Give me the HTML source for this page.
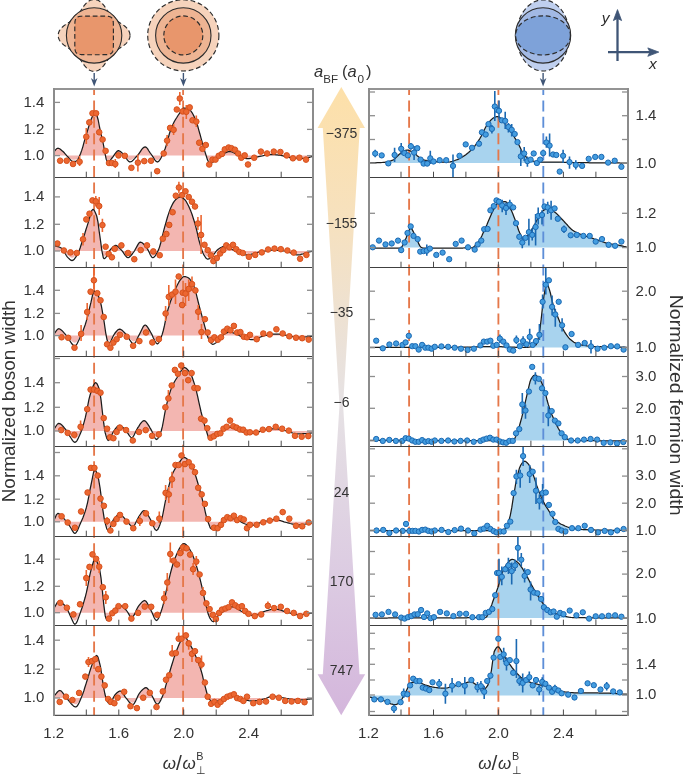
<!DOCTYPE html>
<html><head><meta charset="utf-8"><title>figure</title>
<style>
html,body{margin:0;padding:0;background:#fff;}
body{width:685px;height:781px;overflow:hidden;position:relative;}
svg{position:absolute;left:0;top:0;}
svg text{font-family:"Liberation Sans",Arial,sans-serif;}
</style></head><body>
<svg width="685" height="781" viewBox="0 0 685 781">
<defs>
<linearGradient id="ag" x1="0" y1="87" x2="0" y2="715" gradientUnits="userSpaceOnUse"><stop offset="0" stop-color="#fde0a9"/><stop offset="0.22" stop-color="#f6e1bf"/><stop offset="0.5" stop-color="#e6e2e4"/><stop offset="0.78" stop-color="#dccbe2"/><stop offset="1" stop-color="#d4b6dc"/></linearGradient>
<clipPath id="cl1"><rect x="54" y="89" width="259" height="88.5"/></clipPath>
<clipPath id="cl2"><rect x="54" y="177.5" width="259" height="90"/></clipPath>
<clipPath id="cl3"><rect x="54" y="267.5" width="259" height="89"/></clipPath>
<clipPath id="cl4"><rect x="54" y="356.5" width="259" height="90"/></clipPath>
<clipPath id="cl5"><rect x="54" y="446.5" width="259" height="90"/></clipPath>
<clipPath id="cl6"><rect x="54" y="536.5" width="259" height="89"/></clipPath>
<clipPath id="cl7"><rect x="54" y="625.5" width="259" height="89.8"/></clipPath>
<clipPath id="cr1"><rect x="369" y="89" width="259" height="88.5"/></clipPath>
<clipPath id="cr2"><rect x="369" y="177.5" width="259" height="90"/></clipPath>
<clipPath id="cr3"><rect x="369" y="267.5" width="259" height="89"/></clipPath>
<clipPath id="cr4"><rect x="369" y="356.5" width="259" height="90"/></clipPath>
<clipPath id="cr5"><rect x="369" y="446.5" width="259" height="90"/></clipPath>
<clipPath id="cr6"><rect x="369" y="536.5" width="259" height="89"/></clipPath>
<clipPath id="cr7"><rect x="369" y="625.5" width="259" height="89.8"/></clipPath>
</defs>
<polygon points="341.3,87.1 365,128 359.8,128 343.1,405 359.5,674.3 365.2,674.3 341.2,715.2 317.6,674.3 322.8,674.3 339.5,405 322.8,128 317.6,128" fill="url(#ag)"/>
<g clip-path="url(#cl1)">
<path d="M54 151.6 L55.3 150.2 L56.5 148.8 L57.8 148.2 L59.1 148.5 L60.4 149.3 L61.7 150.4 L63 151.5 L64.3 152.8 L65.6 154.3 L66.9 155.6 L68.2 155.6 L69.4 155.6 L70.6 155.6 L71.8 155.6 L73 155.6 L74.2 155.6 L75.3 155.6 L76.5 155.6 L77.9 155.6 L79.2 155.6 L80.6 153.5 L81.7 150.4 L82.9 146.6 L84 142.4 L85.2 138.3 L86.3 134.5 L87.4 131 L88.5 127.4 L89.6 123.8 L90.7 120.5 L91.8 117.7 L92.9 115.6 L93.8 114.1 L94.8 113.3 L95.8 113.8 L96.8 115 L98.2 120 L99.5 127 L100.5 131.6 L101.6 136.3 L102.7 141 L103.7 146 L105 153.4 L106.2 155.6 L107.1 155.6 L108 155.6 L109.3 155.6 L110.7 155.6 L112 155.6 L113.3 155.6 L114.6 154.4 L115.9 152.6 L117.2 151.2 L118.5 150.7 L119.6 151 L120.7 151.7 L121.8 152.7 L122.9 153.9 L124 155 L125.2 155.6 L126.4 155.6 L127.5 155.6 L128.7 155.6 L129.9 155.6 L131.1 155.6 L132.3 155.6 L133.4 155.6 L134.6 155.6 L135.8 155.6 L137 155.6 L138.2 154.7 L139.3 153.1 L140.5 151.3 L141.6 149.7 L142.8 148.2 L143.9 147.3 L145.1 146.9 L146.3 147.4 L147.5 148.7 L148.6 150.5 L149.8 152.3 L151 154 L152.3 155.6 L153.6 155.6 L154.8 155.6 L156.1 155.6 L157.4 155.6 L158.7 155.6 L160 155.6 L161.4 155.6 L162.7 154.4 L164 151.6 L165.3 148.3 L166.6 144.1 L167.8 139.5 L169.1 134.8 L170.4 130.5 L171.7 127 L173 124.3 L174.2 121.8 L175.5 119.5 L176.8 117.5 L178 115.5 L179.3 113.7 L180.5 111.9 L181.7 110 L182.8 108.6 L184 108 L185.1 108.1 L186.3 108.4 L187.4 108.8 L188.6 109.3 L189.7 109.9 L190.8 110.9 L192 112.5 L193.1 114.5 L194.3 116.9 L195.4 119.4 L196.5 122.4 L197.7 126 L198.8 130.1 L200 134.2 L201.1 138.3 L202.4 142.8 L203.6 147.4 L204.9 151.6 L206.2 155.6 L207.4 155.6 L208.7 155.6 L209.6 155.6 L210.6 155.6 L211.7 155.6 L212.8 155.6 L213.8 155.6 L214.9 155.6 L216 155.6 L217.2 155.6 L218.4 155.6 L219.6 155.6 L220.8 155.2 L222 154.5 L223.2 153.8 L224.5 153.2 L225.8 152.6 L227 152.1 L228.2 151.7 L229.5 151.6 L230.7 151.7 L231.9 152 L233.1 152.5 L234.2 153 L235.4 153.6 L236.6 154.2 L237.8 154.9 L239 155.4 L240.3 155.6 L241.5 155.6 L242.8 155.6 L244.1 155.6 L245.3 155.6 L246.6 155.6 L247.8 155.6 L249 155.6 L250.2 155.6 L251.4 155.6 L252.6 155.6 L253.9 155.6 L255.1 155.6 L256.3 155.6 L257.5 155.6 L258.7 155.6 L259.9 155.6 L261 155.6 L262.2 155.6 L263.3 155.6 L264.5 155.5 L265.6 155.2 L266.7 155 L267.9 154.8 L269 154.6 L270.2 154.5 L271.3 154.5 L272.5 154.5 L273.7 154.6 L274.9 154.7 L276.1 154.8 L277.2 154.9 L278.4 155.1 L279.6 155.2 L280.8 155.4 L282 155.6 L283.2 155.6 L284.4 155.6 L285.6 155.6 L286.7 155.6 L287.9 155.6 L289.1 155.6 L290.3 155.6 L291.5 155.6 L292.7 155.6 L293.9 155.6 L295.1 155.6 L296.3 155.6 L297.6 155.6 L298.8 155.6 L300 155.6 L301.2 155.6 L302.4 155.6 L303.6 155.6 L304.8 155.6 L306 155.6 L307.1 155.6 L308.3 155.6 L309.5 155.6 L310.6 155.6 L311.8 155.6 L313 155.6 L315 155.6 L315 156.2 L313 156.2 L311.8 156.3 L310.6 156.6 L309.5 156.8 L308.3 157 L307.1 157.2 L306 157.3 L304.8 157.5 L303.6 157.5 L302.4 157.5 L301.2 157.5 L300 157.5 L298.8 157.4 L297.6 157.4 L296.3 157.4 L295.1 157.3 L293.9 157.3 L292.7 157.2 L291.5 157.1 L290.3 157.1 L289.1 157 L287.9 156.8 L286.7 156.6 L285.6 156.3 L284.4 156.1 L283.2 155.8 L282 155.6 L280.8 155.6 L279.6 155.6 L278.4 155.6 L277.2 155.6 L276.1 155.6 L274.9 155.6 L273.7 155.6 L272.5 155.6 L271.3 155.6 L270.2 155.6 L269 155.6 L267.9 155.6 L266.7 155.6 L265.6 155.6 L264.5 155.6 L263.3 155.7 L262.2 155.8 L261 156 L259.9 156.2 L258.7 156.3 L257.5 156.5 L256.3 156.7 L255.1 156.9 L253.9 157.1 L252.6 157.3 L251.4 157.4 L250.2 157.6 L249 157.7 L247.8 157.7 L246.6 157.8 L245.3 157.7 L244.1 157.3 L242.8 156.9 L241.5 156.4 L240.3 155.9 L239 155.6 L237.8 155.6 L236.6 155.6 L235.4 155.6 L234.2 155.6 L233.1 155.6 L231.9 155.6 L230.7 155.6 L229.5 155.6 L228.2 155.6 L227 155.6 L225.8 155.6 L224.5 155.6 L223.2 155.6 L222 155.6 L220.8 155.6 L219.6 155.9 L218.4 156.6 L217.2 157.3 L216 158 L214.9 158.7 L213.8 159.5 L212.8 160.3 L211.7 160.8 L210.6 161.1 L209.6 160.8 L208.7 160.1 L207.4 158.4 L206.2 155.7 L204.9 155.6 L203.6 155.6 L202.4 155.6 L201.1 155.6 L200 155.6 L198.8 155.6 L197.7 155.6 L196.5 155.6 L195.4 155.6 L194.3 155.6 L193.1 155.6 L192 155.6 L190.8 155.6 L189.7 155.6 L188.6 155.6 L187.4 155.6 L186.3 155.6 L185.1 155.6 L184 155.6 L182.8 155.6 L181.7 155.6 L180.5 155.6 L179.3 155.6 L178 155.6 L176.8 155.6 L175.5 155.6 L174.2 155.6 L173 155.6 L171.7 155.6 L170.4 155.6 L169.1 155.6 L167.8 155.6 L166.6 155.6 L165.3 155.6 L164 155.6 L162.7 155.6 L161.4 156.8 L160 158.4 L158.7 159.6 L157.4 160.1 L156.1 159.7 L154.8 158.6 L153.6 157.2 L152.3 155.8 L151 155.6 L149.8 155.6 L148.6 155.6 L147.5 155.6 L146.3 155.6 L145.1 155.6 L143.9 155.6 L142.8 155.6 L141.6 155.6 L140.5 155.6 L139.3 155.6 L138.2 155.6 L137 155.9 L135.8 156.7 L134.6 157.7 L133.4 158.6 L132.3 159.3 L131.1 159.9 L129.9 160.1 L128.7 159.7 L127.5 158.7 L126.4 157.5 L125.2 156.2 L124 155.6 L122.9 155.6 L121.8 155.6 L120.7 155.6 L119.6 155.6 L118.5 155.6 L117.2 155.6 L115.9 155.6 L114.6 155.6 L113.3 156.1 L112 157.3 L110.7 158.4 L109.3 159.6 L108 160.1 L107.1 159.5 L106.2 158.1 L105 155.6 L103.7 155.6 L102.7 155.6 L101.6 155.6 L100.5 155.6 L99.5 155.6 L98.2 155.6 L96.8 155.6 L95.8 155.6 L94.8 155.6 L93.8 155.6 L92.9 155.6 L91.8 155.6 L90.7 155.6 L89.6 155.6 L88.5 155.6 L87.4 155.6 L86.3 155.6 L85.2 155.6 L84 155.6 L82.9 155.6 L81.7 155.6 L80.6 155.6 L79.2 156.4 L77.9 158.4 L76.5 159.4 L75.3 159.6 L74.2 159.7 L73 159.7 L71.8 159.4 L70.6 158.7 L69.4 157.7 L68.2 156.8 L66.9 155.8 L65.6 155.6 L64.3 155.6 L63 155.6 L61.7 155.6 L60.4 155.6 L59.1 155.6 L57.8 155.6 L56.5 155.6 L55.3 155.6 L54 155.6 L52 155.6 L52 151.6 Z" fill="#f3b6b1"/>
</g>
<g clip-path="url(#cr1)">
<path d="M368.5 163 L369.7 163 L370.9 162.9 L372.2 162.9 L373.4 162.8 L374.6 162.8 L375.9 162.8 L377.1 162.7 L378.3 162.7 L379.5 162.6 L380.8 162.6 L382 162.5 L383.2 162.4 L384.4 162.3 L385.6 162.1 L386.8 161.9 L387.9 161.7 L389.1 161.4 L390.3 161 L391.5 160.6 L392.7 160.2 L394 159.5 L395.2 158.4 L396.5 157.1 L397.8 155.8 L399 154.5 L400.3 153.5 L401.6 152.6 L402.9 151.7 L404.3 150.9 L405.6 150.3 L406.9 150.1 L408 150.2 L409.1 150.5 L410.2 150.9 L411.3 151.4 L412.4 152 L413.5 152.6 L414.6 153.4 L415.8 154.3 L416.9 155.4 L418.1 156.4 L419.2 157.3 L420.3 158 L421.5 158.7 L422.6 159.3 L423.8 159.8 L424.9 160.2 L426 160.4 L427.2 160.7 L428.3 160.9 L429.5 161 L430.6 161.2 L431.7 161.3 L432.9 161.4 L434 161.5 L435.2 161.6 L436.3 161.7 L437.6 161.8 L438.8 161.8 L440.1 161.9 L441.4 162 L442.6 162 L443.9 162 L445.2 162.1 L446.4 162.1 L447.7 162.1 L448.9 162 L450.1 161.9 L451.3 161.6 L452.4 161.3 L453.6 160.9 L454.8 160.5 L456 160 L457.2 159.6 L458.5 159.1 L459.7 158.5 L461 157.8 L462.3 157 L463.5 156.2 L464.8 155.4 L466.1 154.5 L467.3 153.5 L468.6 152.5 L469.9 151.3 L471.1 150.1 L472.4 148.8 L473.7 147.4 L474.9 145.8 L476.2 144 L477.5 142.2 L478.7 140.3 L480 138.3 L481.3 136.1 L482.5 133.6 L483.8 130.9 L485.1 128.3 L486.3 126 L487.6 124.1 L488.9 122.4 L490.2 120.8 L491.6 119.4 L492.9 118.2 L494.2 117.5 L495.5 117 L496.7 116.6 L498 116.5 L499.1 116.9 L500.3 117.9 L501.4 119.3 L502.6 120.8 L503.7 122.2 L504.8 123.6 L506 125 L507.1 126.6 L508.3 128.2 L509.4 129.8 L510.5 131.4 L511.7 133.1 L512.8 134.7 L514 136.5 L515.1 138.3 L516.4 140.4 L517.6 142.7 L518.9 145 L520.2 147.6 L521.4 150.3 L522.7 152.6 L524 154.4 L525.2 156 L526.5 157.3 L527.6 158.2 L528.8 159 L529.9 159.7 L531.1 160.3 L532.2 160.7 L533.5 161.1 L534.7 161.4 L536 161.7 L537.3 161.9 L538.5 162 L539.8 162.1 L541 162.1 L542.1 162.1 L543.3 162.1 L544.4 162.1 L545.6 162.1 L546.8 162.1 L547.9 162.1 L549.1 162.1 L550.3 162.1 L551.4 162.1 L552.6 162.1 L553.7 162.1 L554.9 162.1 L556.1 162.1 L557.3 162.1 L558.5 162.1 L559.6 162.2 L560.8 162.2 L562 162.2 L563.2 162.3 L564.4 162.3 L565.6 162.4 L566.8 162.4 L568 162.4 L569.1 162.5 L570.3 162.5 L571.5 162.6 L572.7 162.6 L573.9 162.6 L575.1 162.6 L576.3 162.6 L577.5 162.6 L578.7 162.7 L579.9 162.7 L581 162.7 L582.2 162.7 L583.4 162.7 L584.6 162.7 L585.8 162.7 L587 162.7 L588.2 162.7 L589.4 162.8 L590.6 162.8 L591.8 162.8 L593 162.8 L594.1 162.8 L595.3 162.8 L596.5 162.8 L597.7 162.8 L598.9 162.8 L600.1 162.8 L601.3 162.8 L602.5 162.8 L603.7 162.9 L604.9 162.9 L606.1 162.9 L607.3 162.9 L608.4 162.9 L609.6 162.9 L610.8 162.9 L612 162.9 L613.2 162.9 L614.4 162.9 L615.6 162.9 L616.8 162.9 L618 162.9 L619.2 162.9 L620.4 163 L621.5 163 L622.7 163 L623.9 163 L625.1 163 L626.3 163 L627.5 163 L630 163 L630 163 L367 163 L367 163 Z" fill="#a8d3ee"/>
</g>
<g clip-path="url(#cl2)">
<path d="M54 245.4 L55.3 245.8 L56.5 246.2 L57.8 246.6 L59.1 247 L60.3 247.5 L61.6 248.2 L62.7 249.3 L63.9 251 L65 251 L66.2 251 L67.3 251 L68.5 251 L69.7 251 L70.8 251 L72 251 L73.1 251 L74.3 251 L75.4 251 L76.6 251 L77.7 251 L78.9 251 L80.1 248 L81.3 244.3 L82.5 240.6 L83.6 237.1 L84.8 233.5 L85.9 229.8 L87.1 226.1 L88.2 222.6 L89.4 218.6 L90.6 214.2 L91.7 210.7 L92.9 209.3 L94.2 210.3 L95.4 212.7 L96.7 216 L98 222.2 L99.2 231.5 L100.5 240.6 L101.9 250.8 L103.3 251 L103.8 251 L104.3 251 L105.4 251 L106.6 251 L107.7 251 L108.9 251 L110 250.1 L111.1 248.8 L112.3 247.6 L113.4 246.5 L114.6 245.7 L115.7 245.4 L116.8 245.7 L118 246.5 L119.1 247.7 L120.3 248.9 L121.4 250.1 L122.7 251 L124 251 L125.4 251 L126.7 251 L128 251 L129.1 251 L130.3 251 L131.4 251 L132.6 251 L133.7 251 L134.8 250.3 L135.9 248.3 L137.1 246.1 L138.2 244.1 L139.3 242.6 L140.4 242.1 L141.7 242.5 L143 243.5 L144.4 244.9 L145.7 246.6 L147 248.2 L148.1 250.1 L149.3 251 L150.4 251 L151.6 251 L152.7 251 L153.8 251 L155 251 L156.1 251 L157.3 251 L158.4 250.1 L159.5 247.1 L160.7 243 L161.8 238.3 L163 233.6 L164.1 229.2 L165.2 225.1 L166.4 221 L167.5 217 L168.7 213.4 L169.8 210.3 L170.9 207.6 L172.1 205.1 L173.2 202.9 L174.4 201.1 L175.5 199.8 L176.7 198.8 L177.8 197.9 L179 197.2 L180.2 197 L181.5 197.3 L182.7 198 L184 198.9 L185.1 200 L186.3 201.7 L187.4 203.7 L188.6 206 L189.7 208.4 L190.8 211.1 L192 214.3 L193.1 217.8 L194.3 221.5 L195.4 225.4 L196.6 229.9 L197.8 235 L198.9 240 L200.1 244.4 L201.4 248.5 L202.6 251 L203.9 251 L205.2 251 L206.4 251 L207.7 251 L208.9 251 L210.1 251 L211.3 251 L212.5 251 L213.6 251 L214.8 251 L215.9 251 L217.1 250.2 L218.2 249.2 L219.3 248.5 L220.4 247.8 L221.5 247.2 L222.6 246.7 L223.7 246.4 L224.8 246.3 L226.1 246.5 L227.4 247 L228.8 247.7 L230.1 248.5 L231.4 249.2 L232.7 249.8 L233.9 250.5 L235.2 251 L236.5 251 L237.7 251 L239 251 L240.3 251 L241.5 251 L242.8 251 L244.1 251 L245.3 251 L246.6 251 L247.8 251 L249 251 L250.2 251 L251.4 251 L252.6 251 L253.9 251 L255.1 251 L256.3 251 L257.5 251 L258.7 251 L259.9 251 L261.1 251 L262.3 251 L263.5 251 L264.7 251 L265.9 250.9 L267.2 250.7 L268.4 250.5 L269.6 250.3 L270.8 250.2 L272 250.1 L273.2 250.1 L274.3 250.1 L275.5 250.1 L276.6 250.2 L277.8 250.3 L278.9 250.4 L280 250.5 L281.2 250.6 L282.3 250.7 L283.5 250.9 L284.6 251 L285.8 251 L287 251 L288.2 251 L289.4 251 L290.6 251 L291.9 251 L293.1 251 L294.3 251 L295.5 251 L296.7 251 L297.9 251 L299.2 251 L300.4 251 L301.7 251 L303 251 L304.2 251 L305.5 251 L306.8 251 L308 251 L309.2 251 L310.5 251 L311.8 251 L313 251 L315 251 L315 251 L313 251 L311.8 251.2 L310.5 251.5 L309.2 251.7 L308 251.9 L306.8 252.2 L305.5 252.4 L304.2 252.7 L303 252.9 L301.7 253.2 L300.4 253.5 L299.2 253.7 L297.9 253.7 L296.7 253.7 L295.5 253.5 L294.3 253.3 L293.1 253 L291.9 252.7 L290.6 252.3 L289.4 252 L288.2 251.7 L287 251.4 L285.8 251.1 L284.6 251 L283.5 251 L282.3 251 L281.2 251 L280 251 L278.9 251 L277.8 251 L276.6 251 L275.5 251 L274.3 251 L273.2 251 L272 251 L270.8 251 L269.6 251 L268.4 251 L267.2 251 L265.9 251 L264.7 251.1 L263.5 251.2 L262.3 251.4 L261.1 251.5 L259.9 251.7 L258.7 251.9 L257.5 252.1 L256.3 252.3 L255.1 252.5 L253.9 252.8 L252.6 253 L251.4 253.3 L250.2 253.4 L249 253.6 L247.8 253.7 L246.6 253.7 L245.3 253.7 L244.1 253.5 L242.8 253.3 L241.5 253 L240.3 252.7 L239 252.4 L237.7 252.1 L236.5 251.6 L235.2 251.2 L233.9 251 L232.7 251 L231.4 251 L230.1 251 L228.8 251 L227.4 251 L226.1 251 L224.8 251 L223.7 251 L222.6 251 L221.5 251 L220.4 251 L219.3 251 L218.2 251 L217.1 251 L215.9 251.4 L214.8 252.5 L213.6 253.5 L212.5 254.4 L211.3 255.1 L210.1 255.9 L208.9 256.5 L207.7 256.7 L206.4 256.3 L205.2 255.1 L203.9 253.7 L202.6 251.8 L201.4 251 L200.1 251 L198.9 251 L197.8 251 L196.6 251 L195.4 251 L194.3 251 L193.1 251 L192 251 L190.8 251 L189.7 251 L188.6 251 L187.4 251 L186.3 251 L185.1 251 L184 251 L182.7 251 L181.5 251 L180.2 251 L179 251 L177.8 251 L176.7 251 L175.5 251 L174.4 251 L173.2 251 L172.1 251 L170.9 251 L169.8 251 L168.7 251 L167.5 251 L166.4 251 L165.2 251 L164.1 251 L163 251 L161.8 251 L160.7 251 L159.5 251 L158.4 251 L157.3 251.9 L156.1 253.4 L155 254.6 L153.8 255.4 L152.7 255.7 L151.6 255.2 L150.4 253.8 L149.3 252.1 L148.1 251 L147 251 L145.7 251 L144.4 251 L143 251 L141.7 251 L140.4 251 L139.3 251 L138.2 251 L137.1 251 L135.9 251 L134.8 251 L133.7 251.7 L132.6 252.7 L131.4 253.8 L130.3 254.7 L129.1 255.4 L128 255.7 L126.7 255.3 L125.4 254.2 L124 252.9 L122.7 251.5 L121.4 251 L120.3 251 L119.1 251 L118 251 L116.8 251 L115.7 251 L114.6 251 L113.4 251 L112.3 251 L111.1 251 L110 251 L108.9 251.5 L107.7 253.1 L106.6 254.7 L105.4 255.9 L104.3 256.4 L103.8 256.2 L103.3 255.7 L101.9 251 L100.5 251 L99.2 251 L98 251 L96.7 251 L95.4 251 L94.2 251 L92.9 251 L91.7 251 L90.6 251 L89.4 251 L88.2 251 L87.1 251 L85.9 251 L84.8 251 L83.6 251 L82.5 251 L81.3 251 L80.1 251 L78.9 251.3 L77.7 253 L76.6 254.4 L75.4 255.6 L74.3 256.7 L73.1 257.4 L72 257.7 L70.8 257.5 L69.7 256.8 L68.5 256 L67.3 255.1 L66.2 254 L65 252.6 L63.9 251.1 L62.7 251 L61.6 251 L60.3 251 L59.1 251 L57.8 251 L56.5 251 L55.3 251 L54 251 L52 251 L52 245.4 Z" fill="#f3b6b1"/>
</g>
<g clip-path="url(#cr2)">
<path d="M368.5 247.6 L369.7 247.6 L370.9 247.6 L372 247.6 L373.2 247.6 L374.4 247.6 L375.6 247.6 L376.7 247.6 L377.9 247.6 L379.1 247.6 L380.3 247.6 L381.5 247.6 L382.6 247.6 L383.8 247.6 L385 247.6 L386.2 247.6 L387.3 247.6 L388.5 247.6 L389.7 247.6 L390.9 247.6 L392.1 247.6 L393.2 247.6 L394.4 247.6 L395.6 247.6 L396.8 247.6 L397.9 247.6 L399.1 247.6 L400.3 247.6 L401.5 247.4 L402.6 245.5 L403.8 243 L405 240.6 L406.1 238 L407.3 234.8 L408.4 231.6 L409.6 229.2 L410.7 228.3 L411.9 229.1 L413 231.1 L414.2 233.5 L415.4 235.9 L416.5 238.3 L417.7 241.2 L418.8 243.9 L420 246.1 L421.1 247.3 L422.4 247.6 L423.6 247.6 L424.9 247.6 L426.1 247.6 L427.3 247.6 L428.5 247.6 L429.7 247.6 L430.9 247.6 L432.1 247.6 L433.2 247.6 L434.4 247.6 L435.6 247.6 L436.8 247.6 L438 247.6 L439.2 247.6 L440.4 247.6 L441.6 247.6 L442.8 247.6 L444 247.6 L445.2 247.6 L446.4 247.6 L447.6 247.6 L448.7 247.6 L449.9 247.6 L451.1 247.6 L452.3 247.6 L453.5 247.6 L454.7 247.6 L455.9 247.6 L457.1 247.6 L458.3 247.6 L459.5 247.6 L460.7 247.6 L461.9 247.6 L463.1 247.6 L464.2 247.6 L465.4 247.6 L466.6 247.6 L467.8 247.6 L469 247.6 L470.2 247.6 L471.4 247.6 L472.5 247.6 L473.6 247 L474.7 246.1 L475.8 245 L476.9 243.8 L478 242.5 L479.3 240.7 L480.6 238.5 L481.9 235.8 L483.1 233 L484.4 230.1 L485.7 227.3 L487 224.5 L488.2 221.5 L489.5 218.5 L490.8 215.6 L492 212.8 L493.3 210.3 L494.5 208 L495.6 205.8 L496.8 204 L498 203 L499.3 202.6 L500.5 202.3 L501.8 202 L503.1 201.9 L504.3 201.7 L505.6 201.7 L506.8 202.4 L508 204 L509.1 206.2 L510.3 208.4 L511.5 210.8 L512.7 213.6 L513.9 216.7 L515.1 219.8 L516.3 223.1 L517.5 226.8 L518.6 230.2 L519.8 233 L521.1 235.6 L522.3 237.8 L523.6 238.7 L524.8 238.3 L526 237.4 L527.2 236.2 L528.4 234.9 L529.5 233.5 L530.7 231.6 L531.8 229.6 L533 227.5 L534.1 225.4 L535.3 223.3 L536.5 221 L537.6 218.9 L538.8 216.9 L540 215 L541.2 213 L542.4 211.4 L543.6 210.3 L544.8 209.6 L546 209 L547.1 208.6 L548.3 208.4 L549.4 208.6 L550.5 209 L551.6 209.7 L552.7 210.5 L553.8 211.4 L554.9 212.2 L556.2 213.2 L557.4 214.4 L558.7 215.7 L560 217.1 L561.2 218.5 L562.5 219.8 L563.8 221.1 L565 222.5 L566.3 223.9 L567.6 225.3 L568.8 226.7 L570.1 228 L571.4 229.2 L572.6 230.2 L573.9 231.1 L575.2 231.8 L576.4 232.4 L577.7 233 L579 233.6 L580.2 234.1 L581.5 234.5 L582.8 235 L584 235.4 L585.3 235.9 L586.4 236.3 L587.6 236.7 L588.7 237.1 L589.9 237.5 L591 237.9 L592.1 238.2 L593.3 238.6 L594.4 239 L595.6 239.3 L596.7 239.7 L598 240.1 L599.2 240.6 L600.5 241.1 L601.8 241.5 L603 242 L604.3 242.4 L605.6 242.8 L606.8 243.2 L608.1 243.5 L609.4 243.8 L610.6 244 L611.9 244.2 L613.2 244.4 L614.4 244.6 L615.7 244.8 L617 245 L618.2 245.2 L619.5 245.4 L620.6 245.6 L621.8 245.9 L622.9 246.2 L624.1 246.5 L625.2 246.7 L626.4 247 L627.5 247.3 L630 247.3 L630 247.6 L367 247.6 L367 247.6 Z" fill="#a8d3ee"/>
</g>
<g clip-path="url(#cl3)">
<path d="M54 334 L55.2 332.4 L56.4 330.7 L57.5 329.3 L58.7 328.7 L59.8 329 L60.9 329.7 L62.1 330.7 L63.2 331.9 L64.3 333.2 L65.4 334.4 L66.6 335.6 L67.8 335.6 L69 335.6 L70.2 335.6 L71.3 335.6 L72.5 335.6 L73.7 335.6 L74.9 335.6 L76 335.6 L77.2 335.6 L78.3 335.6 L79.5 335.6 L80.6 335.6 L81.7 333.8 L82.9 331 L84 328 L85.2 324.7 L86.3 321.1 L87.5 316.9 L88.7 312 L89.8 307 L91 302.2 L92.5 295.3 L93.9 291.2 L95.2 291.7 L96.4 292.9 L97.7 294.6 L98.9 297.2 L100.2 301.2 L101.4 306 L102.8 313.8 L104.3 323 L105.7 332.8 L107.1 335.6 L108 335.6 L109 335.6 L110.1 335.6 L111.3 335.6 L112.4 335.6 L113.6 335.3 L114.7 333.5 L115.9 332 L117.1 330.6 L118.3 329.5 L119.5 329.1 L120.8 329.4 L122.1 330.3 L123.5 331.6 L124.8 333 L126.1 334.4 L127.4 335.6 L128.6 335.6 L129.9 335.6 L131.2 335.6 L132.4 335.6 L133.7 335.6 L134.8 335.6 L136 335.6 L137.1 335.6 L138.3 335.6 L139.4 334.4 L140.5 332.2 L141.7 329.7 L142.8 327.4 L144 325.7 L145.1 325 L146.2 325.5 L147.4 326.8 L148.5 328.6 L149.7 330.6 L150.8 332.5 L152.1 334.9 L153.4 335.6 L154.8 335.6 L156.1 335.6 L157.4 335.6 L158.6 335.6 L159.8 335.6 L161 335.6 L162.2 334.4 L163.3 330.5 L164.5 325.4 L165.6 319.8 L166.8 314.3 L167.9 309.8 L169.2 305.6 L170.4 301.8 L171.7 298.2 L173 294.8 L174.2 291.7 L175.5 288.9 L176.6 286.5 L177.7 284.3 L178.8 282.2 L179.9 280.4 L181 279 L182.5 277.3 L184 276.5 L185.3 276.6 L186.5 277 L187.8 277.5 L188.9 278.2 L190.1 279.5 L191.2 281 L192.4 283 L193.5 285.1 L194.6 288 L195.8 292.1 L196.9 296.7 L198.1 301.5 L199.2 306 L200.3 310.2 L201.5 314.4 L202.6 318.7 L203.8 322.8 L204.9 326.8 L206.2 331.4 L207.4 335.6 L208.7 335.6 L210 335.6 L211.2 335.6 L212.5 335.6 L213.7 335.6 L214.8 335.6 L216 335.6 L217.2 335.6 L218.3 335.6 L219.4 335.6 L220.6 335.6 L221.7 335.6 L222.8 335.3 L223.9 334.4 L225 333.7 L226.1 333.1 L227.3 332.6 L228.4 332.2 L229.5 332.1 L230.8 332.2 L232 332.5 L233.3 332.9 L234.6 333.4 L235.8 333.9 L237.1 334.4 L238.4 335 L239.6 335.6 L240.9 335.6 L242.2 335.6 L243.4 335.6 L244.7 335.6 L246 335.6 L247.2 335.6 L248.5 335.6 L249.8 335.6 L251 335.6 L252.3 335.6 L253.6 335.6 L254.8 335.6 L256.1 335.6 L257.4 335.6 L258.6 335.6 L259.9 335.6 L261.2 335.6 L262.4 335.6 L263.7 335.6 L264.8 335.6 L266 335.4 L267.1 335.1 L268.3 334.9 L269.4 334.6 L270.5 334.4 L271.7 334.3 L272.8 334.1 L274 334 L275.1 334 L276.4 334 L277.6 334.1 L278.9 334.2 L280.2 334.4 L281.4 334.6 L282.7 334.8 L284 335 L285.2 335.2 L286.5 335.4 L287.8 335.6 L289 335.6 L290.3 335.6 L291.6 335.6 L292.8 335.6 L294.1 335.6 L295.4 335.6 L296.6 335.6 L297.9 335.6 L299.1 335.6 L300.2 335.6 L301.4 335.6 L302.5 335.6 L303.7 335.6 L304.9 335.6 L306 335.6 L307.2 335.6 L308.4 335.6 L309.5 335.6 L310.7 335.6 L311.8 335.6 L313 335.6 L315 335.6 L315 336.1 L313 336.1 L311.8 336.1 L310.7 336.2 L309.5 336.3 L308.4 336.4 L307.2 336.4 L306 336.5 L304.9 336.6 L303.7 336.6 L302.5 336.7 L301.4 336.7 L300.2 336.8 L299.1 336.8 L297.9 336.8 L296.6 336.8 L295.4 336.7 L294.1 336.5 L292.8 336.4 L291.6 336.2 L290.3 336 L289 335.8 L287.8 335.6 L286.5 335.6 L285.2 335.6 L284 335.6 L282.7 335.6 L281.4 335.6 L280.2 335.6 L278.9 335.6 L277.6 335.6 L276.4 335.6 L275.1 335.6 L274 335.6 L272.8 335.6 L271.7 335.6 L270.5 335.6 L269.4 335.6 L268.3 335.6 L267.1 335.6 L266 335.6 L264.8 335.6 L263.7 335.8 L262.4 336.1 L261.2 336.4 L259.9 336.8 L258.6 337.2 L257.4 337.6 L256.1 337.9 L254.8 338.2 L253.6 338.4 L252.3 338.5 L251 338.4 L249.8 338.3 L248.5 338.1 L247.2 337.9 L246 337.7 L244.7 337.4 L243.4 337.1 L242.2 336.7 L240.9 336.2 L239.6 335.6 L238.4 335.6 L237.1 335.6 L235.8 335.6 L234.6 335.6 L233.3 335.6 L232 335.6 L230.8 335.6 L229.5 335.6 L228.4 335.6 L227.3 335.6 L226.1 335.6 L225 335.6 L223.9 335.6 L222.8 335.6 L221.7 336.3 L220.6 337.4 L219.4 338.4 L218.3 339.4 L217.2 340.1 L216 340.6 L214.8 341.2 L213.7 341.5 L212.5 341.7 L211.2 341.1 L210 339.8 L208.7 338.1 L207.4 335.8 L206.2 335.6 L204.9 335.6 L203.8 335.6 L202.6 335.6 L201.5 335.6 L200.3 335.6 L199.2 335.6 L198.1 335.6 L196.9 335.6 L195.8 335.6 L194.6 335.6 L193.5 335.6 L192.4 335.6 L191.2 335.6 L190.1 335.6 L188.9 335.6 L187.8 335.6 L186.5 335.6 L185.3 335.6 L184 335.6 L182.5 335.6 L181 335.6 L179.9 335.6 L178.8 335.6 L177.7 335.6 L176.6 335.6 L175.5 335.6 L174.2 335.6 L173 335.6 L171.7 335.6 L170.4 335.6 L169.2 335.6 L167.9 335.6 L166.8 335.6 L165.6 335.6 L164.5 335.6 L163.3 335.6 L162.2 335.6 L161 337.1 L159.8 339.2 L158.6 340.8 L157.4 341.4 L156.1 340.8 L154.8 339.3 L153.4 337.2 L152.1 335.6 L150.8 335.6 L149.7 335.6 L148.5 335.6 L147.4 335.6 L146.2 335.6 L145.1 335.6 L144 335.6 L142.8 335.6 L141.7 335.6 L140.5 335.6 L139.4 335.6 L138.3 336.3 L137.1 338.1 L136 339.7 L134.8 340.9 L133.7 341.4 L132.4 341 L131.2 340.1 L129.9 338.7 L128.6 337.3 L127.4 335.9 L126.1 335.6 L124.8 335.6 L123.5 335.6 L122.1 335.6 L120.8 335.6 L119.5 335.6 L118.3 335.6 L117.1 335.6 L115.9 335.6 L114.7 335.6 L113.6 335.6 L112.4 337.1 L111.3 338.9 L110.1 340.2 L109 340.8 L108 340.2 L107.1 338.8 L105.7 335.6 L104.3 335.6 L102.8 335.6 L101.4 335.6 L100.2 335.6 L98.9 335.6 L97.7 335.6 L96.4 335.6 L95.2 335.6 L93.9 335.6 L92.5 335.6 L91 335.6 L89.8 335.6 L88.7 335.6 L87.5 335.6 L86.3 335.6 L85.2 335.6 L84 335.6 L82.9 335.6 L81.7 335.6 L80.6 336.1 L79.5 337.8 L78.3 339.6 L77.2 341.2 L76 342.3 L74.9 342.7 L73.7 342.5 L72.5 341.8 L71.3 340.8 L70.2 339.6 L69 338.2 L67.8 336.9 L66.6 335.7 L65.4 335.6 L64.3 335.6 L63.2 335.6 L62.1 335.6 L60.9 335.6 L59.8 335.6 L58.7 335.6 L57.5 335.6 L56.4 335.6 L55.2 335.6 L54 335.6 L52 335.6 L52 334 Z" fill="#f3b6b1"/>
</g>
<g clip-path="url(#cr3)">
<path d="M368.5 347.3 L369.7 347.3 L370.9 347.3 L372.1 347.3 L373.3 347.3 L374.6 347.3 L375.8 347.3 L377 347.3 L378.2 347.3 L379.4 347.3 L380.6 347.3 L381.8 347.3 L383 347.3 L384.2 347.3 L385.5 347.3 L386.7 347.3 L387.9 347.3 L389.1 347.3 L390.3 347.3 L391.5 347.3 L392.7 347.3 L393.9 347.3 L395.2 347.3 L396.4 347.3 L397.6 347.3 L398.8 347.3 L400 347.3 L401.2 347.3 L402.4 347.3 L403.6 347.3 L404.8 347.3 L406 347.3 L407.1 347.3 L408.3 347.3 L409.5 347.3 L410.7 347.3 L411.9 347.3 L413.1 347.3 L414.3 347.3 L415.5 347.3 L416.7 347.3 L417.9 347.3 L419 347.3 L420.2 347.3 L421.4 347.3 L422.6 347.3 L423.8 347.3 L425 347.3 L426.2 347.3 L427.4 347.3 L428.6 347.3 L429.8 347.3 L431 347.3 L432.1 347.3 L433.3 347.3 L434.5 347.3 L435.7 347.3 L436.9 347.3 L438.1 347.3 L439.3 347.3 L440.5 347.3 L441.7 347.3 L442.9 347.3 L444 347.3 L445.2 347.3 L446.4 347.3 L447.6 347.3 L448.8 347.3 L450 347.3 L451.2 347.3 L452.4 347.3 L453.6 347.3 L454.8 347.3 L456 347.3 L457.2 347.3 L458.4 347.2 L459.6 347.2 L460.8 347.2 L462 347.2 L463.2 347.2 L464.4 347.1 L465.6 347.1 L466.8 347.1 L468 347.1 L469.2 347 L470.4 347 L471.6 347 L472.8 346.9 L474 346.9 L475.2 346.9 L476.4 346.9 L477.6 346.8 L478.8 346.8 L480 346.8 L481.2 346.8 L482.5 346.7 L483.8 346.7 L485 346.7 L486.2 346.6 L487.5 346.6 L488.8 346.6 L490 346.6 L491.2 346.5 L492.5 346.5 L493.8 346.5 L495 346.5 L496.2 346.5 L497.5 346.5 L498.8 346.6 L500 346.7 L501.2 346.7 L502.5 346.8 L503.8 346.9 L505 347 L506.2 347.1 L507.5 347.1 L508.8 347.2 L510 347.2 L511.2 347.2 L512.4 347.2 L513.5 347.2 L514.7 347.2 L515.9 347.3 L517.1 347.3 L518.2 347.3 L519.4 347.3 L520.6 347.3 L521.8 347.3 L523 347.3 L524.1 347.3 L525.3 347.3 L526.5 347.3 L527.7 347.3 L528.9 347.2 L530.1 347 L531.2 346.7 L532.4 346.4 L533.6 346 L534.8 345.5 L536 344.9 L537.3 342.4 L538.5 337.2 L539.8 330.6 L541.2 319 L542.6 306 L544 295.5 L545.4 287.9 L546.2 285.3 L547 284.1 L548.1 285.7 L549.2 288.9 L550.5 293.5 L551.7 299.1 L553 304.1 L554.1 307.6 L555.3 310.8 L556.4 313.7 L557.6 316.5 L558.7 319.2 L559.8 321.9 L561 324.6 L562.1 327.2 L563.3 329.5 L564.4 331.6 L565.5 333.4 L566.7 335.2 L567.8 336.7 L569 338.1 L570.1 339.2 L571.4 340.3 L572.6 341.3 L573.9 342.2 L575.2 342.9 L576.4 343.6 L577.7 344 L578.9 344.3 L580 344.6 L581.2 344.9 L582.4 345.1 L583.5 345.3 L584.7 345.5 L585.9 345.7 L587.1 345.9 L588.2 346 L589.4 346.1 L590.6 346.2 L591.7 346.3 L592.9 346.4 L594.1 346.5 L595.3 346.5 L596.5 346.6 L597.7 346.6 L598.9 346.7 L600.1 346.7 L601.3 346.7 L602.4 346.8 L603.6 346.8 L604.8 346.8 L606 346.9 L607.2 346.9 L608.4 346.9 L609.6 346.9 L610.8 347 L612 347 L613.2 347 L614.4 347 L615.6 347.1 L616.8 347.1 L618 347.1 L619.1 347.1 L620.3 347.1 L621.5 347.2 L622.7 347.2 L623.9 347.2 L625.1 347.2 L626.3 347.3 L627.5 347.3 L630 347.3 L630 347.5 L367 347.5 L367 347.3 Z" fill="#a8d3ee"/>
</g>
<g clip-path="url(#cl4)">
<path d="M54 429.1 L55.2 427.4 L56.4 425.5 L57.5 424 L58.7 423.4 L59.8 423.6 L60.9 424.3 L62.1 425.3 L63.2 426.5 L64.3 427.8 L65.4 429.1 L66.6 430.7 L67.8 431 L68.9 431 L70.1 431 L71.3 431 L72.5 431 L73.7 431 L74.9 431 L76 431 L77.2 431 L78.3 431 L79.5 431 L80.6 431 L81.8 429.9 L82.9 426.2 L84.1 422.1 L85.3 417.7 L86.5 412.2 L87.7 405.9 L88.9 399.7 L90.1 395 L91.2 391.5 L92.4 388.2 L93.5 385.3 L94.7 383.3 L95.8 382.6 L97 383.7 L98.3 386.4 L99.5 390.2 L101 399.6 L102.4 412 L103.8 423.7 L105.2 431 L106.7 431 L108.1 431 L109.2 431 L110.4 431 L111.5 431 L112.7 431 L113.8 431 L114.9 429.5 L116.1 428 L117.2 426.6 L118.4 425.7 L119.5 425.3 L120.8 425.7 L122.1 426.7 L123.5 428 L124.8 429.6 L126.1 431 L127.2 431 L128.4 431 L129.5 431 L130.7 431 L131.8 431 L132.9 431 L134.1 431 L135.2 431 L136.4 430.2 L137.5 428.2 L138.8 426.3 L140.1 424.2 L141.5 422.4 L142.8 421.1 L144.1 420.6 L145.2 421 L146.3 422.1 L147.4 423.6 L148.6 425.4 L149.7 427.3 L150.8 429.1 L151.9 431 L153.1 431 L154.2 431 L155.4 431 L156.5 431 L157.7 431 L158.8 431 L160 431 L161.2 431 L162.4 426.4 L163.6 420 L164.8 413.2 L166 407.3 L167.1 402.7 L168.3 398.2 L169.4 394.1 L170.6 390.4 L171.7 387.4 L173 384.6 L174.2 382.2 L175.5 380 L176.8 378 L178 376 L179.3 374.1 L180.5 372 L181.7 369.8 L182.8 368.1 L184 367.4 L185.1 367.7 L186.3 368.4 L187.4 369.5 L188.6 370.8 L189.7 372.2 L190.8 374.1 L192 376.8 L193.1 380 L194.3 383.6 L195.4 387.4 L196.5 391.6 L197.7 396.6 L198.8 401.9 L200 407.2 L201.1 412 L202.3 416.6 L203.4 421.1 L204.6 425.3 L205.8 429.1 L207.1 431 L208.3 431 L209.6 431 L210.8 431 L212 431 L213.2 431 L214.4 431 L215.7 431 L216.9 431 L218.2 431 L219.5 431 L220.7 431 L222 431 L223.2 430.2 L224.5 429.4 L225.8 428.5 L227 427.9 L228.2 427.4 L229.5 427.2 L230.8 427.4 L232 427.8 L233.3 428.3 L234.6 429 L235.8 429.6 L237.1 430.1 L238.3 430.5 L239.5 430.9 L240.7 431 L241.8 431 L243 431 L244.2 431 L245.4 431 L246.6 431 L247.7 431 L248.9 431 L250 431 L251.2 431 L252.3 431 L253.6 431 L254.8 431 L256.1 431 L257.4 431 L258.6 431 L259.9 431 L261.2 430.8 L262.4 430.4 L263.7 430.1 L264.8 429.9 L266 429.7 L267.1 429.5 L268.3 429.3 L269.4 429.2 L270.5 429 L271.7 428.9 L272.8 428.8 L274 428.7 L275.1 428.7 L276.4 428.8 L277.6 428.9 L278.9 429.1 L280.2 429.4 L281.4 429.7 L282.7 430 L284 430.4 L285.2 430.7 L286.5 431 L287.8 431 L289 431 L290.3 431 L291.6 431 L292.8 431 L294.1 431 L295.4 431 L296.6 431 L297.9 431 L299.1 431 L300.2 431 L301.4 431 L302.5 431 L303.7 431 L304.9 431 L306 431 L307.2 431 L308.4 431 L309.5 431 L310.7 431 L311.8 431 L313 431 L315 431 L315 432.3 L313 432.3 L311.8 432.4 L310.7 432.5 L309.5 432.5 L308.4 432.6 L307.2 432.7 L306 432.7 L304.9 432.8 L303.7 432.9 L302.5 432.9 L301.4 433 L300.2 433 L299.1 433 L297.9 433 L296.6 433 L295.4 432.8 L294.1 432.6 L292.8 432.4 L291.6 432.1 L290.3 431.8 L289 431.5 L287.8 431.2 L286.5 431 L285.2 431 L284 431 L282.7 431 L281.4 431 L280.2 431 L278.9 431 L277.6 431 L276.4 431 L275.1 431 L274 431 L272.8 431 L271.7 431 L270.5 431 L269.4 431 L268.3 431 L267.1 431 L266 431 L264.8 431 L263.7 431 L262.4 431 L261.2 431 L259.9 431.2 L258.6 431.6 L257.4 431.9 L256.1 432.2 L254.8 432.5 L253.6 432.7 L252.3 432.8 L251.2 432.7 L250 432.7 L248.9 432.6 L247.7 432.4 L246.6 432.3 L245.4 432.2 L244.2 432 L243 431.8 L241.8 431.5 L240.7 431.2 L239.5 431 L238.3 431 L237.1 431 L235.8 431 L234.6 431 L233.3 431 L232 431 L230.8 431 L229.5 431 L228.2 431 L227 431 L225.8 431 L224.5 431 L223.2 431 L222 431 L220.7 431.6 L219.5 432.2 L218.2 432.9 L216.9 433.5 L215.7 434.2 L214.4 434.7 L213.2 435.2 L212 435.8 L210.8 436.2 L209.6 436.3 L208.3 435.2 L207.1 432.6 L205.8 431 L204.6 431 L203.4 431 L202.3 431 L201.1 431 L200 431 L198.8 431 L197.7 431 L196.5 431 L195.4 431 L194.3 431 L193.1 431 L192 431 L190.8 431 L189.7 431 L188.6 431 L187.4 431 L186.3 431 L185.1 431 L184 431 L182.8 431 L181.7 431 L180.5 431 L179.3 431 L178 431 L176.8 431 L175.5 431 L174.2 431 L173 431 L171.7 431 L170.6 431 L169.4 431 L168.3 431 L167.1 431 L166 431 L164.8 431 L163.6 431 L162.4 431 L161.2 431 L160 433.2 L158.8 435.1 L157.7 436.5 L156.5 437 L155.4 436.4 L154.2 435 L153.1 433.1 L151.9 431.2 L150.8 431 L149.7 431 L148.6 431 L147.4 431 L146.3 431 L145.2 431 L144.1 431 L142.8 431 L141.5 431 L140.1 431 L138.8 431 L137.5 431 L136.4 431 L135.2 432.2 L134.1 433.9 L132.9 435.2 L131.8 435.7 L130.7 435.3 L129.5 434.4 L128.4 433.2 L127.2 432 L126.1 431 L124.8 431 L123.5 431 L122.1 431 L120.8 431 L119.5 431 L118.4 431 L117.2 431 L116.1 431 L114.9 431 L113.8 431 L112.7 432.3 L111.5 434.1 L110.4 435.8 L109.2 437.1 L108.1 437.6 L106.7 436 L105.2 432.3 L103.8 431 L102.4 431 L101 431 L99.5 431 L98.3 431 L97 431 L95.8 431 L94.7 431 L93.5 431 L92.4 431 L91.2 431 L90.1 431 L88.9 431 L87.7 431 L86.5 431 L85.3 431 L84.1 431 L82.9 431 L81.8 431 L80.6 432.3 L79.5 434.2 L78.3 435.9 L77.2 437.5 L76 438.6 L74.9 439 L73.7 438.6 L72.5 437.6 L71.3 436.3 L70.1 435 L68.9 433.7 L67.8 432.2 L66.6 431 L65.4 431 L64.3 431 L63.2 431 L62.1 431 L60.9 431 L59.8 431 L58.7 431 L57.5 431 L56.4 431 L55.2 431 L54 431 L52 431 L52 429.1 Z" fill="#f3b6b1"/>
</g>
<g clip-path="url(#cr4)">
<path d="M368.5 440.4 L369.7 440.4 L370.9 440.4 L372.1 440.4 L373.3 440.4 L374.5 440.4 L375.7 440.4 L376.9 440.4 L378.1 440.4 L379.3 440.4 L380.5 440.4 L381.7 440.4 L382.9 440.4 L384 440.4 L385.2 440.4 L386.4 440.4 L387.6 440.4 L388.8 440.4 L390 440.4 L391.2 440.4 L392.4 440.4 L393.6 440.4 L394.8 440.4 L396 440.4 L397.2 440.4 L398.4 440.4 L399.6 440.4 L400.8 440.4 L402 440.4 L403.2 440.4 L404.4 440.4 L405.6 440.4 L406.8 440.4 L408 440.4 L409.2 440.4 L410.4 440.4 L411.6 440.4 L412.7 440.4 L413.9 440.4 L415.1 440.4 L416.3 440.4 L417.5 440.4 L418.7 440.4 L419.9 440.4 L421.1 440.4 L422.3 440.4 L423.5 440.4 L424.7 440.4 L425.9 440.4 L427.1 440.5 L428.3 440.5 L429.5 440.5 L430.7 440.5 L431.9 440.5 L433.1 440.5 L434.3 440.5 L435.5 440.5 L436.7 440.5 L437.9 440.5 L439.1 440.5 L440.3 440.5 L441.4 440.5 L442.6 440.5 L443.8 440.5 L445 440.5 L446.2 440.5 L447.4 440.5 L448.6 440.5 L449.8 440.5 L451 440.5 L452.2 440.5 L453.4 440.5 L454.6 440.5 L455.8 440.5 L457 440.5 L458.2 440.5 L459.4 440.5 L460.6 440.5 L461.8 440.5 L463 440.5 L464.2 440.5 L465.4 440.5 L466.6 440.5 L467.8 440.5 L469 440.5 L470.1 440.5 L471.3 440.5 L472.5 440.5 L473.7 440.5 L474.9 440.5 L476.1 440.5 L477.3 440.5 L478.5 440.5 L479.7 440.5 L480.9 440.5 L482.1 440.5 L483.3 440.5 L484.5 440.5 L485.7 440.5 L486.9 440.5 L488.1 440.5 L489.3 440.5 L490.5 440.5 L491.7 440.5 L492.9 440.5 L494.1 440.5 L495.3 440.5 L496.5 440.5 L497.7 440.5 L498.8 440.5 L500 440.5 L501.2 440.5 L502.4 440.5 L503.6 440.5 L504.8 440.5 L506 440.5 L507.2 440.5 L508.4 440.5 L509.6 440.5 L510.8 440.5 L512 440.5 L513.2 440.5 L514.5 439.2 L515.7 436.3 L517 432.9 L518.2 429.7 L519.4 426 L520.5 422 L521.7 417.7 L522.9 412.9 L524.1 407.5 L525.3 402.1 L526.5 396.9 L527.7 391.7 L528.9 386.4 L530 381.8 L531.2 378.8 L532.5 376.9 L533.7 375.5 L535 375 L536.3 375.4 L537.5 376.5 L538.8 377.9 L540 379.5 L541.2 381.8 L542.4 384.4 L543.6 387.4 L544.8 391.1 L546 395.6 L547.1 400.3 L548.3 404.4 L549.4 407.8 L550.6 411.1 L551.7 414.2 L552.9 417.1 L554 419.7 L555.1 422.1 L556.2 424.4 L557.3 426.5 L558.4 428.5 L559.5 430.3 L560.6 432 L561.7 433.6 L562.9 435.3 L564 436.7 L565.2 437.9 L566.3 438.6 L567.6 439.1 L568.8 439.6 L570.1 439.9 L571.4 440.2 L572.6 440.4 L573.9 440.5 L575.1 440.5 L576.3 440.5 L577.5 440.6 L578.7 440.6 L579.9 440.6 L581 440.6 L582.2 440.6 L583.4 440.6 L584.6 440.6 L585.8 440.6 L587 440.6 L588.2 440.6 L589.4 440.6 L590.6 440.6 L591.8 440.6 L593 440.6 L594.1 440.6 L595.3 440.6 L596.5 440.6 L597.7 440.6 L598.9 440.6 L600.1 440.6 L601.3 440.6 L602.5 440.6 L603.7 440.6 L604.9 440.6 L606.1 440.6 L607.3 440.6 L608.4 440.6 L609.6 440.6 L610.8 440.6 L612 440.6 L613.2 440.6 L614.4 440.6 L615.6 440.6 L616.8 440.6 L618 440.6 L619.2 440.6 L620.4 440.6 L621.5 440.6 L622.7 440.6 L623.9 440.6 L625.1 440.6 L626.3 440.6 L627.5 440.6 L630 440.6 L630 440.6 L367 440.6 L367 440.4 Z" fill="#a8d3ee"/>
</g>
<g clip-path="url(#cl5)">
<path d="M54 520.1 L55.3 517.4 L56.5 514.6 L57.8 513.4 L58.9 513.7 L60 514.4 L61.1 515.4 L62.2 516.6 L63.3 517.9 L64.4 519.1 L65.5 520.4 L66.7 521.8 L67.8 521.8 L69 521.8 L70.1 521.8 L71.3 521.8 L72.5 521.8 L73.7 521.8 L74.9 521.8 L76 521.8 L77.2 521.8 L78.3 521.8 L79.5 521.8 L80.6 521.8 L81.7 520.4 L82.9 517.7 L84 514.7 L85.2 511.4 L86.3 507.7 L87.5 502.8 L88.7 496.9 L89.8 490.7 L91 485 L92.3 478.6 L93.5 472.5 L94.8 469.8 L96.1 471.2 L97.3 474.7 L98.6 479.3 L100 487.6 L101.4 498.2 L102.8 509.6 L104.3 519.1 L105.6 521.8 L106.8 521.8 L108.1 521.8 L109.2 521.8 L110.4 521.8 L111.5 521.8 L112.7 521.1 L113.8 519.1 L114.9 517.8 L116.1 516.5 L117.2 515.4 L118.4 514.7 L119.5 514.4 L120.8 514.8 L122.1 515.8 L123.5 517.2 L124.8 518.7 L126.1 520.1 L127.2 521.3 L128.3 521.8 L129.4 521.8 L130.6 521.8 L131.7 521.8 L132.8 521.8 L133.9 521.8 L135.1 521.8 L136.2 521.7 L137.4 519.2 L138.5 517.2 L139.6 515.5 L140.7 513.8 L141.9 512.2 L143 511 L144.1 510.6 L145.2 511.1 L146.4 512.4 L147.5 514.3 L148.7 516.3 L149.8 518.2 L150.9 520.3 L152 521.8 L153.2 521.8 L154.3 521.8 L155.4 521.8 L156.5 521.8 L157.7 521.8 L158.8 521.8 L160 521.8 L161.2 521 L162.4 516.5 L163.6 510.4 L164.8 504 L166 498.2 L167.3 492.6 L168.6 487 L170 481.8 L171.3 477.2 L172.6 473.6 L173.7 471.2 L174.9 469.1 L176 467.3 L177.2 465.7 L178.3 464.1 L179.4 462.4 L180.6 460.6 L181.7 459 L182.9 457.8 L184 457.4 L185.3 457.7 L186.5 458.5 L187.8 459.8 L189.1 461.3 L190.3 463.1 L191.6 465 L192.7 467.2 L193.9 470.2 L195 473.7 L196.2 477.5 L197.3 481.2 L198.4 485 L199.6 489 L200.7 493.3 L201.9 497.6 L203 502 L204.2 506.9 L205.3 512.1 L206.5 517.1 L207.7 521 L209 521.8 L210.2 521.8 L211.5 521.8 L212.7 521.8 L213.9 521.8 L215.1 521.8 L216.3 521.8 L217.6 521.8 L218.8 521.8 L220.1 521.8 L221.4 521.8 L222.6 520.9 L223.9 520.1 L225.2 519.5 L226.5 519 L227.9 518.6 L229.2 518.3 L230.5 518.2 L231.7 518.3 L232.9 518.6 L234.1 519 L235.4 519.4 L236.6 520 L237.8 520.5 L239 521 L240.3 521.5 L241.5 521.8 L242.8 521.8 L244.1 521.8 L245.3 521.8 L246.6 521.8 L247.7 521.8 L248.9 521.8 L250 521.8 L251.2 521.8 L252.3 521.8 L253.6 521.8 L254.8 521.8 L256.1 521.8 L257.4 521.8 L258.6 521.8 L259.9 521.8 L261.2 521.8 L262.4 521.8 L263.7 521.6 L264.8 521.3 L266 521 L267.1 520.8 L268.3 520.5 L269.4 520.2 L270.5 520 L271.7 519.8 L272.8 519.6 L274 519.5 L275.1 519.5 L276.4 519.6 L277.6 519.8 L278.9 520.1 L280.2 520.5 L281.4 520.9 L282.7 521.3 L284 521.8 L285.2 521.8 L286.5 521.8 L287.8 521.8 L289 521.8 L290.3 521.8 L291.6 521.8 L292.8 521.8 L294.1 521.8 L295.4 521.8 L296.6 521.8 L297.9 521.8 L299.1 521.8 L300.2 521.8 L301.4 521.8 L302.5 521.8 L303.7 521.8 L304.9 521.8 L306 521.8 L307.2 521.8 L308.4 521.8 L309.5 521.8 L310.7 521.8 L311.8 521.8 L313 521.8 L315 521.8 L315 522.6 L313 522.6 L311.8 522.7 L310.7 522.8 L309.5 522.9 L308.4 523.1 L307.2 523.2 L306 523.3 L304.9 523.5 L303.7 523.6 L302.5 523.7 L301.4 523.8 L300.2 523.8 L299.1 523.9 L297.9 523.9 L296.6 523.9 L295.4 523.8 L294.1 523.6 L292.8 523.4 L291.6 523.2 L290.3 523 L289 522.7 L287.8 522.5 L286.5 522.3 L285.2 522.1 L284 521.8 L282.7 521.8 L281.4 521.8 L280.2 521.8 L278.9 521.8 L277.6 521.8 L276.4 521.8 L275.1 521.8 L274 521.8 L272.8 521.8 L271.7 521.8 L270.5 521.8 L269.4 521.8 L268.3 521.8 L267.1 521.8 L266 521.8 L264.8 521.8 L263.7 521.8 L262.4 521.9 L261.2 522.2 L259.9 522.6 L258.6 523 L257.4 523.3 L256.1 523.7 L254.8 523.9 L253.6 524.1 L252.3 524.2 L251.2 524.1 L250 524.1 L248.9 523.9 L247.7 523.8 L246.6 523.6 L245.3 523.4 L244.1 523 L242.8 522.5 L241.5 522.1 L240.3 521.8 L239 521.8 L237.8 521.8 L236.6 521.8 L235.4 521.8 L234.1 521.8 L232.9 521.8 L231.7 521.8 L230.5 521.8 L229.2 521.8 L227.9 521.8 L226.5 521.8 L225.2 521.8 L223.9 521.8 L222.6 521.8 L221.4 521.9 L220.1 522.8 L218.8 523.7 L217.6 524.6 L216.3 525.2 L215.1 525.8 L213.9 526.3 L212.7 526.7 L211.5 526.8 L210.2 525.9 L209 523.8 L207.7 521.8 L206.5 521.8 L205.3 521.8 L204.2 521.8 L203 521.8 L201.9 521.8 L200.7 521.8 L199.6 521.8 L198.4 521.8 L197.3 521.8 L196.2 521.8 L195 521.8 L193.9 521.8 L192.7 521.8 L191.6 521.8 L190.3 521.8 L189.1 521.8 L187.8 521.8 L186.5 521.8 L185.3 521.8 L184 521.8 L182.9 521.8 L181.7 521.8 L180.6 521.8 L179.4 521.8 L178.3 521.8 L177.2 521.8 L176 521.8 L174.9 521.8 L173.7 521.8 L172.6 521.8 L171.3 521.8 L170 521.8 L168.6 521.8 L167.3 521.8 L166 521.8 L164.8 521.8 L163.6 521.8 L162.4 521.8 L161.2 521.8 L160 523.6 L158.8 525.7 L157.7 527.3 L156.5 527.9 L155.4 527.4 L154.3 526.2 L153.2 524.5 L152 522.6 L150.9 521.8 L149.8 521.8 L148.7 521.8 L147.5 521.8 L146.4 521.8 L145.2 521.8 L144.1 521.8 L143 521.8 L141.9 521.8 L140.7 521.8 L139.6 521.8 L138.5 521.8 L137.4 521.8 L136.2 521.8 L135.1 523.4 L133.9 524.7 L132.8 525.2 L131.7 525 L130.6 524.4 L129.4 523.5 L128.3 522.4 L127.2 521.8 L126.1 521.8 L124.8 521.8 L123.5 521.8 L122.1 521.8 L120.8 521.8 L119.5 521.8 L118.4 521.8 L117.2 521.8 L116.1 521.8 L114.9 521.8 L113.8 521.8 L112.7 521.8 L111.5 523.4 L110.4 525.5 L109.2 527.2 L108.1 527.9 L106.8 526.7 L105.6 523.7 L104.3 521.8 L102.8 521.8 L101.4 521.8 L100 521.8 L98.6 521.8 L97.3 521.8 L96.1 521.8 L94.8 521.8 L93.5 521.8 L92.3 521.8 L91 521.8 L89.8 521.8 L88.7 521.8 L87.5 521.8 L86.3 521.8 L85.2 521.8 L84 521.8 L82.9 521.8 L81.7 521.8 L80.6 522.6 L79.5 524.4 L78.3 526.4 L77.2 528.2 L76 529.4 L74.9 529.9 L73.7 529.4 L72.5 528.1 L71.3 526.6 L70.1 525.2 L69 524.1 L67.8 523 L66.7 521.9 L65.5 521.8 L64.4 521.8 L63.3 521.8 L62.2 521.8 L61.1 521.8 L60 521.8 L58.9 521.8 L57.8 521.8 L56.5 521.8 L55.3 521.8 L54 521.8 L52 521.8 L52 520.1 Z" fill="#f3b6b1"/>
</g>
<g clip-path="url(#cr5)">
<path d="M368.5 530.4 L369.7 530.4 L370.9 530.4 L372.1 530.4 L373.3 530.4 L374.5 530.4 L375.7 530.4 L376.9 530.4 L378.1 530.4 L379.3 530.4 L380.5 530.4 L381.7 530.4 L382.9 530.4 L384.1 530.4 L385.3 530.4 L386.5 530.4 L387.7 530.4 L388.9 530.4 L390.1 530.4 L391.3 530.4 L392.5 530.4 L393.7 530.4 L394.9 530.4 L396.1 530.4 L397.3 530.4 L398.5 530.4 L399.7 530.4 L400.9 530.4 L402.1 530.4 L403.3 530.4 L404.5 530.4 L405.7 530.4 L406.9 530.4 L408.1 530.4 L409.3 530.4 L410.5 530.4 L411.7 530.4 L412.9 530.4 L414.1 530.4 L415.3 530.4 L416.5 530.4 L417.7 530.4 L418.9 530.4 L420.1 530.4 L421.3 530.4 L422.5 530.4 L423.7 530.4 L424.9 530.4 L426.1 530.4 L427.3 530.4 L428.5 530.4 L429.7 530.4 L430.9 530.4 L432.1 530.4 L433.2 530.4 L434.4 530.4 L435.6 530.4 L436.8 530.4 L438 530.4 L439.2 530.4 L440.4 530.4 L441.6 530.4 L442.8 530.4 L444 530.4 L445.2 530.4 L446.4 530.4 L447.6 530.4 L448.8 530.4 L450 530.4 L451.2 530.4 L452.4 530.4 L453.6 530.4 L454.8 530.4 L456 530.4 L457.2 530.4 L458.4 530.4 L459.6 530.4 L460.8 530.4 L462 530.4 L463.2 530.4 L464.4 530.4 L465.6 530.4 L466.8 530.4 L468 530.4 L469.2 530.4 L470.4 530.4 L471.6 530.4 L472.8 530.4 L474 530.4 L475.2 530.4 L476.4 530.4 L477.6 530.4 L478.8 530.4 L480 530.4 L481.2 530.4 L482.4 530.4 L483.6 530.4 L484.8 530.4 L486 530.4 L487.2 530.4 L488.4 530.4 L489.6 530.4 L490.8 530.4 L492 530.4 L493.2 530.4 L494.4 530.4 L495.6 530.4 L496.8 530.4 L498 530.4 L499.3 530.4 L500.5 530.3 L501.8 530 L503.1 529.6 L504.3 529.2 L505.6 528.6 L506.8 527.1 L508 524 L509.1 519.9 L510.3 515.3 L511.8 507.4 L513.2 498.2 L514.5 490.8 L515.7 483.5 L517 477.4 L518.3 472.3 L519.5 467.9 L520.8 465 L522.1 463.2 L523.3 461.8 L524.6 461.2 L525.9 461.6 L527.1 462.7 L528.4 464.1 L529.6 465.9 L530.8 468.5 L531.9 471.4 L533.1 474.5 L534.3 477.9 L535.5 481.6 L536.7 485.4 L537.9 488.8 L539 491.7 L540.2 494.5 L541.3 497.2 L542.5 499.7 L543.6 502 L544.7 504.1 L545.8 506.1 L547 507.9 L548.1 509.7 L549.2 511.5 L550.4 513.4 L551.5 515.4 L552.7 517.2 L553.8 518.8 L555 520.1 L556.2 521.1 L557.5 522.1 L558.8 522.8 L560 523.6 L561.2 524.2 L562.5 524.8 L563.8 525.4 L565 526 L566.3 526.5 L567.6 527 L568.8 527.4 L570.1 527.7 L571.3 528 L572.5 528.2 L573.7 528.4 L574.9 528.6 L576.1 528.8 L577.4 529 L578.6 529.2 L579.8 529.3 L581 529.4 L582.2 529.5 L583.4 529.6 L584.6 529.6 L585.8 529.7 L587 529.7 L588.2 529.8 L589.4 529.8 L590.6 529.9 L591.7 529.9 L592.9 529.9 L594.1 529.9 L595.3 530 L596.5 530 L597.7 530 L598.9 530.1 L600.1 530.1 L601.3 530.1 L602.5 530.1 L603.7 530.1 L604.9 530.2 L606 530.2 L607.2 530.2 L608.4 530.2 L609.6 530.2 L610.8 530.2 L612 530.3 L613.2 530.3 L614.4 530.3 L615.6 530.3 L616.8 530.3 L618 530.3 L619.2 530.4 L620.3 530.4 L621.5 530.4 L622.7 530.4 L623.9 530.4 L625.1 530.4 L626.3 530.4 L627.5 530.4 L630 530.4 L630 530.4 L367 530.4 L367 530.4 Z" fill="#a8d3ee"/>
</g>
<g clip-path="url(#cl6)">
<path d="M54 608.1 L55.2 606.1 L56.4 604 L57.5 602.2 L58.7 601.5 L59.8 601.7 L60.9 602.2 L62.1 603 L63.2 603.9 L64.3 605 L65.4 606.2 L66.5 607.8 L67.7 610.1 L68.8 612.6 L70 612.7 L71.1 612.7 L72.4 612.7 L73.6 612.7 L74.9 612.7 L76 612.7 L77.2 612.7 L78.3 612.7 L79.5 612.7 L80.6 611.9 L81.7 608.7 L82.9 605.2 L84 601.4 L85.2 597.3 L86.3 592.9 L87.5 587.5 L88.7 581.3 L89.8 575.2 L91 570.2 L92.3 565.5 L93.5 561.4 L94.8 559.7 L96 560.4 L97.2 562.2 L98.3 564.9 L99.5 568.3 L101 577.8 L102.4 591 L103.8 604.9 L105.2 612.7 L106.2 612.7 L107.1 612.7 L108.2 612.7 L109.4 612.7 L110.5 612.7 L111.7 612.7 L112.8 611.9 L113.9 610.5 L115 609 L116.2 607.6 L117.3 606.4 L118.4 605.6 L119.5 605.3 L120.8 605.6 L122.1 606.4 L123.5 607.5 L124.8 608.7 L126.1 610 L127.2 611.5 L128.4 612.7 L129.5 612.7 L130.7 612.7 L131.8 612.7 L132.9 612.7 L134 612.7 L135.2 612.7 L136.3 610.3 L137.4 608 L138.5 606.2 L139.7 604.7 L141 603.1 L142.2 601.8 L143.5 600.9 L144.7 600.5 L145.9 601.2 L147.1 602.9 L148.4 605.2 L149.6 607.7 L150.8 610 L151.9 612.3 L153.1 612.7 L154.2 612.7 L155.4 612.7 L156.5 612.7 L157.6 612.7 L158.8 612.7 L159.9 612.7 L161.1 611.5 L162.2 608.1 L163.3 604.1 L164.5 599.2 L165.6 593.7 L166.8 588.3 L167.9 583.4 L169.2 578.4 L170.4 573.4 L171.7 568.5 L173 564 L174.2 560.1 L175.5 556.9 L176.7 554.2 L177.9 551.6 L179.1 549.1 L180.4 546.9 L181.6 545.2 L182.8 544 L184 543.6 L185.1 543.9 L186.3 544.8 L187.4 546.1 L188.6 547.7 L189.7 549.3 L190.8 551.2 L192 553.6 L193.1 556.3 L194.3 559.4 L195.4 562.6 L196.5 566.1 L197.7 570.1 L198.8 574.3 L200 578.8 L201.1 583.4 L202.3 588.5 L203.4 593.9 L204.6 599.3 L205.8 604.3 L207.1 609.5 L208.3 612.7 L209.6 612.7 L210.9 612.7 L212.1 612.7 L213.4 612.7 L214.6 612.7 L215.8 612.7 L217 612.7 L218.2 612.7 L219.5 612.7 L220.7 612.7 L222 612.5 L223.3 611.6 L224.5 610.8 L225.8 610 L227.1 609.1 L228.4 608.2 L229.8 607.4 L231.1 606.8 L232.4 606.6 L233.6 606.8 L234.8 607.2 L236 607.9 L237.3 608.7 L238.5 609.5 L239.7 610.3 L240.9 611 L242.2 611.7 L243.4 612.5 L244.7 612.7 L246 612.7 L247.2 612.7 L248.5 612.7 L249.6 612.7 L250.8 612.7 L251.9 612.7 L253.1 612.7 L254.2 612.7 L255.3 612.7 L256.5 612.7 L257.6 612.7 L258.8 612.7 L259.9 612.7 L261 612.7 L262.2 612.4 L263.3 611.8 L264.5 611.4 L265.6 611 L266.8 610.7 L268 610.4 L269.2 610 L270.4 609.7 L271.5 609.5 L272.7 609.3 L273.9 609.1 L275.1 609.1 L276.4 609.2 L277.6 609.4 L278.9 609.6 L280.2 610 L281.4 610.4 L282.7 610.8 L284 611.3 L285.2 611.7 L286.5 612 L287.8 612.3 L289 612.7 L290.3 612.7 L291.6 612.7 L292.8 612.7 L294.1 612.7 L295.4 612.7 L296.6 612.7 L297.9 612.7 L299.1 612.7 L300.2 612.7 L301.4 612.7 L302.5 612.7 L303.7 612.7 L304.9 612.7 L306 612.7 L307.2 612.7 L308.4 612.7 L309.5 612.7 L310.7 612.7 L311.8 612.7 L313 612.7 L315 612.7 L315 612.8 L313 612.8 L311.8 612.9 L310.7 613.1 L309.5 613.2 L308.4 613.3 L307.2 613.5 L306 613.6 L304.9 613.7 L303.7 613.9 L302.5 614 L301.4 614 L300.2 614.1 L299.1 614.2 L297.9 614.2 L296.6 614.1 L295.4 614 L294.1 613.8 L292.8 613.6 L291.6 613.3 L290.3 613 L289 612.7 L287.8 612.7 L286.5 612.7 L285.2 612.7 L284 612.7 L282.7 612.7 L281.4 612.7 L280.2 612.7 L278.9 612.7 L277.6 612.7 L276.4 612.7 L275.1 612.7 L273.9 612.7 L272.7 612.7 L271.5 612.7 L270.4 612.7 L269.2 612.7 L268 612.7 L266.8 612.7 L265.6 612.7 L264.5 612.7 L263.3 612.7 L262.2 612.7 L261 612.9 L259.9 613.3 L258.8 613.7 L257.6 614.1 L256.5 614.3 L255.3 614.5 L254.2 614.6 L253.1 614.6 L251.9 614.5 L250.8 614.4 L249.6 614.3 L248.5 614.2 L247.2 613.9 L246 613.5 L244.7 613.1 L243.4 612.7 L242.2 612.7 L240.9 612.7 L239.7 612.7 L238.5 612.7 L237.3 612.7 L236 612.7 L234.8 612.7 L233.6 612.7 L232.4 612.7 L231.1 612.7 L229.8 612.7 L228.4 612.7 L227.1 612.7 L225.8 612.7 L224.5 612.7 L223.3 612.7 L222 612.7 L220.7 613.2 L219.5 614 L218.2 614.8 L217 615.9 L215.8 617.3 L214.6 618.6 L213.4 619.1 L212.1 618.6 L210.9 617.6 L209.6 616.1 L208.3 613.8 L207.1 612.7 L205.8 612.7 L204.6 612.7 L203.4 612.7 L202.3 612.7 L201.1 612.7 L200 612.7 L198.8 612.7 L197.7 612.7 L196.5 612.7 L195.4 612.7 L194.3 612.7 L193.1 612.7 L192 612.7 L190.8 612.7 L189.7 612.7 L188.6 612.7 L187.4 612.7 L186.3 612.7 L185.1 612.7 L184 612.7 L182.8 612.7 L181.6 612.7 L180.4 612.7 L179.1 612.7 L177.9 612.7 L176.7 612.7 L175.5 612.7 L174.2 612.7 L173 612.7 L171.7 612.7 L170.4 612.7 L169.2 612.7 L167.9 612.7 L166.8 612.7 L165.6 612.7 L164.5 612.7 L163.3 612.7 L162.2 612.7 L161.1 612.7 L159.9 614.2 L158.8 616.2 L157.6 617.6 L156.5 618.2 L155.4 617.6 L154.2 616.2 L153.1 614.4 L151.9 612.7 L150.8 612.7 L149.6 612.7 L148.4 612.7 L147.1 612.7 L145.9 612.7 L144.7 612.7 L143.5 612.7 L142.2 612.7 L141 612.7 L139.7 612.7 L138.5 612.7 L137.4 612.7 L136.3 612.7 L135.2 612.8 L134 614.5 L132.9 615.7 L131.8 616.1 L130.7 615.7 L129.5 614.6 L128.4 613.2 L127.2 612.7 L126.1 612.7 L124.8 612.7 L123.5 612.7 L122.1 612.7 L120.8 612.7 L119.5 612.7 L118.4 612.7 L117.3 612.7 L116.2 612.7 L115 612.7 L113.9 612.7 L112.8 612.7 L111.7 613.4 L110.5 614.9 L109.4 616.5 L108.2 617.7 L107.1 618.2 L106.2 617.1 L105.2 614.8 L103.8 612.7 L102.4 612.7 L101 612.7 L99.5 612.7 L98.3 612.7 L97.2 612.7 L96 612.7 L94.8 612.7 L93.5 612.7 L92.3 612.7 L91 612.7 L89.8 612.7 L88.7 612.7 L87.5 612.7 L86.3 612.7 L85.2 612.7 L84 612.7 L82.9 612.7 L81.7 612.7 L80.6 612.7 L79.5 614.4 L78.3 616.7 L77.2 618.8 L76 620.3 L74.9 620.8 L73.6 620 L72.4 618.1 L71.1 616.1 L70 614.5 L68.8 612.7 L67.7 612.7 L66.5 612.7 L65.4 612.7 L64.3 612.7 L63.2 612.7 L62.1 612.7 L60.9 612.7 L59.8 612.7 L58.7 612.7 L57.5 612.7 L56.4 612.7 L55.2 612.7 L54 612.7 L52 612.7 L52 608.1 Z" fill="#f3b6b1"/>
</g>
<g clip-path="url(#cr6)">
<path d="M368.5 618 L369.7 618 L370.9 618 L372.1 618 L373.3 618 L374.5 618 L375.7 618 L376.9 618 L378.1 618 L379.3 618 L380.5 618 L381.7 618 L382.9 618 L384 618 L385.2 618 L386.4 618 L387.6 618 L388.8 617.9 L390 617.9 L391.2 617.9 L392.4 617.9 L393.6 617.9 L394.8 617.9 L396 617.9 L397.2 617.9 L398.4 617.9 L399.6 617.9 L400.8 617.9 L402 617.9 L403.2 617.9 L404.4 617.9 L405.6 617.9 L406.8 617.9 L408 617.9 L409.2 617.9 L410.4 617.9 L411.6 617.9 L412.7 617.9 L413.9 617.9 L415.1 617.9 L416.3 617.9 L417.5 617.9 L418.7 617.9 L419.9 617.9 L421.1 617.9 L422.3 617.9 L423.5 617.9 L424.7 617.9 L425.9 617.9 L427.1 617.9 L428.3 617.9 L429.5 617.9 L430.7 617.9 L431.9 617.9 L433.1 617.9 L434.3 617.9 L435.5 617.9 L436.7 617.9 L437.9 617.9 L439.1 617.9 L440.3 617.9 L441.5 617.9 L442.6 617.9 L443.8 617.9 L445 617.9 L446.2 617.8 L447.4 617.8 L448.6 617.8 L449.8 617.8 L451 617.8 L452.2 617.8 L453.4 617.8 L454.6 617.8 L455.8 617.8 L457 617.8 L458.2 617.8 L459.4 617.8 L460.6 617.8 L461.8 617.8 L463 617.8 L464.2 617.8 L465.4 617.8 L466.6 617.8 L467.8 617.7 L469 617.7 L470.2 617.7 L471.3 617.7 L472.5 617.7 L473.7 617.7 L474.9 617.7 L476.1 617.7 L477.3 617.7 L478.5 617.7 L479.7 617.7 L480.9 617.6 L482.1 617.6 L483.3 617.6 L484.5 617.6 L485.7 617.6 L486.9 616.6 L488 614.2 L489.2 611.1 L490.4 608.1 L491.7 604.9 L492.9 601.3 L494.2 597.7 L495.5 594.3 L496.7 590.9 L498 587.2 L499.3 582.8 L500.5 578 L501.8 574 L503 571.1 L504.1 568.5 L505.3 566.3 L506.5 564.5 L507.6 563 L508.8 561.6 L509.9 560.4 L511.1 559.6 L512.2 559.3 L513.3 559.5 L514.5 560 L515.6 560.8 L516.8 561.7 L517.9 562.6 L519 563.7 L520.1 565.1 L521.2 566.7 L522.4 568.4 L523.5 570.3 L524.6 572.1 L525.7 574 L526.8 576 L527.9 578.1 L529 580.3 L530.1 582.4 L531.2 584.4 L532.3 586.4 L533.4 588.3 L534.5 590.3 L535.7 592.2 L536.8 594 L537.9 595.8 L539 597.6 L540.2 599.5 L541.3 601.2 L542.5 602.9 L543.6 604.3 L544.9 605.7 L546.1 607 L547.4 608.1 L548.6 609.2 L549.9 610.2 L551.1 611 L552.3 611.7 L553.5 612.4 L554.7 613 L555.9 613.6 L557 614.1 L558.2 614.6 L559.4 615 L560.6 615.3 L561.8 615.6 L563 615.9 L564.2 616.2 L565.4 616.5 L566.6 616.7 L567.9 617 L569.1 617.2 L570.3 617.3 L571.5 617.5 L572.7 617.6 L573.9 617.6 L575.1 617.6 L576.3 617.6 L577.5 617.7 L578.7 617.7 L579.9 617.7 L581 617.7 L582.2 617.7 L583.4 617.7 L584.6 617.7 L585.8 617.8 L587 617.8 L588.2 617.8 L589.4 617.8 L590.6 617.8 L591.8 617.8 L593 617.8 L594.1 617.8 L595.3 617.8 L596.5 617.8 L597.7 617.9 L598.9 617.9 L600.1 617.9 L601.3 617.9 L602.5 617.9 L603.7 617.9 L604.9 617.9 L606.1 617.9 L607.3 617.9 L608.4 617.9 L609.6 617.9 L610.8 617.9 L612 617.9 L613.2 617.9 L614.4 617.9 L615.6 617.9 L616.8 617.9 L618 617.9 L619.2 617.9 L620.4 618 L621.5 618 L622.7 618 L623.9 618 L625.1 618 L626.3 618 L627.5 618 L630 618 L630 618 L367 618 L367 618 Z" fill="#a8d3ee"/>
</g>
<g clip-path="url(#cl7)">
<path d="M54 696.2 L55.1 694.9 L56.3 693.4 L57.4 692 L58.6 690.9 L59.7 690.5 L61 690.9 L62.2 692.1 L63.5 693.8 L64.8 695.6 L66 697.5 L67.3 698 L68.5 698 L69.7 698 L70.9 698 L72.2 698 L73.4 698 L74.6 698 L75.8 698 L76.9 698 L78.1 698 L79.2 698 L80.4 698 L81.5 697.1 L82.6 694.3 L83.8 691 L84.9 687.3 L86.1 683.6 L87.2 680 L88.4 676.1 L89.6 672.1 L90.8 668.2 L92 664.9 L93.2 661.8 L94.3 658.7 L95.5 656.3 L96.7 655.4 L98 657.2 L99.2 661.5 L100.5 666.8 L101.9 675.8 L103.3 685.7 L104.8 693.5 L106.2 698 L107.5 698 L108.7 698 L110 698 L111.2 698 L112.3 698 L113.5 697.3 L114.7 695.2 L115.8 694 L117 692.8 L118.1 691.9 L119.3 691.2 L120.4 691 L121.5 691.5 L122.7 692.9 L123.8 694.7 L125 696.6 L126.1 698 L127.2 698 L128.3 698 L129.4 698 L130.6 698 L131.7 698 L132.8 698 L134.1 698 L135.4 698 L136.8 698 L138.1 695.5 L139.4 693.3 L140.7 691.7 L142 690.2 L143.4 688.9 L144.7 687.9 L146 687.6 L147.1 688.1 L148.3 689.5 L149.4 691.3 L150.6 693.3 L151.7 695.2 L152.8 697.2 L154 698 L155.1 698 L156.3 698 L157.4 698 L158.6 698 L159.8 698 L161 698 L162.2 697.1 L163.3 694.2 L164.5 690.5 L165.6 686.4 L166.8 682.1 L167.9 678.1 L169.2 673.9 L170.4 669.5 L171.7 665.2 L173 661.1 L174.2 657.1 L175.5 653.5 L176.6 650.5 L177.8 647.5 L178.9 644.8 L180.1 642.3 L181.2 640.2 L182.6 637.7 L184 636.4 L185.1 636.9 L186.3 638.2 L187.4 640 L188.6 642 L189.7 644 L190.8 645.9 L192 648.1 L193.1 650.4 L194.3 652.8 L195.4 655.4 L196.5 658 L197.7 660.8 L198.8 663.8 L200 667 L201.1 670.5 L202.4 675.2 L203.6 680.6 L204.9 685.7 L206.2 690.5 L207.4 695 L208.7 698 L210 698 L211.2 698 L212.5 698 L213.8 698 L215 698 L216.3 698 L217.6 698 L218.8 698 L220.1 698 L221.4 698 L222.6 698 L223.9 698 L225.1 697.7 L226.4 697.1 L227.6 696.5 L228.9 696 L230.1 695.7 L231.4 695.6 L232.6 695.7 L233.8 696 L235 696.5 L236.2 697 L237.3 697.6 L238.5 698 L239.7 698 L240.9 698 L242 698 L243.2 698 L244.3 698 L245.5 698 L246.6 698 L247.7 698 L248.9 698 L250 698 L251.2 698 L252.3 698 L253.6 698 L254.8 698 L256.1 698 L257.4 698 L258.6 698 L259.9 698 L261.2 698 L262.4 698 L263.7 698 L264.9 698 L266.1 698 L267.3 697.8 L268.4 697.3 L269.6 696.9 L270.8 696.5 L272 696.3 L273.2 696.2 L274.3 696.2 L275.5 696.3 L276.6 696.5 L277.8 696.7 L278.9 696.9 L280 697.2 L281.2 697.4 L282.3 697.7 L283.5 697.9 L284.6 698 L285.8 698 L287 698 L288.2 698 L289.4 698 L290.6 698 L291.9 698 L293.1 698 L294.3 698 L295.5 698 L296.7 698 L297.9 698 L299.1 698 L300.2 698 L301.4 698 L302.5 698 L303.7 698 L304.9 698 L306 698 L307.2 698 L308.4 698 L309.5 698 L310.7 698 L311.8 698 L313 698 L315 698 L315 698.5 L313 698.5 L311.8 698.6 L310.7 698.6 L309.5 698.7 L308.4 698.8 L307.2 698.9 L306 699 L304.9 699.1 L303.7 699.2 L302.5 699.3 L301.4 699.3 L300.2 699.4 L299.1 699.4 L297.9 699.4 L296.7 699.4 L295.5 699.3 L294.3 699.2 L293.1 699.1 L291.9 699 L290.6 698.8 L289.4 698.7 L288.2 698.5 L287 698.4 L285.8 698.2 L284.6 698.1 L283.5 698 L282.3 698 L281.2 698 L280 698 L278.9 698 L277.8 698 L276.6 698 L275.5 698 L274.3 698 L273.2 698 L272 698 L270.8 698 L269.6 698 L268.4 698 L267.3 698 L266.1 698.2 L264.9 698.5 L263.7 698.7 L262.4 698.9 L261.2 699.1 L259.9 699.3 L258.6 699.5 L257.4 699.7 L256.1 699.8 L254.8 699.9 L253.6 700 L252.3 700 L251.2 700 L250 700 L248.9 699.9 L247.7 699.7 L246.6 699.6 L245.5 699.4 L244.3 699.3 L243.2 699.1 L242 698.9 L240.9 698.7 L239.7 698.5 L238.5 698.1 L237.3 698 L236.2 698 L235 698 L233.8 698 L232.6 698 L231.4 698 L230.1 698 L228.9 698 L227.6 698 L226.4 698 L225.1 698 L223.9 698.2 L222.6 698.7 L221.4 699.1 L220.1 699.4 L218.8 699.7 L217.6 700 L216.3 700.3 L215 700.5 L213.8 700.7 L212.5 700.7 L211.2 700.3 L210 699.4 L208.7 698.1 L207.4 698 L206.2 698 L204.9 698 L203.6 698 L202.4 698 L201.1 698 L200 698 L198.8 698 L197.7 698 L196.5 698 L195.4 698 L194.3 698 L193.1 698 L192 698 L190.8 698 L189.7 698 L188.6 698 L187.4 698 L186.3 698 L185.1 698 L184 698 L182.6 698 L181.2 698 L180.1 698 L178.9 698 L177.8 698 L176.6 698 L175.5 698 L174.2 698 L173 698 L171.7 698 L170.4 698 L169.2 698 L167.9 698 L166.8 698 L165.6 698 L164.5 698 L163.3 698 L162.2 698 L161 699.1 L159.8 700.7 L158.6 701.9 L157.4 702.4 L156.3 701.9 L155.1 700.7 L154 699.1 L152.8 698 L151.7 698 L150.6 698 L149.4 698 L148.3 698 L147.1 698 L146 698 L144.7 698 L143.4 698 L142 698 L140.7 698 L139.4 698 L138.1 698 L136.8 698.3 L135.4 700.4 L134.1 702 L132.8 702.7 L131.7 702.5 L130.6 701.9 L129.4 701 L128.3 700 L127.2 699 L126.1 698.1 L125 698 L123.8 698 L122.7 698 L121.5 698 L120.4 698 L119.3 698 L118.1 698 L117 698 L115.8 698 L114.7 698 L113.5 698 L112.3 699.7 L111.2 701.6 L110 702.4 L108.7 701.9 L107.5 700.5 L106.2 698.7 L104.8 698 L103.3 698 L101.9 698 L100.5 698 L99.2 698 L98 698 L96.7 698 L95.5 698 L94.3 698 L93.2 698 L92 698 L90.8 698 L89.6 698 L88.4 698 L87.2 698 L86.1 698 L84.9 698 L83.8 698 L82.6 698 L81.5 698 L80.4 699.2 L79.2 701.1 L78.1 702.7 L76.9 703.9 L75.8 704.3 L74.6 704.1 L73.4 703.5 L72.2 702.7 L70.9 701.8 L69.7 700.7 L68.5 699.6 L67.3 698.7 L66 698 L64.8 698 L63.5 698 L62.2 698 L61 698 L59.7 698 L58.6 698 L57.4 698 L56.3 698 L55.1 698 L54 698 L52 698 L52 696.2 Z" fill="#f3b6b1"/>
</g>
<g clip-path="url(#cr7)">
<path d="M368.5 696.7 L369.7 697 L370.9 697.3 L372.1 697.7 L373.2 698 L374.4 698.3 L375.6 698.6 L376.9 698.9 L378.1 699.2 L379.4 699.5 L380.7 699.8 L381.9 700.1 L383.2 700.5 L384.5 701 L385.7 701.6 L387 702.2 L388.3 702.8 L389.5 703.4 L390.8 703.8 L392 704.1 L393.1 704.4 L394.3 704.6 L395.5 704.7 L396.6 704.4 L397.8 703.7 L398.9 702.6 L400.1 701.3 L401.2 700 L402.4 698.3 L403.6 696.1 L404.8 693.7 L406 691.4 L407.2 688.9 L408.4 686.3 L409.5 684 L410.7 682.9 L411.8 682.6 L412.9 682.4 L414 682.2 L415.1 682 L416.2 681.9 L417.3 681.9 L418.6 682.1 L419.8 682.5 L421.1 683.1 L422.4 683.7 L423.6 684.3 L424.9 684.8 L426.1 685.2 L427.3 685.5 L428.5 685.9 L429.6 686.3 L430.8 686.6 L432 686.9 L433.2 687.1 L434.4 687.3 L435.6 687.5 L436.8 687.6 L438 687.8 L439.1 687.9 L440.3 688 L441.5 688.1 L442.7 688.2 L443.9 688.2 L445.1 688.1 L446.3 688 L447.5 687.8 L448.6 687.5 L449.8 687.2 L451 686.9 L452.2 686.6 L453.4 686.3 L454.6 686 L455.8 685.7 L457 685.4 L458.1 685.1 L459.3 684.8 L460.5 684.4 L461.7 684.1 L462.9 683.8 L464.2 683.4 L465.4 683 L466.7 682.6 L468 682.2 L469.2 682 L470.5 681.9 L471.8 682.1 L473 682.6 L474.2 683.4 L475.5 684.2 L476.8 685 L478 685.7 L479.1 686.3 L480.2 686.9 L481.4 687.5 L482.5 688.1 L483.6 688.5 L484.7 688.6 L486.1 687.7 L487.6 685.7 L488.9 682.3 L490.1 676.9 L491.4 670.5 L492.8 660 L494.2 651.6 L495.5 649.1 L496.7 647.4 L498 646.8 L499.1 647.4 L500.3 649 L501.4 651.1 L502.6 653.4 L503.7 655.4 L504.8 657.1 L506 658.9 L507.1 660.6 L508.3 662.3 L509.4 663.9 L510.7 665.6 L511.9 667.3 L513.2 669 L514.5 670.6 L515.7 672 L517 673.4 L518.3 674.7 L519.5 676 L520.8 677.2 L522.1 678.3 L523.3 679.2 L524.6 680 L525.9 680.6 L527.1 681.2 L528.4 681.7 L529.7 682.1 L530.9 682.5 L532.2 682.9 L533.5 683.3 L534.7 683.6 L536 683.9 L537.3 684.2 L538.5 684.5 L539.8 684.8 L541 685.1 L542.3 685.4 L543.5 685.7 L544.8 686 L546 686.3 L547.3 686.7 L548.6 687.1 L549.8 687.6 L551.1 688.1 L552.4 688.6 L553.6 689.1 L554.9 689.5 L556.1 689.9 L557.3 690.2 L558.5 690.5 L559.6 690.8 L560.8 691.1 L562 691.4 L563.2 691.6 L564.4 691.8 L565.6 692 L566.8 692.1 L568 692.2 L569.2 692.4 L570.4 692.5 L571.7 692.6 L572.9 692.7 L574.1 692.8 L575.3 692.8 L576.5 692.9 L577.7 692.9 L578.9 692.9 L580 692.9 L581.2 692.9 L582.4 692.9 L583.5 692.9 L584.7 692.9 L585.9 692.9 L587.1 692.9 L588.2 692.9 L589.4 692.9 L590.6 692.9 L591.7 692.9 L592.9 692.9 L594.1 692.9 L595.3 692.9 L596.5 692.9 L597.6 692.9 L598.8 693 L600 693 L601.2 693 L602.4 693 L603.6 693.1 L604.8 693.1 L606 693.1 L607.1 693.2 L608.3 693.2 L609.5 693.2 L610.7 693.3 L611.9 693.3 L613.1 693.3 L614.3 693.4 L615.5 693.5 L616.7 693.5 L617.9 693.6 L619.1 693.7 L620.3 693.8 L621.5 693.9 L622.7 694 L623.9 694 L625.1 694.1 L626.3 694.2 L627.5 694.3 L630 694.3 L630 695.6 L367 695.6 L367 696.7 Z" fill="#a8d3ee"/>
</g>
<line x1="94.1" y1="89" x2="94.1" y2="715" stroke="#e5784a" stroke-width="1.85" stroke-dasharray="11 5.4" stroke-dashoffset="5"/>
<line x1="183.1" y1="89" x2="183.1" y2="715" stroke="#e5784a" stroke-width="1.85" stroke-dasharray="11 5.4" stroke-dashoffset="5"/>
<line x1="409.1" y1="89" x2="409.1" y2="715" stroke="#e5784a" stroke-width="1.85" stroke-dasharray="11 5.4" stroke-dashoffset="5"/>
<line x1="498.4" y1="89" x2="498.4" y2="715" stroke="#e5784a" stroke-width="1.85" stroke-dasharray="11 5.4" stroke-dashoffset="5"/>
<line x1="543.3" y1="89" x2="543.3" y2="715" stroke="#5e8fd8" stroke-width="1.85" stroke-dasharray="11 5.4" stroke-dashoffset="5"/>
<g clip-path="url(#cl1)">
<path d="M54 151.6 L55.3 150.2 L56.5 148.8 L57.8 148.2 L59.1 148.5 L60.4 149.3 L61.7 150.4 L63 151.5 L64.3 152.8 L65.6 154.3 L66.9 155.9 L68.2 157.3 L69.4 158.6 L70.6 160 L71.8 161.1 L73 161.5 L74.2 161.4 L75.3 161.3 L76.5 161 L77.9 159.6 L79.2 156.8 L80.6 153.5 L81.7 150.4 L82.9 146.6 L84 142.4 L85.2 138.3 L86.3 134.5 L87.4 131 L88.5 127.4 L89.6 123.8 L90.7 120.5 L91.8 117.7 L92.9 115.6 L93.8 114.1 L94.8 113.3 L95.8 113.8 L96.8 115 L98.2 120 L99.5 127 L100.5 131.6 L101.6 136.3 L102.7 141 L103.7 146 L105 153.4 L106.2 159.2 L107.1 161.1 L108 162 L109.3 161.3 L110.7 159.7 L112 158 L113.3 156.4 L114.6 154.4 L115.9 152.6 L117.2 151.2 L118.5 150.7 L119.6 151 L120.7 151.7 L121.8 152.7 L122.9 153.9 L124 155 L125.2 156.4 L126.4 158.3 L127.5 160.1 L128.7 161.4 L129.9 162 L131.1 161.7 L132.3 161 L133.4 159.9 L134.6 158.6 L135.8 157.2 L137 156 L138.2 154.7 L139.3 153.1 L140.5 151.3 L141.6 149.7 L142.8 148.2 L143.9 147.3 L145.1 146.9 L146.3 147.4 L147.5 148.7 L148.6 150.5 L149.8 152.3 L151 154 L152.3 155.8 L153.6 157.9 L154.8 159.9 L156.1 161.4 L157.4 162 L158.7 161.4 L160 159.7 L161.4 157.2 L162.7 154.4 L164 151.6 L165.3 148.3 L166.6 144.1 L167.8 139.5 L169.1 134.8 L170.4 130.5 L171.7 127 L173 124.3 L174.2 121.8 L175.5 119.5 L176.8 117.5 L178 115.5 L179.3 113.7 L180.5 111.9 L181.7 110 L182.8 108.6 L184 108 L185.1 108.1 L186.3 108.4 L187.4 108.8 L188.6 109.3 L189.7 109.9 L190.8 110.9 L192 112.5 L193.1 114.5 L194.3 116.9 L195.4 119.4 L196.5 122.4 L197.7 126 L198.8 130.1 L200 134.2 L201.1 138.3 L202.4 142.8 L203.6 147.4 L204.9 151.6 L206.2 155.7 L207.4 159.6 L208.7 162 L209.6 163 L210.6 163.4 L211.7 163.1 L212.8 162.3 L213.8 161.2 L214.9 160 L216 159 L217.2 158 L218.4 157 L219.6 156.1 L220.8 155.2 L222 154.5 L223.2 153.8 L224.5 153.2 L225.8 152.6 L227 152.1 L228.2 151.7 L229.5 151.6 L230.7 151.7 L231.9 152 L233.1 152.5 L234.2 153 L235.4 153.6 L236.6 154.2 L237.8 154.9 L239 155.4 L240.3 156 L241.5 156.7 L242.8 157.4 L244.1 158.1 L245.3 158.5 L246.6 158.7 L247.8 158.7 L249 158.6 L250.2 158.4 L251.4 158.2 L252.6 158 L253.9 157.7 L255.1 157.4 L256.3 157.1 L257.5 156.9 L258.7 156.6 L259.9 156.4 L261 156.2 L262.2 156 L263.3 155.7 L264.5 155.5 L265.6 155.2 L266.7 155 L267.9 154.8 L269 154.6 L270.2 154.5 L271.3 154.5 L272.5 154.5 L273.7 154.6 L274.9 154.7 L276.1 154.8 L277.2 154.9 L278.4 155.1 L279.6 155.2 L280.8 155.4 L282 155.6 L283.2 155.9 L284.4 156.3 L285.6 156.6 L286.7 157 L287.9 157.3 L289.1 157.5 L290.3 157.7 L291.5 157.8 L292.7 157.9 L293.9 158 L295.1 158 L296.3 158.1 L297.6 158.2 L298.8 158.2 L300 158.2 L301.2 158.3 L302.4 158.3 L303.6 158.3 L304.8 158.2 L306 158.1 L307.1 157.9 L308.3 157.6 L309.5 157.3 L310.6 157 L311.8 156.7 L313 156.4" fill="none" stroke="#1c1c1c" stroke-width="1.25" stroke-linejoin="round"/>
<line x1="79.6" y1="156" x2="79.6" y2="166" stroke="#ec6731" stroke-width="1.6"/>
<line x1="86.3" y1="128" x2="86.3" y2="144" stroke="#ec6731" stroke-width="1.6"/>
<line x1="115.3" y1="159" x2="115.3" y2="168" stroke="#ec6731" stroke-width="1.6"/>
<line x1="137.9" y1="154.5" x2="137.9" y2="171.6" stroke="#ec6731" stroke-width="1.6"/>
<line x1="167.1" y1="135" x2="167.1" y2="146" stroke="#ec6731" stroke-width="1.6"/>
<line x1="173.6" y1="124" x2="173.6" y2="135" stroke="#ec6731" stroke-width="1.6"/>
<line x1="179.8" y1="92" x2="179.8" y2="105" stroke="#ec6731" stroke-width="1.6"/>
<line x1="186.3" y1="105" x2="186.3" y2="119" stroke="#ec6731" stroke-width="1.6"/>
<line x1="196.3" y1="115.5" x2="196.3" y2="127" stroke="#ec6731" stroke-width="1.6"/>
<circle cx="60.1" cy="160.7" r="2.8" fill="#ec6731" stroke="#d6511d" stroke-width="1"/>
<circle cx="66.7" cy="160.7" r="2.8" fill="#ec6731" stroke="#d6511d" stroke-width="1"/>
<circle cx="73" cy="164" r="2.8" fill="#ec6731" stroke="#d6511d" stroke-width="1"/>
<circle cx="79.6" cy="161.7" r="2.8" fill="#ec6731" stroke="#d6511d" stroke-width="1"/>
<circle cx="86.3" cy="136.8" r="2.8" fill="#ec6731" stroke="#d6511d" stroke-width="1"/>
<circle cx="89.3" cy="122.4" r="2.8" fill="#ec6731" stroke="#d6511d" stroke-width="1"/>
<circle cx="92.5" cy="113.3" r="2.8" fill="#ec6731" stroke="#d6511d" stroke-width="1"/>
<circle cx="96.1" cy="113.3" r="2.8" fill="#ec6731" stroke="#d6511d" stroke-width="1"/>
<circle cx="99.2" cy="132.3" r="2.8" fill="#ec6731" stroke="#d6511d" stroke-width="1"/>
<circle cx="102.6" cy="139.5" r="2.8" fill="#ec6731" stroke="#d6511d" stroke-width="1"/>
<circle cx="105.6" cy="150.9" r="2.8" fill="#ec6731" stroke="#d6511d" stroke-width="1"/>
<circle cx="109" cy="163" r="2.8" fill="#ec6731" stroke="#d6511d" stroke-width="1"/>
<circle cx="111.9" cy="163" r="2.8" fill="#ec6731" stroke="#d6511d" stroke-width="1"/>
<circle cx="115.3" cy="164" r="2.8" fill="#ec6731" stroke="#d6511d" stroke-width="1"/>
<circle cx="118.5" cy="155.4" r="2.8" fill="#ec6731" stroke="#d6511d" stroke-width="1"/>
<circle cx="124.8" cy="155.8" r="2.8" fill="#ec6731" stroke="#d6511d" stroke-width="1"/>
<circle cx="131.4" cy="167.8" r="2.8" fill="#ec6731" stroke="#d6511d" stroke-width="1"/>
<circle cx="137.9" cy="162.6" r="2.8" fill="#ec6731" stroke="#d6511d" stroke-width="1"/>
<circle cx="144.3" cy="161.1" r="2.8" fill="#ec6731" stroke="#d6511d" stroke-width="1"/>
<circle cx="151" cy="160.7" r="2.8" fill="#ec6731" stroke="#d6511d" stroke-width="1"/>
<circle cx="157.2" cy="171.2" r="2.8" fill="#ec6731" stroke="#d6511d" stroke-width="1"/>
<circle cx="163.7" cy="153.5" r="2.8" fill="#ec6731" stroke="#d6511d" stroke-width="1"/>
<circle cx="167.1" cy="140.6" r="2.8" fill="#ec6731" stroke="#d6511d" stroke-width="1"/>
<circle cx="170.1" cy="127.9" r="2.8" fill="#ec6731" stroke="#d6511d" stroke-width="1"/>
<circle cx="173.6" cy="129.8" r="2.8" fill="#ec6731" stroke="#d6511d" stroke-width="1"/>
<circle cx="176.8" cy="109.5" r="2.8" fill="#ec6731" stroke="#d6511d" stroke-width="1"/>
<circle cx="179.8" cy="98.5" r="2.8" fill="#ec6731" stroke="#d6511d" stroke-width="1"/>
<circle cx="182.7" cy="111.4" r="2.8" fill="#ec6731" stroke="#d6511d" stroke-width="1"/>
<circle cx="186.3" cy="111.8" r="2.8" fill="#ec6731" stroke="#d6511d" stroke-width="1"/>
<circle cx="189.7" cy="107.4" r="2.8" fill="#ec6731" stroke="#d6511d" stroke-width="1"/>
<circle cx="192.5" cy="120.3" r="2.8" fill="#ec6731" stroke="#d6511d" stroke-width="1"/>
<circle cx="196.3" cy="121.6" r="2.8" fill="#ec6731" stroke="#d6511d" stroke-width="1"/>
<circle cx="199.2" cy="142.7" r="2.8" fill="#ec6731" stroke="#d6511d" stroke-width="1"/>
<circle cx="202.4" cy="148.8" r="2.8" fill="#ec6731" stroke="#d6511d" stroke-width="1"/>
<circle cx="205.8" cy="145" r="2.8" fill="#ec6731" stroke="#d6511d" stroke-width="1"/>
<circle cx="209.2" cy="164.5" r="2.8" fill="#ec6731" stroke="#d6511d" stroke-width="1"/>
<circle cx="212.5" cy="159.6" r="2.8" fill="#ec6731" stroke="#d6511d" stroke-width="1"/>
<circle cx="215.5" cy="159.6" r="2.8" fill="#ec6731" stroke="#d6511d" stroke-width="1"/>
<circle cx="218.7" cy="155.8" r="2.8" fill="#ec6731" stroke="#d6511d" stroke-width="1"/>
<circle cx="222" cy="153.9" r="2.8" fill="#ec6731" stroke="#d6511d" stroke-width="1"/>
<circle cx="224.8" cy="149.4" r="2.8" fill="#ec6731" stroke="#d6511d" stroke-width="1"/>
<circle cx="228.6" cy="147.5" r="2.8" fill="#ec6731" stroke="#d6511d" stroke-width="1"/>
<circle cx="231.4" cy="148.2" r="2.8" fill="#ec6731" stroke="#d6511d" stroke-width="1"/>
<circle cx="234.9" cy="149.7" r="2.8" fill="#ec6731" stroke="#d6511d" stroke-width="1"/>
<circle cx="238.1" cy="153.5" r="2.8" fill="#ec6731" stroke="#d6511d" stroke-width="1"/>
<circle cx="241.3" cy="157.7" r="2.8" fill="#ec6731" stroke="#d6511d" stroke-width="1"/>
<circle cx="244.7" cy="155.4" r="2.8" fill="#ec6731" stroke="#d6511d" stroke-width="1"/>
<circle cx="248" cy="164.5" r="2.8" fill="#ec6731" stroke="#d6511d" stroke-width="1"/>
<circle cx="254.2" cy="157.7" r="2.8" fill="#ec6731" stroke="#d6511d" stroke-width="1"/>
<circle cx="260.9" cy="151.6" r="2.8" fill="#ec6731" stroke="#d6511d" stroke-width="1"/>
<circle cx="267.1" cy="153.5" r="2.8" fill="#ec6731" stroke="#d6511d" stroke-width="1"/>
<circle cx="273.8" cy="151.6" r="2.8" fill="#ec6731" stroke="#d6511d" stroke-width="1"/>
<circle cx="280.4" cy="152" r="2.8" fill="#ec6731" stroke="#d6511d" stroke-width="1"/>
<circle cx="286.7" cy="155.4" r="2.8" fill="#ec6731" stroke="#d6511d" stroke-width="1"/>
<circle cx="292.9" cy="158.3" r="2.8" fill="#ec6731" stroke="#d6511d" stroke-width="1"/>
<circle cx="299.4" cy="157.7" r="2.8" fill="#ec6731" stroke="#d6511d" stroke-width="1"/>
<circle cx="306" cy="159.6" r="2.8" fill="#ec6731" stroke="#d6511d" stroke-width="1"/>
</g>
<g clip-path="url(#cr1)">
<path d="M368.5 163 L369.7 163 L370.9 162.9 L372.2 162.9 L373.4 162.8 L374.6 162.8 L375.9 162.8 L377.1 162.7 L378.3 162.7 L379.5 162.6 L380.8 162.6 L382 162.5 L383.2 162.4 L384.4 162.3 L385.6 162.1 L386.8 161.9 L387.9 161.7 L389.1 161.4 L390.3 161 L391.5 160.6 L392.7 160.2 L394 159.5 L395.2 158.4 L396.5 157.1 L397.8 155.8 L399 154.5 L400.3 153.5 L401.6 152.6 L402.9 151.7 L404.3 150.9 L405.6 150.3 L406.9 150.1 L408 150.2 L409.1 150.5 L410.2 150.9 L411.3 151.4 L412.4 152 L413.5 152.6 L414.6 153.4 L415.8 154.3 L416.9 155.4 L418.1 156.4 L419.2 157.3 L420.3 158 L421.5 158.7 L422.6 159.3 L423.8 159.8 L424.9 160.2 L426 160.4 L427.2 160.7 L428.3 160.9 L429.5 161 L430.6 161.2 L431.7 161.3 L432.9 161.4 L434 161.5 L435.2 161.6 L436.3 161.7 L437.6 161.8 L438.8 161.8 L440.1 161.9 L441.4 162 L442.6 162 L443.9 162 L445.2 162.1 L446.4 162.1 L447.7 162.1 L448.9 162 L450.1 161.9 L451.3 161.6 L452.4 161.3 L453.6 160.9 L454.8 160.5 L456 160 L457.2 159.6 L458.5 159.1 L459.7 158.5 L461 157.8 L462.3 157 L463.5 156.2 L464.8 155.4 L466.1 154.5 L467.3 153.5 L468.6 152.5 L469.9 151.3 L471.1 150.1 L472.4 148.8 L473.7 147.4 L474.9 145.8 L476.2 144 L477.5 142.2 L478.7 140.3 L480 138.3 L481.3 136.1 L482.5 133.6 L483.8 130.9 L485.1 128.3 L486.3 126 L487.6 124.1 L488.9 122.4 L490.2 120.8 L491.6 119.4 L492.9 118.2 L494.2 117.5 L495.5 117 L496.7 116.6 L498 116.5 L499.1 116.9 L500.3 117.9 L501.4 119.3 L502.6 120.8 L503.7 122.2 L504.8 123.6 L506 125 L507.1 126.6 L508.3 128.2 L509.4 129.8 L510.5 131.4 L511.7 133.1 L512.8 134.7 L514 136.5 L515.1 138.3 L516.4 140.4 L517.6 142.7 L518.9 145 L520.2 147.6 L521.4 150.3 L522.7 152.6 L524 154.4 L525.2 156 L526.5 157.3 L527.6 158.2 L528.8 159 L529.9 159.7 L531.1 160.3 L532.2 160.7 L533.5 161.1 L534.7 161.4 L536 161.7 L537.3 161.9 L538.5 162 L539.8 162.1 L541 162.1 L542.1 162.1 L543.3 162.1 L544.4 162.1 L545.6 162.1 L546.8 162.1 L547.9 162.1 L549.1 162.1 L550.3 162.1 L551.4 162.1 L552.6 162.1 L553.7 162.1 L554.9 162.1 L556.1 162.1 L557.3 162.1 L558.5 162.1 L559.6 162.2 L560.8 162.2 L562 162.2 L563.2 162.3 L564.4 162.3 L565.6 162.4 L566.8 162.4 L568 162.4 L569.1 162.5 L570.3 162.5 L571.5 162.6 L572.7 162.6 L573.9 162.6 L575.1 162.6 L576.3 162.6 L577.5 162.6 L578.7 162.7 L579.9 162.7 L581 162.7 L582.2 162.7 L583.4 162.7 L584.6 162.7 L585.8 162.7 L587 162.7 L588.2 162.7 L589.4 162.8 L590.6 162.8 L591.8 162.8 L593 162.8 L594.1 162.8 L595.3 162.8 L596.5 162.8 L597.7 162.8 L598.9 162.8 L600.1 162.8 L601.3 162.8 L602.5 162.8 L603.7 162.9 L604.9 162.9 L606.1 162.9 L607.3 162.9 L608.4 162.9 L609.6 162.9 L610.8 162.9 L612 162.9 L613.2 162.9 L614.4 162.9 L615.6 162.9 L616.8 162.9 L618 162.9 L619.2 162.9 L620.4 163 L621.5 163 L622.7 163 L623.9 163 L625.1 163 L626.3 163 L627.5 163" fill="none" stroke="#1c1c1c" stroke-width="1.25" stroke-linejoin="round"/>
<line x1="375.2" y1="149.7" x2="375.2" y2="157.3" stroke="#1b69b2" stroke-width="1.6"/>
<line x1="394.6" y1="147.8" x2="394.6" y2="162" stroke="#1b69b2" stroke-width="1.6"/>
<line x1="401.2" y1="143" x2="401.2" y2="154.5" stroke="#1b69b2" stroke-width="1.6"/>
<line x1="410.9" y1="143" x2="410.9" y2="149.7" stroke="#1b69b2" stroke-width="1.6"/>
<line x1="414.1" y1="146" x2="414.1" y2="160" stroke="#1b69b2" stroke-width="1.6"/>
<line x1="430.3" y1="150.7" x2="430.3" y2="164" stroke="#1b69b2" stroke-width="1.6"/>
<line x1="453" y1="154.5" x2="453" y2="177" stroke="#1b69b2" stroke-width="1.6"/>
<line x1="491.9" y1="125" x2="491.9" y2="133.6" stroke="#1b69b2" stroke-width="1.6"/>
<line x1="494.8" y1="91" x2="494.8" y2="121" stroke="#1b69b2" stroke-width="1.6"/>
<line x1="499" y1="100.4" x2="499" y2="119.4" stroke="#1b69b2" stroke-width="1.6"/>
<line x1="505.2" y1="111.8" x2="505.2" y2="128.9" stroke="#1b69b2" stroke-width="1.6"/>
<line x1="508.4" y1="123" x2="508.4" y2="132.6" stroke="#1b69b2" stroke-width="1.6"/>
<line x1="511.7" y1="124" x2="511.7" y2="136.4" stroke="#1b69b2" stroke-width="1.6"/>
<line x1="520.8" y1="149.7" x2="520.8" y2="165.9" stroke="#1b69b2" stroke-width="1.6"/>
<line x1="524.2" y1="146.9" x2="524.2" y2="161.1" stroke="#1b69b2" stroke-width="1.6"/>
<line x1="527.4" y1="156.4" x2="527.4" y2="166.8" stroke="#1b69b2" stroke-width="1.6"/>
<line x1="546.4" y1="136.4" x2="546.4" y2="147.8" stroke="#1b69b2" stroke-width="1.6"/>
<line x1="549.6" y1="133.6" x2="549.6" y2="156.4" stroke="#1b69b2" stroke-width="1.6"/>
<line x1="563.1" y1="149.7" x2="563.1" y2="163" stroke="#1b69b2" stroke-width="1.6"/>
<line x1="569.5" y1="156.4" x2="569.5" y2="168.7" stroke="#1b69b2" stroke-width="1.6"/>
<line x1="575.8" y1="160.2" x2="575.8" y2="169.6" stroke="#1b69b2" stroke-width="1.6"/>
<circle cx="375.2" cy="153.5" r="2.65" fill="#449de0" stroke="#1b69b2" stroke-width="1"/>
<circle cx="381.7" cy="155.4" r="2.65" fill="#449de0" stroke="#1b69b2" stroke-width="1"/>
<circle cx="388.3" cy="163.4" r="2.65" fill="#449de0" stroke="#1b69b2" stroke-width="1"/>
<circle cx="394.6" cy="155" r="2.65" fill="#449de0" stroke="#1b69b2" stroke-width="1"/>
<circle cx="401.2" cy="148.8" r="2.65" fill="#449de0" stroke="#1b69b2" stroke-width="1"/>
<circle cx="404.4" cy="153.1" r="2.65" fill="#449de0" stroke="#1b69b2" stroke-width="1"/>
<circle cx="407.9" cy="155.4" r="2.65" fill="#449de0" stroke="#1b69b2" stroke-width="1"/>
<circle cx="410.9" cy="146.3" r="2.65" fill="#449de0" stroke="#1b69b2" stroke-width="1"/>
<circle cx="414.1" cy="152.6" r="2.65" fill="#449de0" stroke="#1b69b2" stroke-width="1"/>
<circle cx="417.3" cy="148.2" r="2.65" fill="#449de0" stroke="#1b69b2" stroke-width="1"/>
<circle cx="420.6" cy="159.6" r="2.65" fill="#449de0" stroke="#1b69b2" stroke-width="1"/>
<circle cx="423.6" cy="163.6" r="2.65" fill="#449de0" stroke="#1b69b2" stroke-width="1"/>
<circle cx="427.2" cy="163.6" r="2.65" fill="#449de0" stroke="#1b69b2" stroke-width="1"/>
<circle cx="430.3" cy="158.3" r="2.65" fill="#449de0" stroke="#1b69b2" stroke-width="1"/>
<circle cx="433.5" cy="161.5" r="2.65" fill="#449de0" stroke="#1b69b2" stroke-width="1"/>
<circle cx="439.7" cy="160.2" r="2.65" fill="#449de0" stroke="#1b69b2" stroke-width="1"/>
<circle cx="446.2" cy="160.2" r="2.65" fill="#449de0" stroke="#1b69b2" stroke-width="1"/>
<circle cx="453" cy="165.9" r="2.65" fill="#449de0" stroke="#1b69b2" stroke-width="1"/>
<circle cx="459.5" cy="155.8" r="2.65" fill="#449de0" stroke="#1b69b2" stroke-width="1"/>
<circle cx="465.7" cy="144.4" r="2.65" fill="#449de0" stroke="#1b69b2" stroke-width="1"/>
<circle cx="472" cy="147.8" r="2.65" fill="#449de0" stroke="#1b69b2" stroke-width="1"/>
<circle cx="479" cy="143.7" r="2.65" fill="#449de0" stroke="#1b69b2" stroke-width="1"/>
<circle cx="481.9" cy="132.3" r="2.65" fill="#449de0" stroke="#1b69b2" stroke-width="1"/>
<circle cx="485.7" cy="134.5" r="2.65" fill="#449de0" stroke="#1b69b2" stroke-width="1"/>
<circle cx="488.5" cy="124.1" r="2.65" fill="#449de0" stroke="#1b69b2" stroke-width="1"/>
<circle cx="491.9" cy="128.9" r="2.65" fill="#449de0" stroke="#1b69b2" stroke-width="1"/>
<circle cx="494.8" cy="106.5" r="2.65" fill="#449de0" stroke="#1b69b2" stroke-width="1"/>
<circle cx="497.1" cy="109.9" r="2.65" fill="#449de0" stroke="#1b69b2" stroke-width="1"/>
<circle cx="499" cy="110.8" r="2.65" fill="#449de0" stroke="#1b69b2" stroke-width="1"/>
<circle cx="501.8" cy="120.3" r="2.65" fill="#449de0" stroke="#1b69b2" stroke-width="1"/>
<circle cx="505.2" cy="120.9" r="2.65" fill="#449de0" stroke="#1b69b2" stroke-width="1"/>
<circle cx="508.4" cy="127" r="2.65" fill="#449de0" stroke="#1b69b2" stroke-width="1"/>
<circle cx="511.7" cy="129.8" r="2.65" fill="#449de0" stroke="#1b69b2" stroke-width="1"/>
<circle cx="514.7" cy="134" r="2.65" fill="#449de0" stroke="#1b69b2" stroke-width="1"/>
<circle cx="517.5" cy="142.1" r="2.65" fill="#449de0" stroke="#1b69b2" stroke-width="1"/>
<circle cx="520.8" cy="156.4" r="2.65" fill="#449de0" stroke="#1b69b2" stroke-width="1"/>
<circle cx="524.2" cy="153.5" r="2.65" fill="#449de0" stroke="#1b69b2" stroke-width="1"/>
<circle cx="527.4" cy="161.1" r="2.65" fill="#449de0" stroke="#1b69b2" stroke-width="1"/>
<circle cx="530.6" cy="159.6" r="2.65" fill="#449de0" stroke="#1b69b2" stroke-width="1"/>
<circle cx="533.7" cy="153.5" r="2.65" fill="#449de0" stroke="#1b69b2" stroke-width="1"/>
<circle cx="536.9" cy="163" r="2.65" fill="#449de0" stroke="#1b69b2" stroke-width="1"/>
<circle cx="540.1" cy="159.6" r="2.65" fill="#449de0" stroke="#1b69b2" stroke-width="1"/>
<circle cx="543.2" cy="153.1" r="2.65" fill="#449de0" stroke="#1b69b2" stroke-width="1"/>
<circle cx="546.4" cy="142.5" r="2.65" fill="#449de0" stroke="#1b69b2" stroke-width="1"/>
<circle cx="549.6" cy="145.6" r="2.65" fill="#449de0" stroke="#1b69b2" stroke-width="1"/>
<circle cx="553" cy="154.5" r="2.65" fill="#449de0" stroke="#1b69b2" stroke-width="1"/>
<circle cx="556.3" cy="155" r="2.65" fill="#449de0" stroke="#1b69b2" stroke-width="1"/>
<circle cx="559.7" cy="171.6" r="2.65" fill="#449de0" stroke="#1b69b2" stroke-width="1"/>
<circle cx="563.1" cy="155.8" r="2.65" fill="#449de0" stroke="#1b69b2" stroke-width="1"/>
<circle cx="569.5" cy="162.1" r="2.65" fill="#449de0" stroke="#1b69b2" stroke-width="1"/>
<circle cx="575.8" cy="164.9" r="2.65" fill="#449de0" stroke="#1b69b2" stroke-width="1"/>
<circle cx="582.1" cy="165.9" r="2.65" fill="#449de0" stroke="#1b69b2" stroke-width="1"/>
<circle cx="588.7" cy="158.8" r="2.65" fill="#449de0" stroke="#1b69b2" stroke-width="1"/>
<circle cx="595.2" cy="156.9" r="2.65" fill="#449de0" stroke="#1b69b2" stroke-width="1"/>
<circle cx="601.4" cy="156.9" r="2.65" fill="#449de0" stroke="#1b69b2" stroke-width="1"/>
<circle cx="608.1" cy="162.6" r="2.65" fill="#449de0" stroke="#1b69b2" stroke-width="1"/>
<circle cx="614.7" cy="160.7" r="2.65" fill="#449de0" stroke="#1b69b2" stroke-width="1"/>
<circle cx="621.4" cy="166.8" r="2.65" fill="#449de0" stroke="#1b69b2" stroke-width="1"/>
</g>
<g clip-path="url(#cl2)">
<path d="M54 245.4 L55.3 245.8 L56.5 246.2 L57.8 246.6 L59.1 247 L60.3 247.5 L61.6 248.2 L62.7 249.3 L63.9 251.2 L65 253.3 L66.2 255.3 L67.3 256.8 L68.5 258.1 L69.7 259.3 L70.8 260.2 L72 260.6 L73.1 260.2 L74.3 259.2 L75.4 257.6 L76.6 255.8 L77.7 253.9 L78.9 251.4 L80.1 248 L81.3 244.3 L82.5 240.6 L83.6 237.1 L84.8 233.5 L85.9 229.8 L87.1 226.1 L88.2 222.6 L89.4 218.6 L90.6 214.2 L91.7 210.7 L92.9 209.3 L94.2 210.3 L95.4 212.7 L96.7 216 L98 222.2 L99.2 231.5 L100.5 240.6 L101.9 250.8 L103.3 257.7 L103.8 258.4 L104.3 258.7 L105.4 258 L106.6 256.3 L107.7 254 L108.9 251.8 L110 250.1 L111.1 248.8 L112.3 247.6 L113.4 246.5 L114.6 245.7 L115.7 245.4 L116.8 245.7 L118 246.5 L119.1 247.7 L120.3 248.9 L121.4 250.1 L122.7 251.7 L124 253.7 L125.4 255.6 L126.7 257.1 L128 257.7 L129.1 257.3 L130.3 256.3 L131.4 255 L132.6 253.5 L133.7 252 L134.8 250.3 L135.9 248.3 L137.1 246.1 L138.2 244.1 L139.3 242.6 L140.4 242.1 L141.7 242.5 L143 243.5 L144.4 244.9 L145.7 246.6 L147 248.2 L148.1 250.1 L149.3 252.5 L150.4 255 L151.6 256.9 L152.7 257.7 L153.8 257.3 L155 256.1 L156.1 254.4 L157.3 252.3 L158.4 250.1 L159.5 247.1 L160.7 243 L161.8 238.3 L163 233.6 L164.1 229.2 L165.2 225.1 L166.4 221 L167.5 217 L168.7 213.4 L169.8 210.3 L170.9 207.6 L172.1 205.1 L173.2 202.9 L174.4 201.1 L175.5 199.8 L176.7 198.8 L177.8 197.9 L179 197.2 L180.2 197 L181.5 197.3 L182.7 198 L184 198.9 L185.1 200 L186.3 201.7 L187.4 203.7 L188.6 206 L189.7 208.4 L190.8 211.1 L192 214.3 L193.1 217.8 L194.3 221.5 L195.4 225.4 L196.6 229.9 L197.8 235 L198.9 240 L200.1 244.4 L201.4 248.5 L202.6 252.2 L203.9 254.9 L205.2 256.9 L206.4 258.5 L207.7 259.2 L208.9 258.9 L210.1 258 L211.3 256.9 L212.5 255.8 L213.6 254.6 L214.8 253.1 L215.9 251.6 L217.1 250.2 L218.2 249.2 L219.3 248.5 L220.4 247.8 L221.5 247.2 L222.6 246.7 L223.7 246.4 L224.8 246.3 L226.1 246.5 L227.4 247 L228.8 247.7 L230.1 248.5 L231.4 249.2 L232.7 249.8 L233.9 250.5 L235.2 251.2 L236.5 251.9 L237.7 252.5 L239 253 L240.3 253.4 L241.5 253.9 L242.8 254.3 L244.1 254.6 L245.3 254.8 L246.6 254.9 L247.8 254.8 L249 254.7 L250.2 254.5 L251.4 254.2 L252.6 253.9 L253.9 253.6 L255.1 253.2 L256.3 252.9 L257.5 252.5 L258.7 252.2 L259.9 252 L261.1 251.8 L262.3 251.6 L263.5 251.3 L264.7 251.1 L265.9 250.9 L267.2 250.7 L268.4 250.5 L269.6 250.3 L270.8 250.2 L272 250.1 L273.2 250.1 L274.3 250.1 L275.5 250.1 L276.6 250.2 L277.8 250.3 L278.9 250.4 L280 250.5 L281.2 250.6 L282.3 250.7 L283.5 250.9 L284.6 251 L285.8 251.2 L287 251.5 L288.2 251.9 L289.4 252.4 L290.6 252.9 L291.9 253.4 L293.1 253.9 L294.3 254.3 L295.5 254.6 L296.7 254.8 L297.9 254.9 L299.2 254.8 L300.4 254.6 L301.7 254.2 L303 253.8 L304.2 253.4 L305.5 253 L306.8 252.7 L308 252.3 L309.2 252 L310.5 251.7 L311.8 251.3 L313 251" fill="none" stroke="#1c1c1c" stroke-width="1.25" stroke-linejoin="round"/>
<line x1="83" y1="233" x2="83" y2="245.5" stroke="#ec6731" stroke-width="1.6"/>
<line x1="95.8" y1="196" x2="95.8" y2="206.5" stroke="#ec6731" stroke-width="1.6"/>
<line x1="99.2" y1="197" x2="99.2" y2="215" stroke="#ec6731" stroke-width="1.6"/>
<line x1="102.4" y1="218.8" x2="102.4" y2="232" stroke="#ec6731" stroke-width="1.6"/>
<line x1="178.9" y1="181.8" x2="178.9" y2="193.2" stroke="#ec6731" stroke-width="1.6"/>
<line x1="197.9" y1="217" x2="197.9" y2="230" stroke="#ec6731" stroke-width="1.6"/>
<line x1="201.1" y1="215" x2="201.1" y2="254" stroke="#ec6731" stroke-width="1.6"/>
<circle cx="57.4" cy="243.5" r="2.8" fill="#ec6731" stroke="#d6511d" stroke-width="1"/>
<circle cx="63.9" cy="250.5" r="2.8" fill="#ec6731" stroke="#d6511d" stroke-width="1"/>
<circle cx="70.5" cy="252.4" r="2.8" fill="#ec6731" stroke="#d6511d" stroke-width="1"/>
<circle cx="76.8" cy="253" r="2.8" fill="#ec6731" stroke="#d6511d" stroke-width="1"/>
<circle cx="83" cy="239.3" r="2.8" fill="#ec6731" stroke="#d6511d" stroke-width="1"/>
<circle cx="86.3" cy="219.4" r="2.8" fill="#ec6731" stroke="#d6511d" stroke-width="1"/>
<circle cx="89.5" cy="213.7" r="2.8" fill="#ec6731" stroke="#d6511d" stroke-width="1"/>
<circle cx="92.5" cy="200.4" r="2.8" fill="#ec6731" stroke="#d6511d" stroke-width="1"/>
<circle cx="95.8" cy="201.3" r="2.8" fill="#ec6731" stroke="#d6511d" stroke-width="1"/>
<circle cx="99.2" cy="206.1" r="2.8" fill="#ec6731" stroke="#d6511d" stroke-width="1"/>
<circle cx="102.4" cy="225.1" r="2.8" fill="#ec6731" stroke="#d6511d" stroke-width="1"/>
<circle cx="105.6" cy="246.7" r="2.8" fill="#ec6731" stroke="#d6511d" stroke-width="1"/>
<circle cx="108.7" cy="253.9" r="2.8" fill="#ec6731" stroke="#d6511d" stroke-width="1"/>
<circle cx="111.9" cy="257.3" r="2.8" fill="#ec6731" stroke="#d6511d" stroke-width="1"/>
<circle cx="114.7" cy="248.8" r="2.8" fill="#ec6731" stroke="#d6511d" stroke-width="1"/>
<circle cx="121.4" cy="245.4" r="2.8" fill="#ec6731" stroke="#d6511d" stroke-width="1"/>
<circle cx="128" cy="253" r="2.8" fill="#ec6731" stroke="#d6511d" stroke-width="1"/>
<circle cx="134.3" cy="259.2" r="2.8" fill="#ec6731" stroke="#d6511d" stroke-width="1"/>
<circle cx="140.7" cy="250.1" r="2.8" fill="#ec6731" stroke="#d6511d" stroke-width="1"/>
<circle cx="147" cy="245.4" r="2.8" fill="#ec6731" stroke="#d6511d" stroke-width="1"/>
<circle cx="153.3" cy="251.4" r="2.8" fill="#ec6731" stroke="#d6511d" stroke-width="1"/>
<circle cx="159.7" cy="255.2" r="2.8" fill="#ec6731" stroke="#d6511d" stroke-width="1"/>
<circle cx="162.8" cy="238.7" r="2.8" fill="#ec6731" stroke="#d6511d" stroke-width="1"/>
<circle cx="166.4" cy="234" r="2.8" fill="#ec6731" stroke="#d6511d" stroke-width="1"/>
<circle cx="169.2" cy="224.9" r="2.8" fill="#ec6731" stroke="#d6511d" stroke-width="1"/>
<circle cx="172.6" cy="212.2" r="2.8" fill="#ec6731" stroke="#d6511d" stroke-width="1"/>
<circle cx="175.8" cy="195.7" r="2.8" fill="#ec6731" stroke="#d6511d" stroke-width="1"/>
<circle cx="178.9" cy="187.5" r="2.8" fill="#ec6731" stroke="#d6511d" stroke-width="1"/>
<circle cx="182.1" cy="195.1" r="2.8" fill="#ec6731" stroke="#d6511d" stroke-width="1"/>
<circle cx="185.5" cy="191.3" r="2.8" fill="#ec6731" stroke="#d6511d" stroke-width="1"/>
<circle cx="188.7" cy="197" r="2.8" fill="#ec6731" stroke="#d6511d" stroke-width="1"/>
<circle cx="192" cy="201.7" r="2.8" fill="#ec6731" stroke="#d6511d" stroke-width="1"/>
<circle cx="195" cy="206.5" r="2.8" fill="#ec6731" stroke="#d6511d" stroke-width="1"/>
<circle cx="197.9" cy="223.5" r="2.8" fill="#ec6731" stroke="#d6511d" stroke-width="1"/>
<circle cx="201.1" cy="234.9" r="2.8" fill="#ec6731" stroke="#d6511d" stroke-width="1"/>
<circle cx="204.5" cy="244.8" r="2.8" fill="#ec6731" stroke="#d6511d" stroke-width="1"/>
<circle cx="207.7" cy="250.1" r="2.8" fill="#ec6731" stroke="#d6511d" stroke-width="1"/>
<circle cx="211" cy="255.4" r="2.8" fill="#ec6731" stroke="#d6511d" stroke-width="1"/>
<circle cx="213.4" cy="261.1" r="2.8" fill="#ec6731" stroke="#d6511d" stroke-width="1"/>
<circle cx="216.8" cy="258.1" r="2.8" fill="#ec6731" stroke="#d6511d" stroke-width="1"/>
<circle cx="220.1" cy="253.5" r="2.8" fill="#ec6731" stroke="#d6511d" stroke-width="1"/>
<circle cx="223.3" cy="250.1" r="2.8" fill="#ec6731" stroke="#d6511d" stroke-width="1"/>
<circle cx="226.3" cy="245.4" r="2.8" fill="#ec6731" stroke="#d6511d" stroke-width="1"/>
<circle cx="229.5" cy="247.3" r="2.8" fill="#ec6731" stroke="#d6511d" stroke-width="1"/>
<circle cx="233" cy="244.8" r="2.8" fill="#ec6731" stroke="#d6511d" stroke-width="1"/>
<circle cx="236.2" cy="249.2" r="2.8" fill="#ec6731" stroke="#d6511d" stroke-width="1"/>
<circle cx="239.4" cy="252" r="2.8" fill="#ec6731" stroke="#d6511d" stroke-width="1"/>
<circle cx="242.8" cy="253" r="2.8" fill="#ec6731" stroke="#d6511d" stroke-width="1"/>
<circle cx="248.9" cy="256.8" r="2.8" fill="#ec6731" stroke="#d6511d" stroke-width="1"/>
<circle cx="255.2" cy="254.9" r="2.8" fill="#ec6731" stroke="#d6511d" stroke-width="1"/>
<circle cx="261.8" cy="252.4" r="2.8" fill="#ec6731" stroke="#d6511d" stroke-width="1"/>
<circle cx="268.1" cy="249.5" r="2.8" fill="#ec6731" stroke="#d6511d" stroke-width="1"/>
<circle cx="274.5" cy="248.6" r="2.8" fill="#ec6731" stroke="#d6511d" stroke-width="1"/>
<circle cx="280.8" cy="249.2" r="2.8" fill="#ec6731" stroke="#d6511d" stroke-width="1"/>
<circle cx="287.4" cy="250.5" r="2.8" fill="#ec6731" stroke="#d6511d" stroke-width="1"/>
<circle cx="293.7" cy="252.6" r="2.8" fill="#ec6731" stroke="#d6511d" stroke-width="1"/>
<circle cx="300.1" cy="258.7" r="2.8" fill="#ec6731" stroke="#d6511d" stroke-width="1"/>
<circle cx="306.4" cy="254.9" r="2.8" fill="#ec6731" stroke="#d6511d" stroke-width="1"/>
</g>
<g clip-path="url(#cr2)">
<path d="M368.5 248.2 L369.7 248.2 L370.9 248.2 L372 248.2 L373.2 248.2 L374.4 248.2 L375.6 248.2 L376.7 248.2 L377.9 248.2 L379.1 248.2 L380.3 248.2 L381.5 248.2 L382.6 248.2 L383.8 248.2 L385 248.2 L386.2 248.2 L387.3 248.2 L388.5 248.2 L389.7 248.2 L390.9 248.2 L392.1 248.2 L393.2 248.2 L394.4 248.2 L395.6 248.2 L396.8 248.2 L397.9 248.2 L399.1 248.2 L400.3 248.2 L401.5 247.4 L402.6 245.5 L403.8 243 L405 240.6 L406.1 238 L407.3 234.8 L408.4 231.6 L409.6 229.2 L410.7 228.3 L411.9 229.1 L413 231.1 L414.2 233.5 L415.4 235.9 L416.5 238.3 L417.7 241.2 L418.8 243.9 L420 246.1 L421.1 247.3 L422.4 247.8 L423.6 248.1 L424.9 248.2 L426.1 248.2 L427.3 248.2 L428.5 248.2 L429.7 248.2 L430.9 248.2 L432.1 248.2 L433.2 248.2 L434.4 248.2 L435.6 248.2 L436.8 248.2 L438 248.2 L439.2 248.2 L440.4 248.2 L441.6 248.2 L442.8 248.2 L444 248.2 L445.2 248.2 L446.4 248.1 L447.6 248.1 L448.7 248.1 L449.9 248.1 L451.1 248.1 L452.3 248.1 L453.5 248.1 L454.7 248.1 L455.9 248.1 L457.1 248 L458.3 248 L459.5 248 L460.7 248 L461.9 248 L463.1 248 L464.2 247.9 L465.4 247.9 L466.6 247.9 L467.8 247.9 L469 247.9 L470.2 247.8 L471.4 247.8 L472.5 247.6 L473.6 247 L474.7 246.1 L475.8 245 L476.9 243.8 L478 242.5 L479.3 240.7 L480.6 238.5 L481.9 235.8 L483.1 233 L484.4 230.1 L485.7 227.3 L487 224.5 L488.2 221.5 L489.5 218.5 L490.8 215.6 L492 212.8 L493.3 210.3 L494.5 208 L495.6 205.8 L496.8 204 L498 203 L499.3 202.6 L500.5 202.3 L501.8 202 L503.1 201.9 L504.3 201.7 L505.6 201.7 L506.8 202.4 L508 204 L509.1 206.2 L510.3 208.4 L511.5 210.8 L512.7 213.6 L513.9 216.7 L515.1 219.8 L516.3 223.1 L517.5 226.8 L518.6 230.2 L519.8 233 L521.1 235.6 L522.3 237.8 L523.6 238.7 L524.8 238.3 L526 237.4 L527.2 236.2 L528.4 234.9 L529.5 233.5 L530.7 231.6 L531.8 229.6 L533 227.5 L534.1 225.4 L535.3 223.3 L536.5 221 L537.6 218.9 L538.8 216.9 L540 215 L541.2 213 L542.4 211.4 L543.6 210.3 L544.8 209.6 L546 209 L547.1 208.6 L548.3 208.4 L549.4 208.6 L550.5 209 L551.6 209.7 L552.7 210.5 L553.8 211.4 L554.9 212.2 L556.2 213.2 L557.4 214.4 L558.7 215.7 L560 217.1 L561.2 218.5 L562.5 219.8 L563.8 221.1 L565 222.5 L566.3 223.9 L567.6 225.3 L568.8 226.7 L570.1 228 L571.4 229.2 L572.6 230.2 L573.9 231.1 L575.2 231.8 L576.4 232.4 L577.7 233 L579 233.6 L580.2 234.1 L581.5 234.5 L582.8 235 L584 235.4 L585.3 235.9 L586.4 236.3 L587.6 236.7 L588.7 237.1 L589.9 237.5 L591 237.9 L592.1 238.2 L593.3 238.6 L594.4 239 L595.6 239.3 L596.7 239.7 L598 240.1 L599.2 240.6 L600.5 241.1 L601.8 241.5 L603 242 L604.3 242.4 L605.6 242.8 L606.8 243.2 L608.1 243.5 L609.4 243.8 L610.6 244 L611.9 244.2 L613.2 244.4 L614.4 244.6 L615.7 244.8 L617 245 L618.2 245.2 L619.5 245.4 L620.6 245.6 L621.8 245.9 L622.9 246.2 L624.1 246.5 L625.2 246.7 L626.4 247 L627.5 247.3" fill="none" stroke="#1c1c1c" stroke-width="1.25" stroke-linejoin="round"/>
<line x1="401.2" y1="246.4" x2="401.2" y2="253" stroke="#1b69b2" stroke-width="1.6"/>
<line x1="426.8" y1="244.4" x2="426.8" y2="255.8" stroke="#1b69b2" stroke-width="1.6"/>
<line x1="502.2" y1="199.8" x2="502.2" y2="212.2" stroke="#1b69b2" stroke-width="1.6"/>
<line x1="506" y1="202.7" x2="506" y2="215" stroke="#1b69b2" stroke-width="1.6"/>
<line x1="509.8" y1="199.8" x2="509.8" y2="209.3" stroke="#1b69b2" stroke-width="1.6"/>
<line x1="522.3" y1="236.8" x2="522.3" y2="248.2" stroke="#1b69b2" stroke-width="1.6"/>
<line x1="528.9" y1="218.8" x2="528.9" y2="245.4" stroke="#1b69b2" stroke-width="1.6"/>
<line x1="532.2" y1="228.3" x2="532.2" y2="240.6" stroke="#1b69b2" stroke-width="1.6"/>
<line x1="535.6" y1="214" x2="535.6" y2="245.4" stroke="#1b69b2" stroke-width="1.6"/>
<line x1="538.2" y1="207.4" x2="538.2" y2="224.5" stroke="#1b69b2" stroke-width="1.6"/>
<line x1="542" y1="210.3" x2="542" y2="224.5" stroke="#1b69b2" stroke-width="1.6"/>
<line x1="547.7" y1="201.7" x2="547.7" y2="214" stroke="#1b69b2" stroke-width="1.6"/>
<line x1="551.1" y1="200.8" x2="551.1" y2="219.8" stroke="#1b69b2" stroke-width="1.6"/>
<line x1="564" y1="225.4" x2="564" y2="233" stroke="#1b69b2" stroke-width="1.6"/>
<circle cx="372.7" cy="247.3" r="2.65" fill="#449de0" stroke="#1b69b2" stroke-width="1"/>
<circle cx="379" cy="240.6" r="2.65" fill="#449de0" stroke="#1b69b2" stroke-width="1"/>
<circle cx="385.5" cy="244.4" r="2.65" fill="#449de0" stroke="#1b69b2" stroke-width="1"/>
<circle cx="391.7" cy="243.5" r="2.65" fill="#449de0" stroke="#1b69b2" stroke-width="1"/>
<circle cx="398" cy="240.6" r="2.65" fill="#449de0" stroke="#1b69b2" stroke-width="1"/>
<circle cx="401.2" cy="250.1" r="2.65" fill="#449de0" stroke="#1b69b2" stroke-width="1"/>
<circle cx="404.6" cy="242.5" r="2.65" fill="#449de0" stroke="#1b69b2" stroke-width="1"/>
<circle cx="407.5" cy="233" r="2.65" fill="#449de0" stroke="#1b69b2" stroke-width="1"/>
<circle cx="410.7" cy="226.4" r="2.65" fill="#449de0" stroke="#1b69b2" stroke-width="1"/>
<circle cx="413.5" cy="235.9" r="2.65" fill="#449de0" stroke="#1b69b2" stroke-width="1"/>
<circle cx="417.7" cy="239.1" r="2.65" fill="#449de0" stroke="#1b69b2" stroke-width="1"/>
<circle cx="420.2" cy="251.6" r="2.65" fill="#449de0" stroke="#1b69b2" stroke-width="1"/>
<circle cx="423.6" cy="251.1" r="2.65" fill="#449de0" stroke="#1b69b2" stroke-width="1"/>
<circle cx="426.8" cy="250.7" r="2.65" fill="#449de0" stroke="#1b69b2" stroke-width="1"/>
<circle cx="429.9" cy="248.6" r="2.65" fill="#449de0" stroke="#1b69b2" stroke-width="1"/>
<circle cx="436.3" cy="254.9" r="2.65" fill="#449de0" stroke="#1b69b2" stroke-width="1"/>
<circle cx="442.6" cy="252.6" r="2.65" fill="#449de0" stroke="#1b69b2" stroke-width="1"/>
<circle cx="449.2" cy="259.2" r="2.65" fill="#449de0" stroke="#1b69b2" stroke-width="1"/>
<circle cx="455.7" cy="243.9" r="2.65" fill="#449de0" stroke="#1b69b2" stroke-width="1"/>
<circle cx="461.6" cy="240.6" r="2.65" fill="#449de0" stroke="#1b69b2" stroke-width="1"/>
<circle cx="468" cy="247.3" r="2.65" fill="#449de0" stroke="#1b69b2" stroke-width="1"/>
<circle cx="474.7" cy="249.6" r="2.65" fill="#449de0" stroke="#1b69b2" stroke-width="1"/>
<circle cx="477.7" cy="244.4" r="2.65" fill="#449de0" stroke="#1b69b2" stroke-width="1"/>
<circle cx="481.3" cy="240.6" r="2.65" fill="#449de0" stroke="#1b69b2" stroke-width="1"/>
<circle cx="484.2" cy="229.2" r="2.65" fill="#449de0" stroke="#1b69b2" stroke-width="1"/>
<circle cx="487.6" cy="228.9" r="2.65" fill="#449de0" stroke="#1b69b2" stroke-width="1"/>
<circle cx="490.4" cy="210.3" r="2.65" fill="#449de0" stroke="#1b69b2" stroke-width="1"/>
<circle cx="493.8" cy="206.1" r="2.65" fill="#449de0" stroke="#1b69b2" stroke-width="1"/>
<circle cx="496.5" cy="200.4" r="2.65" fill="#449de0" stroke="#1b69b2" stroke-width="1"/>
<circle cx="499" cy="201.7" r="2.65" fill="#449de0" stroke="#1b69b2" stroke-width="1"/>
<circle cx="502.2" cy="205.5" r="2.65" fill="#449de0" stroke="#1b69b2" stroke-width="1"/>
<circle cx="506" cy="208" r="2.65" fill="#449de0" stroke="#1b69b2" stroke-width="1"/>
<circle cx="509.8" cy="204.6" r="2.65" fill="#449de0" stroke="#1b69b2" stroke-width="1"/>
<circle cx="513.2" cy="207.4" r="2.65" fill="#449de0" stroke="#1b69b2" stroke-width="1"/>
<circle cx="516" cy="223.2" r="2.65" fill="#449de0" stroke="#1b69b2" stroke-width="1"/>
<circle cx="519.3" cy="236.8" r="2.65" fill="#449de0" stroke="#1b69b2" stroke-width="1"/>
<circle cx="522.3" cy="242.5" r="2.65" fill="#449de0" stroke="#1b69b2" stroke-width="1"/>
<circle cx="525.5" cy="237.8" r="2.65" fill="#449de0" stroke="#1b69b2" stroke-width="1"/>
<circle cx="528.9" cy="232.1" r="2.65" fill="#449de0" stroke="#1b69b2" stroke-width="1"/>
<circle cx="532.2" cy="234.9" r="2.65" fill="#449de0" stroke="#1b69b2" stroke-width="1"/>
<circle cx="535.6" cy="227" r="2.65" fill="#449de0" stroke="#1b69b2" stroke-width="1"/>
<circle cx="538.2" cy="216" r="2.65" fill="#449de0" stroke="#1b69b2" stroke-width="1"/>
<circle cx="542" cy="215" r="2.65" fill="#449de0" stroke="#1b69b2" stroke-width="1"/>
<circle cx="544.5" cy="206.5" r="2.65" fill="#449de0" stroke="#1b69b2" stroke-width="1"/>
<circle cx="547.7" cy="207.4" r="2.65" fill="#449de0" stroke="#1b69b2" stroke-width="1"/>
<circle cx="551.1" cy="210.3" r="2.65" fill="#449de0" stroke="#1b69b2" stroke-width="1"/>
<circle cx="554.6" cy="208.4" r="2.65" fill="#449de0" stroke="#1b69b2" stroke-width="1"/>
<circle cx="557.8" cy="218.8" r="2.65" fill="#449de0" stroke="#1b69b2" stroke-width="1"/>
<circle cx="564" cy="229.2" r="2.65" fill="#449de0" stroke="#1b69b2" stroke-width="1"/>
<circle cx="570.7" cy="235.3" r="2.65" fill="#449de0" stroke="#1b69b2" stroke-width="1"/>
<circle cx="576.8" cy="234.9" r="2.65" fill="#449de0" stroke="#1b69b2" stroke-width="1"/>
<circle cx="583.4" cy="235.9" r="2.65" fill="#449de0" stroke="#1b69b2" stroke-width="1"/>
<circle cx="589.7" cy="235.9" r="2.65" fill="#449de0" stroke="#1b69b2" stroke-width="1"/>
<circle cx="595.7" cy="241.6" r="2.65" fill="#449de0" stroke="#1b69b2" stroke-width="1"/>
<circle cx="602" cy="239.1" r="2.65" fill="#449de0" stroke="#1b69b2" stroke-width="1"/>
<circle cx="608.6" cy="244.8" r="2.65" fill="#449de0" stroke="#1b69b2" stroke-width="1"/>
<circle cx="615.1" cy="245.8" r="2.65" fill="#449de0" stroke="#1b69b2" stroke-width="1"/>
<circle cx="621.4" cy="241.6" r="2.65" fill="#449de0" stroke="#1b69b2" stroke-width="1"/>
</g>
<g clip-path="url(#cl3)">
<path d="M54 334 L55.2 332.4 L56.4 330.7 L57.5 329.3 L58.7 328.7 L59.8 329 L60.9 329.7 L62.1 330.7 L63.2 331.9 L64.3 333.2 L65.4 334.4 L66.6 335.8 L67.8 337.5 L69 339.4 L70.2 341.3 L71.3 343 L72.5 344.5 L73.7 345.4 L74.9 345.8 L76 345.2 L77.2 343.6 L78.3 341.3 L79.5 338.8 L80.6 336.3 L81.7 333.8 L82.9 331 L84 328 L85.2 324.7 L86.3 321.1 L87.5 316.9 L88.7 312 L89.8 307 L91 302.2 L92.5 295.3 L93.9 291.2 L95.2 291.7 L96.4 292.9 L97.7 294.6 L98.9 297.2 L100.2 301.2 L101.4 306 L102.8 313.8 L104.3 323 L105.7 332.8 L107.1 340.1 L108 342.1 L109 343 L110.1 342.2 L111.3 340.3 L112.4 337.8 L113.6 335.3 L114.7 333.5 L115.9 332 L117.1 330.6 L118.3 329.5 L119.5 329.1 L120.8 329.4 L122.1 330.3 L123.5 331.6 L124.8 333 L126.1 334.4 L127.4 336 L128.6 338 L129.9 340.1 L131.2 342 L132.4 343.4 L133.7 343.9 L134.8 343.2 L136 341.5 L137.1 339.1 L138.3 336.6 L139.4 334.4 L140.5 332.2 L141.7 329.7 L142.8 327.4 L144 325.7 L145.1 325 L146.2 325.5 L147.4 326.8 L148.5 328.6 L149.7 330.6 L150.8 332.5 L152.1 334.9 L153.4 337.9 L154.8 340.8 L156.1 343 L157.4 343.9 L158.6 343 L159.8 340.8 L161 337.7 L162.2 334.4 L163.3 330.5 L164.5 325.4 L165.6 319.8 L166.8 314.3 L167.9 309.8 L169.2 305.6 L170.4 301.8 L171.7 298.2 L173 294.8 L174.2 291.7 L175.5 288.9 L176.6 286.5 L177.7 284.3 L178.8 282.2 L179.9 280.4 L181 279 L182.5 277.3 L184 276.5 L185.3 276.6 L186.5 277 L187.8 277.5 L188.9 278.2 L190.1 279.5 L191.2 281 L192.4 283 L193.5 285.1 L194.6 288 L195.8 292.1 L196.9 296.7 L198.1 301.5 L199.2 306 L200.3 310.2 L201.5 314.4 L202.6 318.7 L203.8 322.8 L204.9 326.8 L206.2 331.4 L207.4 335.9 L208.7 339.2 L210 341.6 L211.2 343.5 L212.5 344.3 L213.7 344.1 L214.8 343.5 L216 342.8 L217.2 342 L218.3 341 L219.4 339.7 L220.6 338.1 L221.7 336.6 L222.8 335.3 L223.9 334.4 L225 333.7 L226.1 333.1 L227.3 332.6 L228.4 332.2 L229.5 332.1 L230.8 332.2 L232 332.5 L233.3 332.9 L234.6 333.4 L235.8 333.9 L237.1 334.4 L238.4 335 L239.6 335.7 L240.9 336.4 L242.2 337.1 L243.4 337.7 L244.7 338.2 L246 338.6 L247.2 338.9 L248.5 339.2 L249.8 339.5 L251 339.6 L252.3 339.7 L253.6 339.6 L254.8 339.3 L256.1 338.9 L257.4 338.4 L258.6 337.8 L259.9 337.3 L261.2 336.7 L262.4 336.3 L263.7 335.9 L264.8 335.6 L266 335.4 L267.1 335.1 L268.3 334.9 L269.4 334.6 L270.5 334.4 L271.7 334.3 L272.8 334.1 L274 334 L275.1 334 L276.4 334 L277.6 334.1 L278.9 334.2 L280.2 334.4 L281.4 334.6 L282.7 334.8 L284 335 L285.2 335.2 L286.5 335.4 L287.8 335.6 L289 335.9 L290.3 336.1 L291.6 336.4 L292.8 336.7 L294.1 336.9 L295.4 337.1 L296.6 337.3 L297.9 337.3 L299.1 337.3 L300.2 337.3 L301.4 337.2 L302.5 337.1 L303.7 337.1 L304.9 337 L306 336.9 L307.2 336.8 L308.4 336.7 L309.5 336.6 L310.7 336.5 L311.8 336.4 L313 336.3" fill="none" stroke="#1c1c1c" stroke-width="1.25" stroke-linejoin="round"/>
<line x1="81.1" y1="325" x2="81.1" y2="341" stroke="#ec6731" stroke-width="1.6"/>
<line x1="87.2" y1="303" x2="87.2" y2="320" stroke="#ec6731" stroke-width="1.6"/>
<line x1="93.9" y1="268" x2="93.9" y2="289" stroke="#ec6731" stroke-width="1.6"/>
<line x1="165.6" y1="306" x2="165.6" y2="321" stroke="#ec6731" stroke-width="1.6"/>
<line x1="168.8" y1="285" x2="168.8" y2="306" stroke="#ec6731" stroke-width="1.6"/>
<line x1="175.5" y1="279.4" x2="175.5" y2="304" stroke="#ec6731" stroke-width="1.6"/>
<line x1="185.5" y1="283" x2="185.5" y2="306" stroke="#ec6731" stroke-width="1.6"/>
<line x1="188.7" y1="279.4" x2="188.7" y2="301" stroke="#ec6731" stroke-width="1.6"/>
<line x1="192" y1="276.5" x2="192" y2="291" stroke="#ec6731" stroke-width="1.6"/>
<line x1="198.2" y1="305" x2="198.2" y2="320" stroke="#ec6731" stroke-width="1.6"/>
<line x1="201.5" y1="324" x2="201.5" y2="339" stroke="#ec6731" stroke-width="1.6"/>
<circle cx="61.6" cy="337.3" r="2.8" fill="#ec6731" stroke="#d6511d" stroke-width="1"/>
<circle cx="68.2" cy="337.8" r="2.8" fill="#ec6731" stroke="#d6511d" stroke-width="1"/>
<circle cx="74.5" cy="347.7" r="2.8" fill="#ec6731" stroke="#d6511d" stroke-width="1"/>
<circle cx="81.1" cy="333.9" r="2.8" fill="#ec6731" stroke="#d6511d" stroke-width="1"/>
<circle cx="87.2" cy="312" r="2.8" fill="#ec6731" stroke="#d6511d" stroke-width="1"/>
<circle cx="90.6" cy="291.7" r="2.8" fill="#ec6731" stroke="#d6511d" stroke-width="1"/>
<circle cx="93.9" cy="280.3" r="2.8" fill="#ec6731" stroke="#d6511d" stroke-width="1"/>
<circle cx="97.3" cy="293.2" r="2.8" fill="#ec6731" stroke="#d6511d" stroke-width="1"/>
<circle cx="100.5" cy="300.3" r="2.8" fill="#ec6731" stroke="#d6511d" stroke-width="1"/>
<circle cx="103.7" cy="317" r="2.8" fill="#ec6731" stroke="#d6511d" stroke-width="1"/>
<circle cx="107.1" cy="344.3" r="2.8" fill="#ec6731" stroke="#d6511d" stroke-width="1"/>
<circle cx="110.4" cy="347.7" r="2.8" fill="#ec6731" stroke="#d6511d" stroke-width="1"/>
<circle cx="113.4" cy="342.6" r="2.8" fill="#ec6731" stroke="#d6511d" stroke-width="1"/>
<circle cx="116.6" cy="339.2" r="2.8" fill="#ec6731" stroke="#d6511d" stroke-width="1"/>
<circle cx="120" cy="334.8" r="2.8" fill="#ec6731" stroke="#d6511d" stroke-width="1"/>
<circle cx="126.7" cy="336.7" r="2.8" fill="#ec6731" stroke="#d6511d" stroke-width="1"/>
<circle cx="133.1" cy="345.8" r="2.8" fill="#ec6731" stroke="#d6511d" stroke-width="1"/>
<circle cx="139.4" cy="341.1" r="2.8" fill="#ec6731" stroke="#d6511d" stroke-width="1"/>
<circle cx="146" cy="332.5" r="2.8" fill="#ec6731" stroke="#d6511d" stroke-width="1"/>
<circle cx="152.3" cy="342.4" r="2.8" fill="#ec6731" stroke="#d6511d" stroke-width="1"/>
<circle cx="158.9" cy="339.2" r="2.8" fill="#ec6731" stroke="#d6511d" stroke-width="1"/>
<circle cx="165.6" cy="313.5" r="2.8" fill="#ec6731" stroke="#d6511d" stroke-width="1"/>
<circle cx="168.8" cy="296.8" r="2.8" fill="#ec6731" stroke="#d6511d" stroke-width="1"/>
<circle cx="172" cy="294.6" r="2.8" fill="#ec6731" stroke="#d6511d" stroke-width="1"/>
<circle cx="175.5" cy="291.7" r="2.8" fill="#ec6731" stroke="#d6511d" stroke-width="1"/>
<circle cx="178.7" cy="276.5" r="2.8" fill="#ec6731" stroke="#d6511d" stroke-width="1"/>
<circle cx="182.1" cy="305" r="2.8" fill="#ec6731" stroke="#d6511d" stroke-width="1"/>
<circle cx="182.7" cy="292.7" r="2.8" fill="#ec6731" stroke="#d6511d" stroke-width="1"/>
<circle cx="185.5" cy="293.6" r="2.8" fill="#ec6731" stroke="#d6511d" stroke-width="1"/>
<circle cx="188.7" cy="288.9" r="2.8" fill="#ec6731" stroke="#d6511d" stroke-width="1"/>
<circle cx="192" cy="284.1" r="2.8" fill="#ec6731" stroke="#d6511d" stroke-width="1"/>
<circle cx="195.4" cy="290.4" r="2.8" fill="#ec6731" stroke="#d6511d" stroke-width="1"/>
<circle cx="198.2" cy="311.7" r="2.8" fill="#ec6731" stroke="#d6511d" stroke-width="1"/>
<circle cx="204.9" cy="319.2" r="2.8" fill="#ec6731" stroke="#d6511d" stroke-width="1"/>
<circle cx="201.5" cy="332.1" r="2.8" fill="#ec6731" stroke="#d6511d" stroke-width="1"/>
<circle cx="207.7" cy="332.5" r="2.8" fill="#ec6731" stroke="#d6511d" stroke-width="1"/>
<circle cx="211.1" cy="340.1" r="2.8" fill="#ec6731" stroke="#d6511d" stroke-width="1"/>
<circle cx="214.4" cy="337.3" r="2.8" fill="#ec6731" stroke="#d6511d" stroke-width="1"/>
<circle cx="217.8" cy="339.7" r="2.8" fill="#ec6731" stroke="#d6511d" stroke-width="1"/>
<circle cx="221" cy="337.3" r="2.8" fill="#ec6731" stroke="#d6511d" stroke-width="1"/>
<circle cx="223.9" cy="331.6" r="2.8" fill="#ec6731" stroke="#d6511d" stroke-width="1"/>
<circle cx="227.3" cy="328.7" r="2.8" fill="#ec6731" stroke="#d6511d" stroke-width="1"/>
<circle cx="230.5" cy="330.3" r="2.8" fill="#ec6731" stroke="#d6511d" stroke-width="1"/>
<circle cx="233.9" cy="325.9" r="2.8" fill="#ec6731" stroke="#d6511d" stroke-width="1"/>
<circle cx="237.1" cy="332.5" r="2.8" fill="#ec6731" stroke="#d6511d" stroke-width="1"/>
<circle cx="240.4" cy="332.1" r="2.8" fill="#ec6731" stroke="#d6511d" stroke-width="1"/>
<circle cx="243.8" cy="336.7" r="2.8" fill="#ec6731" stroke="#d6511d" stroke-width="1"/>
<circle cx="247" cy="337.3" r="2.8" fill="#ec6731" stroke="#d6511d" stroke-width="1"/>
<circle cx="250" cy="334.8" r="2.8" fill="#ec6731" stroke="#d6511d" stroke-width="1"/>
<circle cx="256.7" cy="339.2" r="2.8" fill="#ec6731" stroke="#d6511d" stroke-width="1"/>
<circle cx="263.3" cy="333.5" r="2.8" fill="#ec6731" stroke="#d6511d" stroke-width="1"/>
<circle cx="269.8" cy="334.4" r="2.8" fill="#ec6731" stroke="#d6511d" stroke-width="1"/>
<circle cx="276.4" cy="329.3" r="2.8" fill="#ec6731" stroke="#d6511d" stroke-width="1"/>
<circle cx="282.7" cy="333.5" r="2.8" fill="#ec6731" stroke="#d6511d" stroke-width="1"/>
<circle cx="289.3" cy="336.3" r="2.8" fill="#ec6731" stroke="#d6511d" stroke-width="1"/>
<circle cx="296" cy="337.7" r="2.8" fill="#ec6731" stroke="#d6511d" stroke-width="1"/>
<circle cx="302.2" cy="338.2" r="2.8" fill="#ec6731" stroke="#d6511d" stroke-width="1"/>
<circle cx="308.7" cy="339.6" r="2.8" fill="#ec6731" stroke="#d6511d" stroke-width="1"/>
</g>
<g clip-path="url(#cr3)">
<path d="M368.5 347.3 L369.7 347.3 L370.9 347.3 L372.1 347.3 L373.3 347.3 L374.6 347.3 L375.8 347.3 L377 347.3 L378.2 347.3 L379.4 347.3 L380.6 347.3 L381.8 347.3 L383 347.3 L384.2 347.3 L385.5 347.3 L386.7 347.3 L387.9 347.3 L389.1 347.3 L390.3 347.3 L391.5 347.3 L392.7 347.3 L393.9 347.3 L395.2 347.3 L396.4 347.3 L397.6 347.3 L398.8 347.3 L400 347.3 L401.2 347.3 L402.4 347.3 L403.6 347.3 L404.8 347.3 L406 347.3 L407.1 347.3 L408.3 347.3 L409.5 347.3 L410.7 347.3 L411.9 347.3 L413.1 347.3 L414.3 347.3 L415.5 347.3 L416.7 347.3 L417.9 347.3 L419 347.3 L420.2 347.3 L421.4 347.3 L422.6 347.3 L423.8 347.3 L425 347.3 L426.2 347.3 L427.4 347.3 L428.6 347.3 L429.8 347.3 L431 347.3 L432.1 347.3 L433.3 347.3 L434.5 347.3 L435.7 347.3 L436.9 347.3 L438.1 347.3 L439.3 347.3 L440.5 347.3 L441.7 347.3 L442.9 347.3 L444 347.3 L445.2 347.3 L446.4 347.3 L447.6 347.3 L448.8 347.3 L450 347.3 L451.2 347.3 L452.4 347.3 L453.6 347.3 L454.8 347.3 L456 347.3 L457.2 347.3 L458.4 347.2 L459.6 347.2 L460.8 347.2 L462 347.2 L463.2 347.2 L464.4 347.1 L465.6 347.1 L466.8 347.1 L468 347.1 L469.2 347 L470.4 347 L471.6 347 L472.8 346.9 L474 346.9 L475.2 346.9 L476.4 346.9 L477.6 346.8 L478.8 346.8 L480 346.8 L481.2 346.8 L482.5 346.7 L483.8 346.7 L485 346.7 L486.2 346.6 L487.5 346.6 L488.8 346.6 L490 346.6 L491.2 346.5 L492.5 346.5 L493.8 346.5 L495 346.5 L496.2 346.5 L497.5 346.5 L498.8 346.6 L500 346.7 L501.2 346.7 L502.5 346.8 L503.8 346.9 L505 347 L506.2 347.1 L507.5 347.1 L508.8 347.2 L510 347.2 L511.2 347.2 L512.4 347.2 L513.5 347.2 L514.7 347.2 L515.9 347.3 L517.1 347.3 L518.2 347.3 L519.4 347.3 L520.6 347.3 L521.8 347.3 L523 347.3 L524.1 347.3 L525.3 347.3 L526.5 347.3 L527.7 347.3 L528.9 347.2 L530.1 347 L531.2 346.7 L532.4 346.4 L533.6 346 L534.8 345.5 L536 344.9 L537.3 342.4 L538.5 337.2 L539.8 330.6 L541.2 319 L542.6 306 L544 295.5 L545.4 287.9 L546.2 285.3 L547 284.1 L548.1 285.7 L549.2 288.9 L550.5 293.5 L551.7 299.1 L553 304.1 L554.1 307.6 L555.3 310.8 L556.4 313.7 L557.6 316.5 L558.7 319.2 L559.8 321.9 L561 324.6 L562.1 327.2 L563.3 329.5 L564.4 331.6 L565.5 333.4 L566.7 335.2 L567.8 336.7 L569 338.1 L570.1 339.2 L571.4 340.3 L572.6 341.3 L573.9 342.2 L575.2 342.9 L576.4 343.6 L577.7 344 L578.9 344.3 L580 344.6 L581.2 344.9 L582.4 345.1 L583.5 345.3 L584.7 345.5 L585.9 345.7 L587.1 345.9 L588.2 346 L589.4 346.1 L590.6 346.2 L591.7 346.3 L592.9 346.4 L594.1 346.5 L595.3 346.5 L596.5 346.6 L597.7 346.6 L598.9 346.7 L600.1 346.7 L601.3 346.7 L602.4 346.8 L603.6 346.8 L604.8 346.8 L606 346.9 L607.2 346.9 L608.4 346.9 L609.6 346.9 L610.8 347 L612 347 L613.2 347 L614.4 347 L615.6 347.1 L616.8 347.1 L618 347.1 L619.1 347.1 L620.3 347.1 L621.5 347.2 L622.7 347.2 L623.9 347.2 L625.1 347.2 L626.3 347.3 L627.5 347.3" fill="none" stroke="#1c1c1c" stroke-width="1.25" stroke-linejoin="round"/>
<line x1="499.9" y1="334.4" x2="499.9" y2="343" stroke="#1b69b2" stroke-width="1.6"/>
<line x1="516.4" y1="335.4" x2="516.4" y2="344" stroke="#1b69b2" stroke-width="1.6"/>
<line x1="523.1" y1="336.3" x2="523.1" y2="346" stroke="#1b69b2" stroke-width="1.6"/>
<line x1="529.7" y1="328.7" x2="529.7" y2="344" stroke="#1b69b2" stroke-width="1.6"/>
<line x1="539.4" y1="324" x2="539.4" y2="340" stroke="#1b69b2" stroke-width="1.6"/>
<line x1="542.6" y1="294.6" x2="542.6" y2="308.8" stroke="#1b69b2" stroke-width="1.6"/>
<line x1="545.8" y1="268" x2="545.8" y2="294.6" stroke="#1b69b2" stroke-width="1.6"/>
<line x1="552.1" y1="295.5" x2="552.1" y2="315.5" stroke="#1b69b2" stroke-width="1.6"/>
<line x1="555.3" y1="308.8" x2="555.3" y2="326.8" stroke="#1b69b2" stroke-width="1.6"/>
<line x1="562.1" y1="318.3" x2="562.1" y2="331.6" stroke="#1b69b2" stroke-width="1.6"/>
<line x1="591" y1="340" x2="591" y2="353.4" stroke="#1b69b2" stroke-width="1.6"/>
<circle cx="376.2" cy="340.7" r="2.65" fill="#449de0" stroke="#1b69b2" stroke-width="1"/>
<circle cx="382.8" cy="348.3" r="2.65" fill="#449de0" stroke="#1b69b2" stroke-width="1"/>
<circle cx="389.4" cy="344.5" r="2.65" fill="#449de0" stroke="#1b69b2" stroke-width="1"/>
<circle cx="396.1" cy="343.5" r="2.65" fill="#449de0" stroke="#1b69b2" stroke-width="1"/>
<circle cx="402.5" cy="344.9" r="2.65" fill="#449de0" stroke="#1b69b2" stroke-width="1"/>
<circle cx="405.6" cy="342.4" r="2.65" fill="#449de0" stroke="#1b69b2" stroke-width="1"/>
<circle cx="408.8" cy="335.8" r="2.65" fill="#449de0" stroke="#1b69b2" stroke-width="1"/>
<circle cx="412.2" cy="346.2" r="2.65" fill="#449de0" stroke="#1b69b2" stroke-width="1"/>
<circle cx="415.4" cy="346.2" r="2.65" fill="#449de0" stroke="#1b69b2" stroke-width="1"/>
<circle cx="418.7" cy="349.6" r="2.65" fill="#449de0" stroke="#1b69b2" stroke-width="1"/>
<circle cx="422.1" cy="344.9" r="2.65" fill="#449de0" stroke="#1b69b2" stroke-width="1"/>
<circle cx="425.3" cy="347.7" r="2.65" fill="#449de0" stroke="#1b69b2" stroke-width="1"/>
<circle cx="428.4" cy="347.7" r="2.65" fill="#449de0" stroke="#1b69b2" stroke-width="1"/>
<circle cx="431.6" cy="348.7" r="2.65" fill="#449de0" stroke="#1b69b2" stroke-width="1"/>
<circle cx="434.8" cy="346.8" r="2.65" fill="#449de0" stroke="#1b69b2" stroke-width="1"/>
<circle cx="441.4" cy="346.4" r="2.65" fill="#449de0" stroke="#1b69b2" stroke-width="1"/>
<circle cx="448.1" cy="346.8" r="2.65" fill="#449de0" stroke="#1b69b2" stroke-width="1"/>
<circle cx="454.7" cy="347.7" r="2.65" fill="#449de0" stroke="#1b69b2" stroke-width="1"/>
<circle cx="461" cy="348.7" r="2.65" fill="#449de0" stroke="#1b69b2" stroke-width="1"/>
<circle cx="467.6" cy="350" r="2.65" fill="#449de0" stroke="#1b69b2" stroke-width="1"/>
<circle cx="473.9" cy="348.7" r="2.65" fill="#449de0" stroke="#1b69b2" stroke-width="1"/>
<circle cx="480.4" cy="345.4" r="2.65" fill="#449de0" stroke="#1b69b2" stroke-width="1"/>
<circle cx="483.8" cy="341.6" r="2.65" fill="#449de0" stroke="#1b69b2" stroke-width="1"/>
<circle cx="487.2" cy="341.6" r="2.65" fill="#449de0" stroke="#1b69b2" stroke-width="1"/>
<circle cx="490.4" cy="340.7" r="2.65" fill="#449de0" stroke="#1b69b2" stroke-width="1"/>
<circle cx="493.3" cy="345.8" r="2.65" fill="#449de0" stroke="#1b69b2" stroke-width="1"/>
<circle cx="496.7" cy="344.9" r="2.65" fill="#449de0" stroke="#1b69b2" stroke-width="1"/>
<circle cx="499.9" cy="338.6" r="2.65" fill="#449de0" stroke="#1b69b2" stroke-width="1"/>
<circle cx="503.3" cy="341.6" r="2.65" fill="#449de0" stroke="#1b69b2" stroke-width="1"/>
<circle cx="506.5" cy="345.4" r="2.65" fill="#449de0" stroke="#1b69b2" stroke-width="1"/>
<circle cx="509.8" cy="349.6" r="2.65" fill="#449de0" stroke="#1b69b2" stroke-width="1"/>
<circle cx="513.2" cy="350.6" r="2.65" fill="#449de0" stroke="#1b69b2" stroke-width="1"/>
<circle cx="516.4" cy="340.1" r="2.65" fill="#449de0" stroke="#1b69b2" stroke-width="1"/>
<circle cx="519.8" cy="346.2" r="2.65" fill="#449de0" stroke="#1b69b2" stroke-width="1"/>
<circle cx="523.1" cy="341.1" r="2.65" fill="#449de0" stroke="#1b69b2" stroke-width="1"/>
<circle cx="526.5" cy="344.3" r="2.65" fill="#449de0" stroke="#1b69b2" stroke-width="1"/>
<circle cx="529.7" cy="336.9" r="2.65" fill="#449de0" stroke="#1b69b2" stroke-width="1"/>
<circle cx="532.7" cy="344.9" r="2.65" fill="#449de0" stroke="#1b69b2" stroke-width="1"/>
<circle cx="536" cy="341.1" r="2.65" fill="#449de0" stroke="#1b69b2" stroke-width="1"/>
<circle cx="539.4" cy="334.8" r="2.65" fill="#449de0" stroke="#1b69b2" stroke-width="1"/>
<circle cx="542.6" cy="301.8" r="2.65" fill="#449de0" stroke="#1b69b2" stroke-width="1"/>
<circle cx="545.8" cy="284.7" r="2.65" fill="#449de0" stroke="#1b69b2" stroke-width="1"/>
<circle cx="548.9" cy="280.3" r="2.65" fill="#449de0" stroke="#1b69b2" stroke-width="1"/>
<circle cx="552.1" cy="306.9" r="2.65" fill="#449de0" stroke="#1b69b2" stroke-width="1"/>
<circle cx="555.3" cy="314.5" r="2.65" fill="#449de0" stroke="#1b69b2" stroke-width="1"/>
<circle cx="558.7" cy="301.8" r="2.65" fill="#449de0" stroke="#1b69b2" stroke-width="1"/>
<circle cx="562.1" cy="325.3" r="2.65" fill="#449de0" stroke="#1b69b2" stroke-width="1"/>
<circle cx="565.4" cy="347.3" r="2.65" fill="#449de0" stroke="#1b69b2" stroke-width="1"/>
<circle cx="571.6" cy="334" r="2.65" fill="#449de0" stroke="#1b69b2" stroke-width="1"/>
<circle cx="578.1" cy="344.9" r="2.65" fill="#449de0" stroke="#1b69b2" stroke-width="1"/>
<circle cx="584.7" cy="343" r="2.65" fill="#449de0" stroke="#1b69b2" stroke-width="1"/>
<circle cx="591" cy="346.4" r="2.65" fill="#449de0" stroke="#1b69b2" stroke-width="1"/>
<circle cx="597.6" cy="348.7" r="2.65" fill="#449de0" stroke="#1b69b2" stroke-width="1"/>
<circle cx="604.3" cy="347.7" r="2.65" fill="#449de0" stroke="#1b69b2" stroke-width="1"/>
<circle cx="610.9" cy="346.2" r="2.65" fill="#449de0" stroke="#1b69b2" stroke-width="1"/>
<circle cx="617.2" cy="346.4" r="2.65" fill="#449de0" stroke="#1b69b2" stroke-width="1"/>
<circle cx="623.6" cy="349.6" r="2.65" fill="#449de0" stroke="#1b69b2" stroke-width="1"/>
</g>
<g clip-path="url(#cl4)">
<path d="M54 429.1 L55.2 427.4 L56.4 425.5 L57.5 424 L58.7 423.4 L59.8 423.6 L60.9 424.3 L62.1 425.3 L63.2 426.5 L64.3 427.8 L65.4 429.1 L66.6 430.7 L67.8 432.8 L68.9 434.9 L70.1 436.7 L71.3 438.5 L72.5 440.4 L73.7 441.8 L74.9 442.4 L76 441.8 L77.2 440.3 L78.3 438.1 L79.5 435.5 L80.6 432.9 L81.8 429.9 L82.9 426.2 L84.1 422.1 L85.3 417.7 L86.5 412.2 L87.7 405.9 L88.9 399.7 L90.1 395 L91.2 391.5 L92.4 388.2 L93.5 385.3 L94.7 383.3 L95.8 382.6 L97 383.7 L98.3 386.4 L99.5 390.2 L101 399.6 L102.4 412 L103.8 423.7 L105.2 432.9 L106.7 438.1 L108.1 440.5 L109.2 439.7 L110.4 437.8 L111.5 435.4 L112.7 432.9 L113.8 431 L114.9 429.5 L116.1 428 L117.2 426.6 L118.4 425.7 L119.5 425.3 L120.8 425.7 L122.1 426.7 L123.5 428 L124.8 429.6 L126.1 431 L127.2 432.4 L128.4 434.2 L129.5 435.9 L130.7 437.2 L131.8 437.7 L132.9 437 L134.1 435.1 L135.2 432.7 L136.4 430.2 L137.5 428.2 L138.8 426.3 L140.1 424.2 L141.5 422.4 L142.8 421.1 L144.1 420.6 L145.2 421 L146.3 422.1 L147.4 423.6 L148.6 425.4 L149.7 427.3 L150.8 429.1 L151.9 431.3 L153.1 434 L154.2 436.7 L155.4 438.8 L156.5 439.6 L157.7 438.8 L158.8 436.9 L160 434.1 L161.2 431 L162.4 426.4 L163.6 420 L164.8 413.2 L166 407.3 L167.1 402.7 L168.3 398.2 L169.4 394.1 L170.6 390.4 L171.7 387.4 L173 384.6 L174.2 382.2 L175.5 380 L176.8 378 L178 376 L179.3 374.1 L180.5 372 L181.7 369.8 L182.8 368.1 L184 367.4 L185.1 367.7 L186.3 368.4 L187.4 369.5 L188.6 370.8 L189.7 372.2 L190.8 374.1 L192 376.8 L193.1 380 L194.3 383.6 L195.4 387.4 L196.5 391.6 L197.7 396.6 L198.8 401.9 L200 407.2 L201.1 412 L202.3 416.6 L203.4 421.1 L204.6 425.3 L205.8 429.1 L207.1 433.2 L208.3 437 L209.6 438.6 L210.8 438.4 L212 437.8 L213.2 437 L214.4 436.3 L215.7 435.5 L216.9 434.6 L218.2 433.7 L219.5 432.7 L220.7 431.8 L222 431 L223.2 430.2 L224.5 429.4 L225.8 428.5 L227 427.9 L228.2 427.4 L229.5 427.2 L230.8 427.4 L232 427.8 L233.3 428.3 L234.6 429 L235.8 429.6 L237.1 430.1 L238.3 430.5 L239.5 430.9 L240.7 431.3 L241.8 431.7 L243 432.1 L244.2 432.4 L245.4 432.7 L246.6 432.9 L247.7 433.1 L248.9 433.2 L250 433.4 L251.2 433.5 L252.3 433.5 L253.6 433.4 L254.8 433.1 L256.1 432.8 L257.4 432.3 L258.6 431.8 L259.9 431.3 L261.2 430.8 L262.4 430.4 L263.7 430.1 L264.8 429.9 L266 429.7 L267.1 429.5 L268.3 429.3 L269.4 429.2 L270.5 429 L271.7 428.9 L272.8 428.8 L274 428.7 L275.1 428.7 L276.4 428.8 L277.6 428.9 L278.9 429.1 L280.2 429.4 L281.4 429.7 L282.7 430 L284 430.4 L285.2 430.7 L286.5 431 L287.8 431.3 L289 431.7 L290.3 432.1 L291.6 432.6 L292.8 433 L294.1 433.3 L295.4 433.6 L296.6 433.8 L297.9 433.9 L299.1 433.9 L300.2 433.9 L301.4 433.8 L302.5 433.7 L303.7 433.7 L304.9 433.6 L306 433.5 L307.2 433.4 L308.4 433.3 L309.5 433.2 L310.7 433.1 L311.8 433 L313 432.9" fill="none" stroke="#1c1c1c" stroke-width="1.25" stroke-linejoin="round"/>
<line x1="80.6" y1="420.5" x2="80.6" y2="431" stroke="#ec6731" stroke-width="1.6"/>
<line x1="168.4" y1="390" x2="168.4" y2="401" stroke="#ec6731" stroke-width="1.6"/>
<line x1="181.2" y1="363.6" x2="181.2" y2="370" stroke="#ec6731" stroke-width="1.6"/>
<circle cx="61.2" cy="430.1" r="2.8" fill="#ec6731" stroke="#d6511d" stroke-width="1"/>
<circle cx="67.7" cy="432.9" r="2.8" fill="#ec6731" stroke="#d6511d" stroke-width="1"/>
<circle cx="74.3" cy="434.8" r="2.8" fill="#ec6731" stroke="#d6511d" stroke-width="1"/>
<circle cx="80.6" cy="426.8" r="2.8" fill="#ec6731" stroke="#d6511d" stroke-width="1"/>
<circle cx="87.2" cy="409.2" r="2.8" fill="#ec6731" stroke="#d6511d" stroke-width="1"/>
<circle cx="90.6" cy="389.6" r="2.8" fill="#ec6731" stroke="#d6511d" stroke-width="1"/>
<circle cx="93.9" cy="389.6" r="2.8" fill="#ec6731" stroke="#d6511d" stroke-width="1"/>
<circle cx="97.3" cy="390.8" r="2.8" fill="#ec6731" stroke="#d6511d" stroke-width="1"/>
<circle cx="100.5" cy="392.7" r="2.8" fill="#ec6731" stroke="#d6511d" stroke-width="1"/>
<circle cx="103.7" cy="418.1" r="2.8" fill="#ec6731" stroke="#d6511d" stroke-width="1"/>
<circle cx="107.1" cy="428.7" r="2.8" fill="#ec6731" stroke="#d6511d" stroke-width="1"/>
<circle cx="110" cy="437.3" r="2.8" fill="#ec6731" stroke="#d6511d" stroke-width="1"/>
<circle cx="113.4" cy="438.2" r="2.8" fill="#ec6731" stroke="#d6511d" stroke-width="1"/>
<circle cx="116.6" cy="432" r="2.8" fill="#ec6731" stroke="#d6511d" stroke-width="1"/>
<circle cx="119.9" cy="427.6" r="2.8" fill="#ec6731" stroke="#d6511d" stroke-width="1"/>
<circle cx="126.1" cy="430.1" r="2.8" fill="#ec6731" stroke="#d6511d" stroke-width="1"/>
<circle cx="132.8" cy="440.5" r="2.8" fill="#ec6731" stroke="#d6511d" stroke-width="1"/>
<circle cx="139" cy="432" r="2.8" fill="#ec6731" stroke="#d6511d" stroke-width="1"/>
<circle cx="145.7" cy="430.1" r="2.8" fill="#ec6731" stroke="#d6511d" stroke-width="1"/>
<circle cx="152.1" cy="435.8" r="2.8" fill="#ec6731" stroke="#d6511d" stroke-width="1"/>
<circle cx="158.8" cy="434.4" r="2.8" fill="#ec6731" stroke="#d6511d" stroke-width="1"/>
<circle cx="165.4" cy="407.3" r="2.8" fill="#ec6731" stroke="#d6511d" stroke-width="1"/>
<circle cx="168.4" cy="398.4" r="2.8" fill="#ec6731" stroke="#d6511d" stroke-width="1"/>
<circle cx="171.7" cy="385.5" r="2.8" fill="#ec6731" stroke="#d6511d" stroke-width="1"/>
<circle cx="174.9" cy="369.9" r="2.8" fill="#ec6731" stroke="#d6511d" stroke-width="1"/>
<circle cx="177.9" cy="373.7" r="2.8" fill="#ec6731" stroke="#d6511d" stroke-width="1"/>
<circle cx="181.2" cy="365.5" r="2.8" fill="#ec6731" stroke="#d6511d" stroke-width="1"/>
<circle cx="185" cy="373.1" r="2.8" fill="#ec6731" stroke="#d6511d" stroke-width="1"/>
<circle cx="188.2" cy="380.2" r="2.8" fill="#ec6731" stroke="#d6511d" stroke-width="1"/>
<circle cx="191.6" cy="373.1" r="2.8" fill="#ec6731" stroke="#d6511d" stroke-width="1"/>
<circle cx="194.4" cy="387.9" r="2.8" fill="#ec6731" stroke="#d6511d" stroke-width="1"/>
<circle cx="197.7" cy="388.3" r="2.8" fill="#ec6731" stroke="#d6511d" stroke-width="1"/>
<circle cx="201.1" cy="418.7" r="2.8" fill="#ec6731" stroke="#d6511d" stroke-width="1"/>
<circle cx="204.5" cy="420.6" r="2.8" fill="#ec6731" stroke="#d6511d" stroke-width="1"/>
<circle cx="207.3" cy="428.2" r="2.8" fill="#ec6731" stroke="#d6511d" stroke-width="1"/>
<circle cx="210.6" cy="437.7" r="2.8" fill="#ec6731" stroke="#d6511d" stroke-width="1"/>
<circle cx="213.8" cy="436.3" r="2.8" fill="#ec6731" stroke="#d6511d" stroke-width="1"/>
<circle cx="217.2" cy="433.9" r="2.8" fill="#ec6731" stroke="#d6511d" stroke-width="1"/>
<circle cx="220.4" cy="433.3" r="2.8" fill="#ec6731" stroke="#d6511d" stroke-width="1"/>
<circle cx="223.5" cy="428.7" r="2.8" fill="#ec6731" stroke="#d6511d" stroke-width="1"/>
<circle cx="226.7" cy="426.8" r="2.8" fill="#ec6731" stroke="#d6511d" stroke-width="1"/>
<circle cx="230.1" cy="420.6" r="2.8" fill="#ec6731" stroke="#d6511d" stroke-width="1"/>
<circle cx="233.3" cy="426.3" r="2.8" fill="#ec6731" stroke="#d6511d" stroke-width="1"/>
<circle cx="236.6" cy="427.6" r="2.8" fill="#ec6731" stroke="#d6511d" stroke-width="1"/>
<circle cx="240" cy="429.5" r="2.8" fill="#ec6731" stroke="#d6511d" stroke-width="1"/>
<circle cx="243.2" cy="429.7" r="2.8" fill="#ec6731" stroke="#d6511d" stroke-width="1"/>
<circle cx="246.6" cy="432.5" r="2.8" fill="#ec6731" stroke="#d6511d" stroke-width="1"/>
<circle cx="249.9" cy="432.3" r="2.8" fill="#ec6731" stroke="#d6511d" stroke-width="1"/>
<circle cx="256.1" cy="432.5" r="2.8" fill="#ec6731" stroke="#d6511d" stroke-width="1"/>
<circle cx="262.8" cy="429.7" r="2.8" fill="#ec6731" stroke="#d6511d" stroke-width="1"/>
<circle cx="269" cy="429.1" r="2.8" fill="#ec6731" stroke="#d6511d" stroke-width="1"/>
<circle cx="275.7" cy="426.8" r="2.8" fill="#ec6731" stroke="#d6511d" stroke-width="1"/>
<circle cx="282.1" cy="428.7" r="2.8" fill="#ec6731" stroke="#d6511d" stroke-width="1"/>
<circle cx="288.8" cy="430.6" r="2.8" fill="#ec6731" stroke="#d6511d" stroke-width="1"/>
<circle cx="295" cy="435.8" r="2.8" fill="#ec6731" stroke="#d6511d" stroke-width="1"/>
<circle cx="301.7" cy="436.7" r="2.8" fill="#ec6731" stroke="#d6511d" stroke-width="1"/>
<circle cx="308.3" cy="436.1" r="2.8" fill="#ec6731" stroke="#d6511d" stroke-width="1"/>
</g>
<g clip-path="url(#cr4)">
<path d="M368.5 440.4 L369.7 440.4 L370.9 440.4 L372.1 440.4 L373.3 440.4 L374.5 440.4 L375.7 440.4 L376.9 440.4 L378.1 440.4 L379.3 440.4 L380.5 440.4 L381.7 440.4 L382.9 440.4 L384 440.4 L385.2 440.4 L386.4 440.4 L387.6 440.4 L388.8 440.4 L390 440.4 L391.2 440.4 L392.4 440.4 L393.6 440.4 L394.8 440.4 L396 440.4 L397.2 440.4 L398.4 440.4 L399.6 440.4 L400.8 440.4 L402 440.4 L403.2 440.4 L404.4 440.4 L405.6 440.4 L406.8 440.4 L408 440.4 L409.2 440.4 L410.4 440.4 L411.6 440.4 L412.7 440.4 L413.9 440.4 L415.1 440.4 L416.3 440.4 L417.5 440.4 L418.7 440.4 L419.9 440.4 L421.1 440.4 L422.3 440.4 L423.5 440.4 L424.7 440.4 L425.9 440.4 L427.1 440.5 L428.3 440.5 L429.5 440.5 L430.7 440.5 L431.9 440.5 L433.1 440.5 L434.3 440.5 L435.5 440.5 L436.7 440.5 L437.9 440.5 L439.1 440.5 L440.3 440.5 L441.4 440.5 L442.6 440.5 L443.8 440.5 L445 440.5 L446.2 440.5 L447.4 440.5 L448.6 440.5 L449.8 440.5 L451 440.5 L452.2 440.5 L453.4 440.5 L454.6 440.5 L455.8 440.5 L457 440.5 L458.2 440.5 L459.4 440.5 L460.6 440.5 L461.8 440.5 L463 440.5 L464.2 440.5 L465.4 440.5 L466.6 440.5 L467.8 440.5 L469 440.5 L470.1 440.5 L471.3 440.5 L472.5 440.5 L473.7 440.5 L474.9 440.5 L476.1 440.5 L477.3 440.5 L478.5 440.5 L479.7 440.5 L480.9 440.5 L482.1 440.5 L483.3 440.5 L484.5 440.5 L485.7 440.5 L486.9 440.5 L488.1 440.5 L489.3 440.5 L490.5 440.5 L491.7 440.5 L492.9 440.5 L494.1 440.5 L495.3 440.5 L496.5 440.5 L497.7 440.5 L498.8 440.5 L500 440.5 L501.2 440.5 L502.4 440.5 L503.6 440.5 L504.8 440.5 L506 440.5 L507.2 440.5 L508.4 440.5 L509.6 440.5 L510.8 440.5 L512 440.5 L513.2 440.5 L514.5 439.2 L515.7 436.3 L517 432.9 L518.2 429.7 L519.4 426 L520.5 422 L521.7 417.7 L522.9 412.9 L524.1 407.5 L525.3 402.1 L526.5 396.9 L527.7 391.7 L528.9 386.4 L530 381.8 L531.2 378.8 L532.5 376.9 L533.7 375.5 L535 375 L536.3 375.4 L537.5 376.5 L538.8 377.9 L540 379.5 L541.2 381.8 L542.4 384.4 L543.6 387.4 L544.8 391.1 L546 395.6 L547.1 400.3 L548.3 404.4 L549.4 407.8 L550.6 411.1 L551.7 414.2 L552.9 417.1 L554 419.7 L555.1 422.1 L556.2 424.4 L557.3 426.5 L558.4 428.5 L559.5 430.3 L560.6 432 L561.7 433.6 L562.9 435.3 L564 436.7 L565.2 437.9 L566.3 438.6 L567.6 439.1 L568.8 439.6 L570.1 439.9 L571.4 440.2 L572.6 440.4 L573.9 440.5 L575.1 440.5 L576.3 440.5 L577.5 440.6 L578.7 440.6 L579.9 440.6 L581 440.6 L582.2 440.6 L583.4 440.6 L584.6 440.7 L585.8 440.7 L587 440.7 L588.2 440.7 L589.4 440.7 L590.6 440.7 L591.8 440.7 L593 440.7 L594.1 440.7 L595.3 440.7 L596.5 440.8 L597.7 440.8 L598.9 440.8 L600.1 440.8 L601.3 440.8 L602.5 440.8 L603.7 440.8 L604.9 440.8 L606.1 440.8 L607.3 440.8 L608.4 440.8 L609.6 440.8 L610.8 440.8 L612 440.8 L613.2 440.8 L614.4 440.8 L615.6 440.8 L616.8 440.8 L618 440.8 L619.2 440.9 L620.4 440.9 L621.5 440.9 L622.7 440.9 L623.9 440.9 L625.1 440.9 L626.3 440.9 L627.5 440.9" fill="none" stroke="#1c1c1c" stroke-width="1.25" stroke-linejoin="round"/>
<line x1="522.3" y1="393" x2="522.3" y2="414" stroke="#1b69b2" stroke-width="1.6"/>
<line x1="525.5" y1="404.4" x2="525.5" y2="418.7" stroke="#1b69b2" stroke-width="1.6"/>
<line x1="535.4" y1="372.2" x2="535.4" y2="384.5" stroke="#1b69b2" stroke-width="1.6"/>
<line x1="548.3" y1="406.3" x2="548.3" y2="426.3" stroke="#1b69b2" stroke-width="1.6"/>
<circle cx="376.2" cy="439" r="2.65" fill="#449de0" stroke="#1b69b2" stroke-width="1"/>
<circle cx="382.8" cy="440.9" r="2.65" fill="#449de0" stroke="#1b69b2" stroke-width="1"/>
<circle cx="389.3" cy="439.9" r="2.65" fill="#449de0" stroke="#1b69b2" stroke-width="1"/>
<circle cx="395.9" cy="440.9" r="2.65" fill="#449de0" stroke="#1b69b2" stroke-width="1"/>
<circle cx="402.2" cy="440.9" r="2.65" fill="#449de0" stroke="#1b69b2" stroke-width="1"/>
<circle cx="405.6" cy="438.2" r="2.65" fill="#449de0" stroke="#1b69b2" stroke-width="1"/>
<circle cx="408.8" cy="438.6" r="2.65" fill="#449de0" stroke="#1b69b2" stroke-width="1"/>
<circle cx="412.2" cy="440.5" r="2.65" fill="#449de0" stroke="#1b69b2" stroke-width="1"/>
<circle cx="415.4" cy="441.8" r="2.65" fill="#449de0" stroke="#1b69b2" stroke-width="1"/>
<circle cx="418.7" cy="441.8" r="2.65" fill="#449de0" stroke="#1b69b2" stroke-width="1"/>
<circle cx="422.1" cy="440.1" r="2.65" fill="#449de0" stroke="#1b69b2" stroke-width="1"/>
<circle cx="425.3" cy="441.8" r="2.65" fill="#449de0" stroke="#1b69b2" stroke-width="1"/>
<circle cx="428.4" cy="441.1" r="2.65" fill="#449de0" stroke="#1b69b2" stroke-width="1"/>
<circle cx="431.6" cy="441.8" r="2.65" fill="#449de0" stroke="#1b69b2" stroke-width="1"/>
<circle cx="434.8" cy="440.5" r="2.65" fill="#449de0" stroke="#1b69b2" stroke-width="1"/>
<circle cx="441.4" cy="440.9" r="2.65" fill="#449de0" stroke="#1b69b2" stroke-width="1"/>
<circle cx="448.1" cy="440.5" r="2.65" fill="#449de0" stroke="#1b69b2" stroke-width="1"/>
<circle cx="454.4" cy="441.5" r="2.65" fill="#449de0" stroke="#1b69b2" stroke-width="1"/>
<circle cx="460.6" cy="440.9" r="2.65" fill="#449de0" stroke="#1b69b2" stroke-width="1"/>
<circle cx="467.1" cy="440.5" r="2.65" fill="#449de0" stroke="#1b69b2" stroke-width="1"/>
<circle cx="473.7" cy="441.8" r="2.65" fill="#449de0" stroke="#1b69b2" stroke-width="1"/>
<circle cx="480.4" cy="440.9" r="2.65" fill="#449de0" stroke="#1b69b2" stroke-width="1"/>
<circle cx="483.4" cy="439.6" r="2.65" fill="#449de0" stroke="#1b69b2" stroke-width="1"/>
<circle cx="486.6" cy="438.6" r="2.65" fill="#449de0" stroke="#1b69b2" stroke-width="1"/>
<circle cx="490" cy="437.7" r="2.65" fill="#449de0" stroke="#1b69b2" stroke-width="1"/>
<circle cx="493.3" cy="439.6" r="2.65" fill="#449de0" stroke="#1b69b2" stroke-width="1"/>
<circle cx="496.5" cy="439.6" r="2.65" fill="#449de0" stroke="#1b69b2" stroke-width="1"/>
<circle cx="499.9" cy="441.5" r="2.65" fill="#449de0" stroke="#1b69b2" stroke-width="1"/>
<circle cx="503.1" cy="442.4" r="2.65" fill="#449de0" stroke="#1b69b2" stroke-width="1"/>
<circle cx="506.2" cy="442.8" r="2.65" fill="#449de0" stroke="#1b69b2" stroke-width="1"/>
<circle cx="509.4" cy="440.9" r="2.65" fill="#449de0" stroke="#1b69b2" stroke-width="1"/>
<circle cx="512.8" cy="440.9" r="2.65" fill="#449de0" stroke="#1b69b2" stroke-width="1"/>
<circle cx="516" cy="433.3" r="2.65" fill="#449de0" stroke="#1b69b2" stroke-width="1"/>
<circle cx="519.3" cy="429.1" r="2.65" fill="#449de0" stroke="#1b69b2" stroke-width="1"/>
<circle cx="522.3" cy="404.4" r="2.65" fill="#449de0" stroke="#1b69b2" stroke-width="1"/>
<circle cx="525.5" cy="410.5" r="2.65" fill="#449de0" stroke="#1b69b2" stroke-width="1"/>
<circle cx="528.9" cy="391.5" r="2.65" fill="#449de0" stroke="#1b69b2" stroke-width="1"/>
<circle cx="532.2" cy="366.9" r="2.65" fill="#449de0" stroke="#1b69b2" stroke-width="1"/>
<circle cx="535.4" cy="378.3" r="2.65" fill="#449de0" stroke="#1b69b2" stroke-width="1"/>
<circle cx="538.8" cy="378.8" r="2.65" fill="#449de0" stroke="#1b69b2" stroke-width="1"/>
<circle cx="542" cy="388.3" r="2.65" fill="#449de0" stroke="#1b69b2" stroke-width="1"/>
<circle cx="545.4" cy="393.1" r="2.65" fill="#449de0" stroke="#1b69b2" stroke-width="1"/>
<circle cx="548.3" cy="415.5" r="2.65" fill="#449de0" stroke="#1b69b2" stroke-width="1"/>
<circle cx="551.7" cy="411.1" r="2.65" fill="#449de0" stroke="#1b69b2" stroke-width="1"/>
<circle cx="554.9" cy="420.6" r="2.65" fill="#449de0" stroke="#1b69b2" stroke-width="1"/>
<circle cx="558.4" cy="423.4" r="2.65" fill="#449de0" stroke="#1b69b2" stroke-width="1"/>
<circle cx="561.6" cy="433.3" r="2.65" fill="#449de0" stroke="#1b69b2" stroke-width="1"/>
<circle cx="564.8" cy="437.1" r="2.65" fill="#449de0" stroke="#1b69b2" stroke-width="1"/>
<circle cx="571.1" cy="440.5" r="2.65" fill="#449de0" stroke="#1b69b2" stroke-width="1"/>
<circle cx="577.7" cy="440.5" r="2.65" fill="#449de0" stroke="#1b69b2" stroke-width="1"/>
<circle cx="584" cy="439.6" r="2.65" fill="#449de0" stroke="#1b69b2" stroke-width="1"/>
<circle cx="590.6" cy="439" r="2.65" fill="#449de0" stroke="#1b69b2" stroke-width="1"/>
<circle cx="597.1" cy="439.6" r="2.65" fill="#449de0" stroke="#1b69b2" stroke-width="1"/>
<circle cx="603.7" cy="442.8" r="2.65" fill="#449de0" stroke="#1b69b2" stroke-width="1"/>
<circle cx="610.4" cy="442.4" r="2.65" fill="#449de0" stroke="#1b69b2" stroke-width="1"/>
<circle cx="617" cy="443.4" r="2.65" fill="#449de0" stroke="#1b69b2" stroke-width="1"/>
<circle cx="623.3" cy="442" r="2.65" fill="#449de0" stroke="#1b69b2" stroke-width="1"/>
</g>
<g clip-path="url(#cl5)">
<path d="M54 520.1 L55.3 517.4 L56.5 514.6 L57.8 513.4 L58.9 513.7 L60 514.4 L61.1 515.4 L62.2 516.6 L63.3 517.9 L64.4 519.1 L65.5 520.4 L66.7 521.9 L67.8 523.5 L69 525.1 L70.1 526.7 L71.3 528.7 L72.5 530.9 L73.7 532.7 L74.9 533.4 L76 532.7 L77.2 530.9 L78.3 528.4 L79.5 525.6 L80.6 522.9 L81.7 520.4 L82.9 517.7 L84 514.7 L85.2 511.4 L86.3 507.7 L87.5 502.8 L88.7 496.9 L89.8 490.7 L91 485 L92.3 478.6 L93.5 472.5 L94.8 469.8 L96.1 471.2 L97.3 474.7 L98.6 479.3 L100 487.6 L101.4 498.2 L102.8 509.6 L104.3 519.1 L105.6 524.5 L106.8 528.8 L108.1 530.5 L109.2 529.5 L110.4 527.1 L111.5 524.1 L112.7 521.1 L113.8 519.1 L114.9 517.8 L116.1 516.5 L117.2 515.4 L118.4 514.7 L119.5 514.4 L120.8 514.8 L122.1 515.8 L123.5 517.2 L124.8 518.7 L126.1 520.1 L127.2 521.3 L128.3 522.7 L129.4 524.2 L130.6 525.4 L131.7 526.4 L132.8 526.7 L133.9 526 L135.1 524.1 L136.2 521.7 L137.4 519.2 L138.5 517.2 L139.6 515.5 L140.7 513.8 L141.9 512.2 L143 511 L144.1 510.6 L145.2 511.1 L146.4 512.4 L147.5 514.3 L148.7 516.3 L149.8 518.2 L150.9 520.3 L152 522.9 L153.2 525.6 L154.3 528.1 L155.4 529.8 L156.5 530.5 L157.7 529.6 L158.8 527.4 L160 524.4 L161.2 521 L162.4 516.5 L163.6 510.4 L164.8 504 L166 498.2 L167.3 492.6 L168.6 487 L170 481.8 L171.3 477.2 L172.6 473.6 L173.7 471.2 L174.9 469.1 L176 467.3 L177.2 465.7 L178.3 464.1 L179.4 462.4 L180.6 460.6 L181.7 459 L182.9 457.8 L184 457.4 L185.3 457.7 L186.5 458.5 L187.8 459.8 L189.1 461.3 L190.3 463.1 L191.6 465 L192.7 467.2 L193.9 470.2 L195 473.7 L196.2 477.5 L197.3 481.2 L198.4 485 L199.6 489 L200.7 493.3 L201.9 497.6 L203 502 L204.2 506.9 L205.3 512.1 L206.5 517.1 L207.7 521 L209 524.6 L210.2 527.7 L211.5 529 L212.7 528.8 L213.9 528.2 L215.1 527.5 L216.3 526.7 L217.6 525.8 L218.8 524.5 L220.1 523.2 L221.4 522 L222.6 520.9 L223.9 520.1 L225.2 519.5 L226.5 519 L227.9 518.6 L229.2 518.3 L230.5 518.2 L231.7 518.3 L232.9 518.6 L234.1 519 L235.4 519.4 L236.6 520 L237.8 520.5 L239 521 L240.3 521.5 L241.5 522.2 L242.8 522.9 L244.1 523.5 L245.3 524 L246.6 524.4 L247.7 524.6 L248.9 524.9 L250 525 L251.2 525.2 L252.3 525.2 L253.6 525.1 L254.8 524.8 L256.1 524.5 L257.4 524 L258.6 523.5 L259.9 522.9 L261.2 522.4 L262.4 522 L263.7 521.6 L264.8 521.3 L266 521 L267.1 520.8 L268.3 520.5 L269.4 520.2 L270.5 520 L271.7 519.8 L272.8 519.6 L274 519.5 L275.1 519.5 L276.4 519.6 L277.6 519.8 L278.9 520.1 L280.2 520.5 L281.4 520.9 L282.7 521.3 L284 521.8 L285.2 522.2 L286.5 522.5 L287.8 522.8 L289 523.1 L290.3 523.5 L291.6 523.8 L292.8 524.1 L294.1 524.4 L295.4 524.6 L296.6 524.7 L297.9 524.8 L299.1 524.8 L300.2 524.7 L301.4 524.6 L302.5 524.5 L303.7 524.3 L304.9 524.2 L306 524 L307.2 523.8 L308.4 523.6 L309.5 523.4 L310.7 523.2 L311.8 523.1 L313 522.9" fill="none" stroke="#1c1c1c" stroke-width="1.25" stroke-linejoin="round"/>
<line x1="107.1" y1="517" x2="107.1" y2="525" stroke="#ec6731" stroke-width="1.6"/>
<line x1="139.8" y1="516" x2="139.8" y2="526" stroke="#ec6731" stroke-width="1.6"/>
<line x1="159.3" y1="511.5" x2="159.3" y2="523" stroke="#ec6731" stroke-width="1.6"/>
<line x1="165.6" y1="485" x2="165.6" y2="500" stroke="#ec6731" stroke-width="1.6"/>
<line x1="168.8" y1="487" x2="168.8" y2="503" stroke="#ec6731" stroke-width="1.6"/>
<line x1="172" y1="471.7" x2="172" y2="488" stroke="#ec6731" stroke-width="1.6"/>
<circle cx="61.6" cy="516.3" r="2.8" fill="#ec6731" stroke="#d6511d" stroke-width="1"/>
<circle cx="67.7" cy="522.5" r="2.8" fill="#ec6731" stroke="#d6511d" stroke-width="1"/>
<circle cx="74.9" cy="527.7" r="2.8" fill="#ec6731" stroke="#d6511d" stroke-width="1"/>
<circle cx="81.1" cy="511.5" r="2.8" fill="#ec6731" stroke="#d6511d" stroke-width="1"/>
<circle cx="87.6" cy="492.5" r="2.8" fill="#ec6731" stroke="#d6511d" stroke-width="1"/>
<circle cx="91" cy="467.9" r="2.8" fill="#ec6731" stroke="#d6511d" stroke-width="1"/>
<circle cx="94.4" cy="467.9" r="2.8" fill="#ec6731" stroke="#d6511d" stroke-width="1"/>
<circle cx="97.7" cy="475.5" r="2.8" fill="#ec6731" stroke="#d6511d" stroke-width="1"/>
<circle cx="100.5" cy="498.6" r="2.8" fill="#ec6731" stroke="#d6511d" stroke-width="1"/>
<circle cx="103.9" cy="505.8" r="2.8" fill="#ec6731" stroke="#d6511d" stroke-width="1"/>
<circle cx="107.1" cy="521" r="2.8" fill="#ec6731" stroke="#d6511d" stroke-width="1"/>
<circle cx="110.4" cy="530.5" r="2.8" fill="#ec6731" stroke="#d6511d" stroke-width="1"/>
<circle cx="113.4" cy="523.9" r="2.8" fill="#ec6731" stroke="#d6511d" stroke-width="1"/>
<circle cx="116.6" cy="519.1" r="2.8" fill="#ec6731" stroke="#d6511d" stroke-width="1"/>
<circle cx="120" cy="514.9" r="2.8" fill="#ec6731" stroke="#d6511d" stroke-width="1"/>
<circle cx="126.5" cy="521.6" r="2.8" fill="#ec6731" stroke="#d6511d" stroke-width="1"/>
<circle cx="133.3" cy="528.2" r="2.8" fill="#ec6731" stroke="#d6511d" stroke-width="1"/>
<circle cx="139.8" cy="521" r="2.8" fill="#ec6731" stroke="#d6511d" stroke-width="1"/>
<circle cx="146" cy="513.4" r="2.8" fill="#ec6731" stroke="#d6511d" stroke-width="1"/>
<circle cx="152.3" cy="523.3" r="2.8" fill="#ec6731" stroke="#d6511d" stroke-width="1"/>
<circle cx="159.3" cy="518.6" r="2.8" fill="#ec6731" stroke="#d6511d" stroke-width="1"/>
<circle cx="165.6" cy="492.9" r="2.8" fill="#ec6731" stroke="#d6511d" stroke-width="1"/>
<circle cx="168.8" cy="494.4" r="2.8" fill="#ec6731" stroke="#d6511d" stroke-width="1"/>
<circle cx="172" cy="479.3" r="2.8" fill="#ec6731" stroke="#d6511d" stroke-width="1"/>
<circle cx="175.5" cy="465" r="2.8" fill="#ec6731" stroke="#d6511d" stroke-width="1"/>
<circle cx="178.7" cy="465" r="2.8" fill="#ec6731" stroke="#d6511d" stroke-width="1"/>
<circle cx="181.5" cy="455.5" r="2.8" fill="#ec6731" stroke="#d6511d" stroke-width="1"/>
<circle cx="185" cy="464.1" r="2.8" fill="#ec6731" stroke="#d6511d" stroke-width="1"/>
<circle cx="188.7" cy="462.2" r="2.8" fill="#ec6731" stroke="#d6511d" stroke-width="1"/>
<circle cx="192" cy="466.5" r="2.8" fill="#ec6731" stroke="#d6511d" stroke-width="1"/>
<circle cx="195" cy="472.2" r="2.8" fill="#ec6731" stroke="#d6511d" stroke-width="1"/>
<circle cx="198.2" cy="487.8" r="2.8" fill="#ec6731" stroke="#d6511d" stroke-width="1"/>
<circle cx="201.7" cy="494.4" r="2.8" fill="#ec6731" stroke="#d6511d" stroke-width="1"/>
<circle cx="204.9" cy="503.9" r="2.8" fill="#ec6731" stroke="#d6511d" stroke-width="1"/>
<circle cx="208.1" cy="519.1" r="2.8" fill="#ec6731" stroke="#d6511d" stroke-width="1"/>
<circle cx="214" cy="527.7" r="2.8" fill="#ec6731" stroke="#d6511d" stroke-width="1"/>
<circle cx="217.6" cy="528.2" r="2.8" fill="#ec6731" stroke="#d6511d" stroke-width="1"/>
<circle cx="221" cy="524.8" r="2.8" fill="#ec6731" stroke="#d6511d" stroke-width="1"/>
<circle cx="223.9" cy="520.1" r="2.8" fill="#ec6731" stroke="#d6511d" stroke-width="1"/>
<circle cx="227.3" cy="517.2" r="2.8" fill="#ec6731" stroke="#d6511d" stroke-width="1"/>
<circle cx="230.5" cy="518.2" r="2.8" fill="#ec6731" stroke="#d6511d" stroke-width="1"/>
<circle cx="233.9" cy="515.7" r="2.8" fill="#ec6731" stroke="#d6511d" stroke-width="1"/>
<circle cx="237.1" cy="520.1" r="2.8" fill="#ec6731" stroke="#d6511d" stroke-width="1"/>
<circle cx="240.6" cy="518.2" r="2.8" fill="#ec6731" stroke="#d6511d" stroke-width="1"/>
<circle cx="243.8" cy="519.5" r="2.8" fill="#ec6731" stroke="#d6511d" stroke-width="1"/>
<circle cx="247" cy="528.2" r="2.8" fill="#ec6731" stroke="#d6511d" stroke-width="1"/>
<circle cx="250" cy="524.8" r="2.8" fill="#ec6731" stroke="#d6511d" stroke-width="1"/>
<circle cx="256.7" cy="524.8" r="2.8" fill="#ec6731" stroke="#d6511d" stroke-width="1"/>
<circle cx="263.3" cy="522.3" r="2.8" fill="#ec6731" stroke="#d6511d" stroke-width="1"/>
<circle cx="269.8" cy="520.6" r="2.8" fill="#ec6731" stroke="#d6511d" stroke-width="1"/>
<circle cx="276.4" cy="518.7" r="2.8" fill="#ec6731" stroke="#d6511d" stroke-width="1"/>
<circle cx="282.7" cy="512.1" r="2.8" fill="#ec6731" stroke="#d6511d" stroke-width="1"/>
<circle cx="289.3" cy="518.7" r="2.8" fill="#ec6731" stroke="#d6511d" stroke-width="1"/>
<circle cx="296" cy="525.8" r="2.8" fill="#ec6731" stroke="#d6511d" stroke-width="1"/>
<circle cx="302.2" cy="526.3" r="2.8" fill="#ec6731" stroke="#d6511d" stroke-width="1"/>
<circle cx="308.7" cy="522.5" r="2.8" fill="#ec6731" stroke="#d6511d" stroke-width="1"/>
</g>
<g clip-path="url(#cr5)">
<path d="M368.5 530.5 L369.7 530.5 L370.9 530.5 L372.1 530.5 L373.3 530.5 L374.5 530.5 L375.7 530.5 L376.9 530.5 L378.1 530.5 L379.3 530.5 L380.5 530.5 L381.7 530.5 L382.9 530.5 L384.1 530.5 L385.3 530.5 L386.5 530.5 L387.7 530.5 L388.9 530.5 L390.1 530.5 L391.3 530.5 L392.5 530.5 L393.7 530.5 L394.9 530.5 L396.1 530.5 L397.3 530.5 L398.5 530.5 L399.7 530.5 L400.9 530.5 L402.1 530.5 L403.3 530.5 L404.5 530.5 L405.7 530.5 L406.9 530.5 L408.1 530.5 L409.3 530.5 L410.5 530.5 L411.7 530.5 L412.9 530.5 L414.1 530.5 L415.3 530.5 L416.5 530.5 L417.7 530.5 L418.9 530.5 L420.1 530.5 L421.3 530.5 L422.5 530.5 L423.7 530.5 L424.9 530.5 L426.1 530.5 L427.3 530.5 L428.5 530.5 L429.7 530.5 L430.9 530.5 L432.1 530.5 L433.2 530.5 L434.4 530.5 L435.6 530.5 L436.8 530.5 L438 530.5 L439.2 530.5 L440.4 530.5 L441.6 530.5 L442.8 530.5 L444 530.5 L445.2 530.5 L446.4 530.5 L447.6 530.5 L448.8 530.5 L450 530.5 L451.2 530.5 L452.4 530.5 L453.6 530.5 L454.8 530.5 L456 530.5 L457.2 530.5 L458.4 530.5 L459.6 530.5 L460.8 530.5 L462 530.5 L463.2 530.5 L464.4 530.5 L465.6 530.5 L466.8 530.5 L468 530.5 L469.2 530.5 L470.4 530.5 L471.6 530.5 L472.8 530.5 L474 530.5 L475.2 530.5 L476.4 530.5 L477.6 530.5 L478.8 530.5 L480 530.5 L481.2 530.5 L482.4 530.5 L483.6 530.5 L484.8 530.5 L486 530.5 L487.2 530.5 L488.4 530.5 L489.6 530.5 L490.8 530.5 L492 530.5 L493.2 530.5 L494.4 530.5 L495.6 530.5 L496.8 530.5 L498 530.5 L499.3 530.4 L500.5 530.3 L501.8 530 L503.1 529.6 L504.3 529.2 L505.6 528.6 L506.8 527.1 L508 524 L509.1 519.9 L510.3 515.3 L511.8 507.4 L513.2 498.2 L514.5 490.8 L515.7 483.5 L517 477.4 L518.3 472.3 L519.5 467.9 L520.8 465 L522.1 463.2 L523.3 461.8 L524.6 461.2 L525.9 461.6 L527.1 462.7 L528.4 464.1 L529.6 465.9 L530.8 468.5 L531.9 471.4 L533.1 474.5 L534.3 477.9 L535.5 481.6 L536.7 485.4 L537.9 488.8 L539 491.7 L540.2 494.5 L541.3 497.2 L542.5 499.7 L543.6 502 L544.7 504.1 L545.8 506.1 L547 507.9 L548.1 509.7 L549.2 511.5 L550.4 513.4 L551.5 515.4 L552.7 517.2 L553.8 518.8 L555 520.1 L556.2 521.1 L557.5 522.1 L558.8 522.8 L560 523.6 L561.2 524.2 L562.5 524.8 L563.8 525.4 L565 526 L566.3 526.5 L567.6 527 L568.8 527.4 L570.1 527.7 L571.3 528 L572.5 528.2 L573.7 528.4 L574.9 528.6 L576.1 528.8 L577.4 529 L578.6 529.2 L579.8 529.3 L581 529.4 L582.2 529.5 L583.4 529.6 L584.6 529.6 L585.8 529.7 L587 529.7 L588.2 529.8 L589.4 529.8 L590.6 529.9 L591.7 529.9 L592.9 529.9 L594.1 529.9 L595.3 530 L596.5 530 L597.7 530 L598.9 530.1 L600.1 530.1 L601.3 530.1 L602.5 530.1 L603.7 530.1 L604.9 530.2 L606 530.2 L607.2 530.2 L608.4 530.2 L609.6 530.2 L610.8 530.2 L612 530.3 L613.2 530.3 L614.4 530.3 L615.6 530.3 L616.8 530.3 L618 530.3 L619.2 530.4 L620.3 530.4 L621.5 530.4 L622.7 530.4 L623.9 530.4 L625.1 530.5 L626.3 530.5 L627.5 530.5" fill="none" stroke="#1c1c1c" stroke-width="1.25" stroke-linejoin="round"/>
<line x1="516.4" y1="469.8" x2="516.4" y2="484" stroke="#1b69b2" stroke-width="1.6"/>
<line x1="520.2" y1="469.8" x2="520.2" y2="487.8" stroke="#1b69b2" stroke-width="1.6"/>
<line x1="523.1" y1="447" x2="523.1" y2="466" stroke="#1b69b2" stroke-width="1.6"/>
<line x1="529.7" y1="465" x2="529.7" y2="483" stroke="#1b69b2" stroke-width="1.6"/>
<line x1="536" y1="477.4" x2="536" y2="504" stroke="#1b69b2" stroke-width="1.6"/>
<line x1="539.4" y1="494.4" x2="539.4" y2="509.6" stroke="#1b69b2" stroke-width="1.6"/>
<line x1="542.6" y1="484" x2="542.6" y2="504" stroke="#1b69b2" stroke-width="1.6"/>
<circle cx="376.5" cy="530.5" r="2.65" fill="#449de0" stroke="#1b69b2" stroke-width="1"/>
<circle cx="383.2" cy="529.9" r="2.65" fill="#449de0" stroke="#1b69b2" stroke-width="1"/>
<circle cx="389.4" cy="533" r="2.65" fill="#449de0" stroke="#1b69b2" stroke-width="1"/>
<circle cx="396.1" cy="530.5" r="2.65" fill="#449de0" stroke="#1b69b2" stroke-width="1"/>
<circle cx="402.7" cy="530.9" r="2.65" fill="#449de0" stroke="#1b69b2" stroke-width="1"/>
<circle cx="406" cy="523.9" r="2.65" fill="#449de0" stroke="#1b69b2" stroke-width="1"/>
<circle cx="409.4" cy="530.9" r="2.65" fill="#449de0" stroke="#1b69b2" stroke-width="1"/>
<circle cx="412.6" cy="530.9" r="2.65" fill="#449de0" stroke="#1b69b2" stroke-width="1"/>
<circle cx="415.4" cy="530.9" r="2.65" fill="#449de0" stroke="#1b69b2" stroke-width="1"/>
<circle cx="418.9" cy="531.5" r="2.65" fill="#449de0" stroke="#1b69b2" stroke-width="1"/>
<circle cx="422.1" cy="529.9" r="2.65" fill="#449de0" stroke="#1b69b2" stroke-width="1"/>
<circle cx="425.3" cy="529.6" r="2.65" fill="#449de0" stroke="#1b69b2" stroke-width="1"/>
<circle cx="428.4" cy="530.9" r="2.65" fill="#449de0" stroke="#1b69b2" stroke-width="1"/>
<circle cx="431.6" cy="531.5" r="2.65" fill="#449de0" stroke="#1b69b2" stroke-width="1"/>
<circle cx="434.8" cy="530.5" r="2.65" fill="#449de0" stroke="#1b69b2" stroke-width="1"/>
<circle cx="441.6" cy="529.9" r="2.65" fill="#449de0" stroke="#1b69b2" stroke-width="1"/>
<circle cx="448.3" cy="532" r="2.65" fill="#449de0" stroke="#1b69b2" stroke-width="1"/>
<circle cx="454.7" cy="530.1" r="2.65" fill="#449de0" stroke="#1b69b2" stroke-width="1"/>
<circle cx="461" cy="528.6" r="2.65" fill="#449de0" stroke="#1b69b2" stroke-width="1"/>
<circle cx="468" cy="530.5" r="2.65" fill="#449de0" stroke="#1b69b2" stroke-width="1"/>
<circle cx="474.3" cy="533.4" r="2.65" fill="#449de0" stroke="#1b69b2" stroke-width="1"/>
<circle cx="480.5" cy="529.6" r="2.65" fill="#449de0" stroke="#1b69b2" stroke-width="1"/>
<circle cx="483.8" cy="528.6" r="2.65" fill="#449de0" stroke="#1b69b2" stroke-width="1"/>
<circle cx="487.2" cy="525.8" r="2.65" fill="#449de0" stroke="#1b69b2" stroke-width="1"/>
<circle cx="490.4" cy="529" r="2.65" fill="#449de0" stroke="#1b69b2" stroke-width="1"/>
<circle cx="493.6" cy="531.1" r="2.65" fill="#449de0" stroke="#1b69b2" stroke-width="1"/>
<circle cx="496.5" cy="532.4" r="2.65" fill="#449de0" stroke="#1b69b2" stroke-width="1"/>
<circle cx="500.3" cy="531.5" r="2.65" fill="#449de0" stroke="#1b69b2" stroke-width="1"/>
<circle cx="503.7" cy="531.5" r="2.65" fill="#449de0" stroke="#1b69b2" stroke-width="1"/>
<circle cx="506.9" cy="525.8" r="2.65" fill="#449de0" stroke="#1b69b2" stroke-width="1"/>
<circle cx="510.3" cy="521.6" r="2.65" fill="#449de0" stroke="#1b69b2" stroke-width="1"/>
<circle cx="513.6" cy="493.1" r="2.65" fill="#449de0" stroke="#1b69b2" stroke-width="1"/>
<circle cx="516.4" cy="476.4" r="2.65" fill="#449de0" stroke="#1b69b2" stroke-width="1"/>
<circle cx="520.2" cy="475.5" r="2.65" fill="#449de0" stroke="#1b69b2" stroke-width="1"/>
<circle cx="523.1" cy="456.1" r="2.65" fill="#449de0" stroke="#1b69b2" stroke-width="1"/>
<circle cx="529.7" cy="474" r="2.65" fill="#449de0" stroke="#1b69b2" stroke-width="1"/>
<circle cx="532.7" cy="471.7" r="2.65" fill="#449de0" stroke="#1b69b2" stroke-width="1"/>
<circle cx="536" cy="490.7" r="2.65" fill="#449de0" stroke="#1b69b2" stroke-width="1"/>
<circle cx="539.4" cy="500.7" r="2.65" fill="#449de0" stroke="#1b69b2" stroke-width="1"/>
<circle cx="542.6" cy="493.1" r="2.65" fill="#449de0" stroke="#1b69b2" stroke-width="1"/>
<circle cx="545.8" cy="492.5" r="2.65" fill="#449de0" stroke="#1b69b2" stroke-width="1"/>
<circle cx="548.9" cy="504.9" r="2.65" fill="#449de0" stroke="#1b69b2" stroke-width="1"/>
<circle cx="552.5" cy="513.8" r="2.65" fill="#449de0" stroke="#1b69b2" stroke-width="1"/>
<circle cx="555.3" cy="522" r="2.65" fill="#449de0" stroke="#1b69b2" stroke-width="1"/>
<circle cx="558.4" cy="529" r="2.65" fill="#449de0" stroke="#1b69b2" stroke-width="1"/>
<circle cx="561.6" cy="530.5" r="2.65" fill="#449de0" stroke="#1b69b2" stroke-width="1"/>
<circle cx="565.4" cy="531.5" r="2.65" fill="#449de0" stroke="#1b69b2" stroke-width="1"/>
<circle cx="572" cy="528.2" r="2.65" fill="#449de0" stroke="#1b69b2" stroke-width="1"/>
<circle cx="578.3" cy="528.2" r="2.65" fill="#449de0" stroke="#1b69b2" stroke-width="1"/>
<circle cx="584.7" cy="525.8" r="2.65" fill="#449de0" stroke="#1b69b2" stroke-width="1"/>
<circle cx="591" cy="529.9" r="2.65" fill="#449de0" stroke="#1b69b2" stroke-width="1"/>
<circle cx="598" cy="532.4" r="2.65" fill="#449de0" stroke="#1b69b2" stroke-width="1"/>
<circle cx="604.7" cy="530.9" r="2.65" fill="#449de0" stroke="#1b69b2" stroke-width="1"/>
<circle cx="610.9" cy="532.4" r="2.65" fill="#449de0" stroke="#1b69b2" stroke-width="1"/>
<circle cx="617.2" cy="530.5" r="2.65" fill="#449de0" stroke="#1b69b2" stroke-width="1"/>
<circle cx="623.6" cy="529" r="2.65" fill="#449de0" stroke="#1b69b2" stroke-width="1"/>
</g>
<g clip-path="url(#cl6)">
<path d="M54 608.1 L55.2 606.1 L56.4 604 L57.5 602.2 L58.7 601.5 L59.8 601.7 L60.9 602.2 L62.1 603 L63.2 603.9 L64.3 605 L65.4 606.2 L66.5 607.8 L67.7 610.1 L68.8 612.6 L70 615.2 L71.1 617.6 L72.4 620.4 L73.6 623.1 L74.9 624.3 L76 623.5 L77.2 621.4 L78.3 618.4 L79.5 615.1 L80.6 611.9 L81.7 608.7 L82.9 605.2 L84 601.4 L85.2 597.3 L86.3 592.9 L87.5 587.5 L88.7 581.3 L89.8 575.2 L91 570.2 L92.3 565.5 L93.5 561.4 L94.8 559.7 L96 560.4 L97.2 562.2 L98.3 564.9 L99.5 568.3 L101 577.8 L102.4 591 L103.8 604.9 L105.2 615.7 L106.2 619 L107.1 620.5 L108.2 619.8 L109.4 618.1 L110.5 615.9 L111.7 613.7 L112.8 611.9 L113.9 610.5 L115 609 L116.2 607.6 L117.3 606.4 L118.4 605.6 L119.5 605.3 L120.8 605.6 L122.1 606.4 L123.5 607.5 L124.8 608.7 L126.1 610 L127.2 611.5 L128.4 613.4 L129.5 615.4 L130.7 617 L131.8 617.6 L132.9 616.9 L134 615.2 L135.2 612.9 L136.3 610.3 L137.4 608 L138.5 606.2 L139.7 604.7 L141 603.1 L142.2 601.8 L143.5 600.9 L144.7 600.5 L145.9 601.2 L147.1 602.9 L148.4 605.2 L149.6 607.7 L150.8 610 L151.9 612.3 L153.1 615.1 L154.2 617.7 L155.4 619.7 L156.5 620.5 L157.6 619.7 L158.8 617.7 L159.9 614.8 L161.1 611.5 L162.2 608.1 L163.3 604.1 L164.5 599.2 L165.6 593.7 L166.8 588.3 L167.9 583.4 L169.2 578.4 L170.4 573.4 L171.7 568.5 L173 564 L174.2 560.1 L175.5 556.9 L176.7 554.2 L177.9 551.6 L179.1 549.1 L180.4 546.9 L181.6 545.2 L182.8 544 L184 543.6 L185.1 543.9 L186.3 544.8 L187.4 546.1 L188.6 547.7 L189.7 549.3 L190.8 551.2 L192 553.6 L193.1 556.3 L194.3 559.4 L195.4 562.6 L196.5 566.1 L197.7 570.1 L198.8 574.3 L200 578.8 L201.1 583.4 L202.3 588.5 L203.4 593.9 L204.6 599.3 L205.8 604.3 L207.1 609.5 L208.3 614.3 L209.6 617.6 L210.9 619.6 L212.1 621.2 L213.4 621.8 L214.6 621.1 L215.8 619.3 L217 617.3 L218.2 615.7 L219.5 614.5 L220.7 613.5 L222 612.5 L223.3 611.6 L224.5 610.8 L225.8 610 L227.1 609.1 L228.4 608.2 L229.8 607.4 L231.1 606.8 L232.4 606.6 L233.6 606.8 L234.8 607.2 L236 607.9 L237.3 608.7 L238.5 609.5 L239.7 610.3 L240.9 611 L242.2 611.7 L243.4 612.5 L244.7 613.2 L246 613.9 L247.2 614.5 L248.5 614.8 L249.6 615 L250.8 615.1 L251.9 615.3 L253.1 615.4 L254.2 615.4 L255.3 615.3 L256.5 615 L257.6 614.6 L258.8 614.1 L259.9 613.6 L261 613 L262.2 612.4 L263.3 611.8 L264.5 611.4 L265.6 611 L266.8 610.7 L268 610.4 L269.2 610 L270.4 609.7 L271.5 609.5 L272.7 609.3 L273.9 609.1 L275.1 609.1 L276.4 609.2 L277.6 609.4 L278.9 609.6 L280.2 610 L281.4 610.4 L282.7 610.8 L284 611.3 L285.2 611.7 L286.5 612 L287.8 612.3 L289 612.7 L290.3 613.1 L291.6 613.6 L292.8 613.9 L294.1 614.3 L295.4 614.6 L296.6 614.7 L297.9 614.8 L299.1 614.8 L300.2 614.7 L301.4 614.6 L302.5 614.5 L303.7 614.3 L304.9 614.2 L306 614 L307.2 613.8 L308.4 613.6 L309.5 613.4 L310.7 613.2 L311.8 613.1 L313 612.9" fill="none" stroke="#1c1c1c" stroke-width="1.25" stroke-linejoin="round"/>
<line x1="86.3" y1="570" x2="86.3" y2="586" stroke="#ec6731" stroke-width="1.6"/>
<line x1="99.2" y1="560.7" x2="99.2" y2="573" stroke="#ec6731" stroke-width="1.6"/>
<line x1="105.8" y1="591" x2="105.8" y2="604" stroke="#ec6731" stroke-width="1.6"/>
<line x1="164.1" y1="591" x2="164.1" y2="604" stroke="#ec6731" stroke-width="1.6"/>
<line x1="167.3" y1="573" x2="167.3" y2="591" stroke="#ec6731" stroke-width="1.6"/>
<line x1="170.3" y1="542.6" x2="170.3" y2="562.6" stroke="#ec6731" stroke-width="1.6"/>
<line x1="193.1" y1="563" x2="193.1" y2="575" stroke="#ec6731" stroke-width="1.6"/>
<line x1="196.3" y1="556" x2="196.3" y2="566" stroke="#ec6731" stroke-width="1.6"/>
<line x1="203" y1="587" x2="203" y2="596" stroke="#ec6731" stroke-width="1.6"/>
<line x1="267.9" y1="601.5" x2="267.9" y2="609" stroke="#ec6731" stroke-width="1.6"/>
<circle cx="60.3" cy="602.8" r="2.8" fill="#ec6731" stroke="#d6511d" stroke-width="1"/>
<circle cx="66.9" cy="607.7" r="2.8" fill="#ec6731" stroke="#d6511d" stroke-width="1"/>
<circle cx="73.4" cy="614.4" r="2.8" fill="#ec6731" stroke="#d6511d" stroke-width="1"/>
<circle cx="80" cy="604.3" r="2.8" fill="#ec6731" stroke="#d6511d" stroke-width="1"/>
<circle cx="86.3" cy="578.1" r="2.8" fill="#ec6731" stroke="#d6511d" stroke-width="1"/>
<circle cx="89.5" cy="566.9" r="2.8" fill="#ec6731" stroke="#d6511d" stroke-width="1"/>
<circle cx="92.5" cy="554.4" r="2.8" fill="#ec6731" stroke="#d6511d" stroke-width="1"/>
<circle cx="96.1" cy="558.8" r="2.8" fill="#ec6731" stroke="#d6511d" stroke-width="1"/>
<circle cx="99.2" cy="566.7" r="2.8" fill="#ec6731" stroke="#d6511d" stroke-width="1"/>
<circle cx="102.8" cy="587.2" r="2.8" fill="#ec6731" stroke="#d6511d" stroke-width="1"/>
<circle cx="105.8" cy="597.3" r="2.8" fill="#ec6731" stroke="#d6511d" stroke-width="1"/>
<circle cx="109" cy="618.6" r="2.8" fill="#ec6731" stroke="#d6511d" stroke-width="1"/>
<circle cx="112.3" cy="613.2" r="2.8" fill="#ec6731" stroke="#d6511d" stroke-width="1"/>
<circle cx="115.3" cy="610.6" r="2.8" fill="#ec6731" stroke="#d6511d" stroke-width="1"/>
<circle cx="118.5" cy="606.2" r="2.8" fill="#ec6731" stroke="#d6511d" stroke-width="1"/>
<circle cx="125.2" cy="606.2" r="2.8" fill="#ec6731" stroke="#d6511d" stroke-width="1"/>
<circle cx="131.4" cy="618.6" r="2.8" fill="#ec6731" stroke="#d6511d" stroke-width="1"/>
<circle cx="138.1" cy="612.9" r="2.8" fill="#ec6731" stroke="#d6511d" stroke-width="1"/>
<circle cx="144.7" cy="606.6" r="2.8" fill="#ec6731" stroke="#d6511d" stroke-width="1"/>
<circle cx="151.2" cy="606.8" r="2.8" fill="#ec6731" stroke="#d6511d" stroke-width="1"/>
<circle cx="157.4" cy="614.8" r="2.8" fill="#ec6731" stroke="#d6511d" stroke-width="1"/>
<circle cx="164.1" cy="598.3" r="2.8" fill="#ec6731" stroke="#d6511d" stroke-width="1"/>
<circle cx="167.3" cy="582.5" r="2.8" fill="#ec6731" stroke="#d6511d" stroke-width="1"/>
<circle cx="170.3" cy="554" r="2.8" fill="#ec6731" stroke="#d6511d" stroke-width="1"/>
<circle cx="173.6" cy="560.7" r="2.8" fill="#ec6731" stroke="#d6511d" stroke-width="1"/>
<circle cx="177" cy="564.5" r="2.8" fill="#ec6731" stroke="#d6511d" stroke-width="1"/>
<circle cx="180.2" cy="553.1" r="2.8" fill="#ec6731" stroke="#d6511d" stroke-width="1"/>
<circle cx="183.1" cy="547.4" r="2.8" fill="#ec6731" stroke="#d6511d" stroke-width="1"/>
<circle cx="186.5" cy="548.3" r="2.8" fill="#ec6731" stroke="#d6511d" stroke-width="1"/>
<circle cx="190.1" cy="554.6" r="2.8" fill="#ec6731" stroke="#d6511d" stroke-width="1"/>
<circle cx="193.1" cy="569.2" r="2.8" fill="#ec6731" stroke="#d6511d" stroke-width="1"/>
<circle cx="196.3" cy="561.6" r="2.8" fill="#ec6731" stroke="#d6511d" stroke-width="1"/>
<circle cx="199.6" cy="574.5" r="2.8" fill="#ec6731" stroke="#d6511d" stroke-width="1"/>
<circle cx="203" cy="592.9" r="2.8" fill="#ec6731" stroke="#d6511d" stroke-width="1"/>
<circle cx="206.4" cy="603.4" r="2.8" fill="#ec6731" stroke="#d6511d" stroke-width="1"/>
<circle cx="209.6" cy="609.1" r="2.8" fill="#ec6731" stroke="#d6511d" stroke-width="1"/>
<circle cx="212.8" cy="614.8" r="2.8" fill="#ec6731" stroke="#d6511d" stroke-width="1"/>
<circle cx="215.9" cy="619.1" r="2.8" fill="#ec6731" stroke="#d6511d" stroke-width="1"/>
<circle cx="219.1" cy="612.9" r="2.8" fill="#ec6731" stroke="#d6511d" stroke-width="1"/>
<circle cx="222" cy="609.6" r="2.8" fill="#ec6731" stroke="#d6511d" stroke-width="1"/>
<circle cx="225.4" cy="608.5" r="2.8" fill="#ec6731" stroke="#d6511d" stroke-width="1"/>
<circle cx="228.6" cy="607.2" r="2.8" fill="#ec6731" stroke="#d6511d" stroke-width="1"/>
<circle cx="232" cy="602.4" r="2.8" fill="#ec6731" stroke="#d6511d" stroke-width="1"/>
<circle cx="235.2" cy="605.3" r="2.8" fill="#ec6731" stroke="#d6511d" stroke-width="1"/>
<circle cx="238.7" cy="607.2" r="2.8" fill="#ec6731" stroke="#d6511d" stroke-width="1"/>
<circle cx="241.9" cy="606.2" r="2.8" fill="#ec6731" stroke="#d6511d" stroke-width="1"/>
<circle cx="245.1" cy="611" r="2.8" fill="#ec6731" stroke="#d6511d" stroke-width="1"/>
<circle cx="248.5" cy="613.8" r="2.8" fill="#ec6731" stroke="#d6511d" stroke-width="1"/>
<circle cx="254.8" cy="616.1" r="2.8" fill="#ec6731" stroke="#d6511d" stroke-width="1"/>
<circle cx="261.2" cy="614.4" r="2.8" fill="#ec6731" stroke="#d6511d" stroke-width="1"/>
<circle cx="267.9" cy="605.8" r="2.8" fill="#ec6731" stroke="#d6511d" stroke-width="1"/>
<circle cx="274.1" cy="608.1" r="2.8" fill="#ec6731" stroke="#d6511d" stroke-width="1"/>
<circle cx="280.8" cy="606.8" r="2.8" fill="#ec6731" stroke="#d6511d" stroke-width="1"/>
<circle cx="287.1" cy="611" r="2.8" fill="#ec6731" stroke="#d6511d" stroke-width="1"/>
<circle cx="293.7" cy="612.9" r="2.8" fill="#ec6731" stroke="#d6511d" stroke-width="1"/>
<circle cx="300.1" cy="616.1" r="2.8" fill="#ec6731" stroke="#d6511d" stroke-width="1"/>
<circle cx="306.4" cy="613.8" r="2.8" fill="#ec6731" stroke="#d6511d" stroke-width="1"/>
</g>
<g clip-path="url(#cr6)">
<path d="M368.5 618 L369.7 618 L370.9 618 L372.1 618 L373.3 618 L374.5 618 L375.7 618 L376.9 618 L378.1 618 L379.3 618 L380.5 618 L381.7 618 L382.9 618 L384 618 L385.2 618 L386.4 618 L387.6 618 L388.8 617.9 L390 617.9 L391.2 617.9 L392.4 617.9 L393.6 617.9 L394.8 617.9 L396 617.9 L397.2 617.9 L398.4 617.9 L399.6 617.9 L400.8 617.9 L402 617.9 L403.2 617.9 L404.4 617.9 L405.6 617.9 L406.8 617.9 L408 617.9 L409.2 617.9 L410.4 617.9 L411.6 617.9 L412.7 617.9 L413.9 617.9 L415.1 617.9 L416.3 617.9 L417.5 617.9 L418.7 617.9 L419.9 617.9 L421.1 617.9 L422.3 617.9 L423.5 617.9 L424.7 617.9 L425.9 617.9 L427.1 617.9 L428.3 617.9 L429.5 617.9 L430.7 617.9 L431.9 617.9 L433.1 617.9 L434.3 617.9 L435.5 617.9 L436.7 617.9 L437.9 617.9 L439.1 617.9 L440.3 617.9 L441.5 617.9 L442.6 617.9 L443.8 617.9 L445 617.9 L446.2 617.8 L447.4 617.8 L448.6 617.8 L449.8 617.8 L451 617.8 L452.2 617.8 L453.4 617.8 L454.6 617.8 L455.8 617.8 L457 617.8 L458.2 617.8 L459.4 617.8 L460.6 617.8 L461.8 617.8 L463 617.8 L464.2 617.8 L465.4 617.8 L466.6 617.8 L467.8 617.7 L469 617.7 L470.2 617.7 L471.3 617.7 L472.5 617.7 L473.7 617.7 L474.9 617.7 L476.1 617.7 L477.3 617.7 L478.5 617.7 L479.7 617.7 L480.9 617.6 L482.1 617.6 L483.3 617.6 L484.5 617.6 L485.7 617.6 L486.9 616.6 L488 614.2 L489.2 611.1 L490.4 608.1 L491.7 604.9 L492.9 601.3 L494.2 597.7 L495.5 594.3 L496.7 590.9 L498 587.2 L499.3 582.8 L500.5 578 L501.8 574 L503 571.1 L504.1 568.5 L505.3 566.3 L506.5 564.5 L507.6 563 L508.8 561.6 L509.9 560.4 L511.1 559.6 L512.2 559.3 L513.3 559.5 L514.5 560 L515.6 560.8 L516.8 561.7 L517.9 562.6 L519 563.7 L520.1 565.1 L521.2 566.7 L522.4 568.4 L523.5 570.3 L524.6 572.1 L525.7 574 L526.8 576 L527.9 578.1 L529 580.3 L530.1 582.4 L531.2 584.4 L532.3 586.4 L533.4 588.3 L534.5 590.3 L535.7 592.2 L536.8 594 L537.9 595.8 L539 597.6 L540.2 599.5 L541.3 601.2 L542.5 602.9 L543.6 604.3 L544.9 605.7 L546.1 607 L547.4 608.1 L548.6 609.2 L549.9 610.2 L551.1 611 L552.3 611.7 L553.5 612.4 L554.7 613 L555.9 613.6 L557 614.1 L558.2 614.6 L559.4 615 L560.6 615.3 L561.8 615.6 L563 615.9 L564.2 616.2 L565.4 616.5 L566.6 616.7 L567.9 617 L569.1 617.2 L570.3 617.3 L571.5 617.5 L572.7 617.6 L573.9 617.6 L575.1 617.6 L576.3 617.6 L577.5 617.7 L578.7 617.7 L579.9 617.7 L581 617.7 L582.2 617.7 L583.4 617.7 L584.6 617.7 L585.8 617.8 L587 617.8 L588.2 617.8 L589.4 617.8 L590.6 617.8 L591.8 617.8 L593 617.8 L594.1 617.8 L595.3 617.8 L596.5 617.8 L597.7 617.9 L598.9 617.9 L600.1 617.9 L601.3 617.9 L602.5 617.9 L603.7 617.9 L604.9 617.9 L606.1 617.9 L607.3 617.9 L608.4 617.9 L609.6 617.9 L610.8 617.9 L612 617.9 L613.2 617.9 L614.4 617.9 L615.6 617.9 L616.8 617.9 L618 617.9 L619.2 617.9 L620.4 618 L621.5 618 L622.7 618 L623.9 618 L625.1 618 L626.3 618 L627.5 618" fill="none" stroke="#1c1c1c" stroke-width="1.25" stroke-linejoin="round"/>
<line x1="499" y1="558.8" x2="499" y2="583.4" stroke="#1b69b2" stroke-width="1.6"/>
<line x1="501.8" y1="566.4" x2="501.8" y2="585.3" stroke="#1b69b2" stroke-width="1.6"/>
<line x1="508.4" y1="557.8" x2="508.4" y2="574" stroke="#1b69b2" stroke-width="1.6"/>
<line x1="511.7" y1="562.6" x2="511.7" y2="584.4" stroke="#1b69b2" stroke-width="1.6"/>
<line x1="515.1" y1="559.7" x2="515.1" y2="571" stroke="#1b69b2" stroke-width="1.6"/>
<line x1="517.9" y1="536" x2="517.9" y2="560.7" stroke="#1b69b2" stroke-width="1.6"/>
<line x1="521.3" y1="553" x2="521.3" y2="566.4" stroke="#1b69b2" stroke-width="1.6"/>
<line x1="524.6" y1="568.3" x2="524.6" y2="582.5" stroke="#1b69b2" stroke-width="1.6"/>
<line x1="530.6" y1="581.5" x2="530.6" y2="600.5" stroke="#1b69b2" stroke-width="1.6"/>
<circle cx="375.6" cy="614.8" r="2.65" fill="#449de0" stroke="#1b69b2" stroke-width="1"/>
<circle cx="381.9" cy="614.4" r="2.65" fill="#449de0" stroke="#1b69b2" stroke-width="1"/>
<circle cx="388.5" cy="611.9" r="2.65" fill="#449de0" stroke="#1b69b2" stroke-width="1"/>
<circle cx="395.1" cy="614.4" r="2.65" fill="#449de0" stroke="#1b69b2" stroke-width="1"/>
<circle cx="401.2" cy="617.6" r="2.65" fill="#449de0" stroke="#1b69b2" stroke-width="1"/>
<circle cx="404.6" cy="618.6" r="2.65" fill="#449de0" stroke="#1b69b2" stroke-width="1"/>
<circle cx="407.9" cy="617.2" r="2.65" fill="#449de0" stroke="#1b69b2" stroke-width="1"/>
<circle cx="411.3" cy="616.1" r="2.65" fill="#449de0" stroke="#1b69b2" stroke-width="1"/>
<circle cx="414.5" cy="614.4" r="2.65" fill="#449de0" stroke="#1b69b2" stroke-width="1"/>
<circle cx="417.7" cy="614.2" r="2.65" fill="#449de0" stroke="#1b69b2" stroke-width="1"/>
<circle cx="421.1" cy="610" r="2.65" fill="#449de0" stroke="#1b69b2" stroke-width="1"/>
<circle cx="424" cy="617" r="2.65" fill="#449de0" stroke="#1b69b2" stroke-width="1"/>
<circle cx="427.2" cy="613.4" r="2.65" fill="#449de0" stroke="#1b69b2" stroke-width="1"/>
<circle cx="430.6" cy="618.2" r="2.65" fill="#449de0" stroke="#1b69b2" stroke-width="1"/>
<circle cx="434" cy="617.2" r="2.65" fill="#449de0" stroke="#1b69b2" stroke-width="1"/>
<circle cx="440.1" cy="611.9" r="2.65" fill="#449de0" stroke="#1b69b2" stroke-width="1"/>
<circle cx="446.8" cy="613.4" r="2.65" fill="#449de0" stroke="#1b69b2" stroke-width="1"/>
<circle cx="453.4" cy="616.1" r="2.65" fill="#449de0" stroke="#1b69b2" stroke-width="1"/>
<circle cx="459.7" cy="613.8" r="2.65" fill="#449de0" stroke="#1b69b2" stroke-width="1"/>
<circle cx="466.1" cy="613.8" r="2.65" fill="#449de0" stroke="#1b69b2" stroke-width="1"/>
<circle cx="472.4" cy="617.2" r="2.65" fill="#449de0" stroke="#1b69b2" stroke-width="1"/>
<circle cx="479" cy="617.2" r="2.65" fill="#449de0" stroke="#1b69b2" stroke-width="1"/>
<circle cx="482.3" cy="617.2" r="2.65" fill="#449de0" stroke="#1b69b2" stroke-width="1"/>
<circle cx="485.7" cy="612.9" r="2.65" fill="#449de0" stroke="#1b69b2" stroke-width="1"/>
<circle cx="488.9" cy="611.9" r="2.65" fill="#449de0" stroke="#1b69b2" stroke-width="1"/>
<circle cx="492.3" cy="609.1" r="2.65" fill="#449de0" stroke="#1b69b2" stroke-width="1"/>
<circle cx="495.2" cy="595.2" r="2.65" fill="#449de0" stroke="#1b69b2" stroke-width="1"/>
<circle cx="497.1" cy="573" r="2.65" fill="#449de0" stroke="#1b69b2" stroke-width="1"/>
<circle cx="499" cy="573" r="2.65" fill="#449de0" stroke="#1b69b2" stroke-width="1"/>
<circle cx="501.8" cy="576.8" r="2.65" fill="#449de0" stroke="#1b69b2" stroke-width="1"/>
<circle cx="505.2" cy="569.2" r="2.65" fill="#449de0" stroke="#1b69b2" stroke-width="1"/>
<circle cx="508.4" cy="565.4" r="2.65" fill="#449de0" stroke="#1b69b2" stroke-width="1"/>
<circle cx="511.7" cy="571.1" r="2.65" fill="#449de0" stroke="#1b69b2" stroke-width="1"/>
<circle cx="515.1" cy="565.4" r="2.65" fill="#449de0" stroke="#1b69b2" stroke-width="1"/>
<circle cx="517.9" cy="547.8" r="2.65" fill="#449de0" stroke="#1b69b2" stroke-width="1"/>
<circle cx="521.3" cy="559.7" r="2.65" fill="#449de0" stroke="#1b69b2" stroke-width="1"/>
<circle cx="524.6" cy="575.9" r="2.65" fill="#449de0" stroke="#1b69b2" stroke-width="1"/>
<circle cx="527.8" cy="572.1" r="2.65" fill="#449de0" stroke="#1b69b2" stroke-width="1"/>
<circle cx="530.6" cy="589.5" r="2.65" fill="#449de0" stroke="#1b69b2" stroke-width="1"/>
<circle cx="534.1" cy="592.6" r="2.65" fill="#449de0" stroke="#1b69b2" stroke-width="1"/>
<circle cx="537.5" cy="593.3" r="2.65" fill="#449de0" stroke="#1b69b2" stroke-width="1"/>
<circle cx="541.1" cy="599" r="2.65" fill="#449de0" stroke="#1b69b2" stroke-width="1"/>
<circle cx="543.9" cy="607.2" r="2.65" fill="#449de0" stroke="#1b69b2" stroke-width="1"/>
<circle cx="547.3" cy="610" r="2.65" fill="#449de0" stroke="#1b69b2" stroke-width="1"/>
<circle cx="550.6" cy="612.3" r="2.65" fill="#449de0" stroke="#1b69b2" stroke-width="1"/>
<circle cx="553.6" cy="611.5" r="2.65" fill="#449de0" stroke="#1b69b2" stroke-width="1"/>
<circle cx="556.8" cy="616.7" r="2.65" fill="#449de0" stroke="#1b69b2" stroke-width="1"/>
<circle cx="560.1" cy="612.9" r="2.65" fill="#449de0" stroke="#1b69b2" stroke-width="1"/>
<circle cx="563.5" cy="614.2" r="2.65" fill="#449de0" stroke="#1b69b2" stroke-width="1"/>
<circle cx="569.7" cy="610.6" r="2.65" fill="#449de0" stroke="#1b69b2" stroke-width="1"/>
<circle cx="576.4" cy="615.3" r="2.65" fill="#449de0" stroke="#1b69b2" stroke-width="1"/>
<circle cx="582.8" cy="612.3" r="2.65" fill="#449de0" stroke="#1b69b2" stroke-width="1"/>
<circle cx="589.1" cy="618.6" r="2.65" fill="#449de0" stroke="#1b69b2" stroke-width="1"/>
<circle cx="595.7" cy="616.3" r="2.65" fill="#449de0" stroke="#1b69b2" stroke-width="1"/>
<circle cx="602" cy="616.3" r="2.65" fill="#449de0" stroke="#1b69b2" stroke-width="1"/>
<circle cx="608.6" cy="615.7" r="2.65" fill="#449de0" stroke="#1b69b2" stroke-width="1"/>
<circle cx="615.1" cy="615.3" r="2.65" fill="#449de0" stroke="#1b69b2" stroke-width="1"/>
<circle cx="621.4" cy="616.7" r="2.65" fill="#449de0" stroke="#1b69b2" stroke-width="1"/>
</g>
<g clip-path="url(#cl7)">
<path d="M54 696.2 L55.1 694.9 L56.3 693.4 L57.4 692 L58.6 690.9 L59.7 690.5 L61 690.9 L62.2 692.1 L63.5 693.8 L64.8 695.6 L66 697.5 L67.3 699 L68.5 700.4 L69.7 701.9 L70.9 703.4 L72.2 704.8 L73.4 705.9 L74.6 706.7 L75.8 707 L76.9 706.4 L78.1 704.7 L79.2 702.4 L80.4 699.7 L81.5 697.1 L82.6 694.3 L83.8 691 L84.9 687.3 L86.1 683.6 L87.2 680 L88.4 676.1 L89.6 672.1 L90.8 668.2 L92 664.9 L93.2 661.8 L94.3 658.7 L95.5 656.3 L96.7 655.4 L98 657.2 L99.2 661.5 L100.5 666.8 L101.9 675.8 L103.3 685.7 L104.8 693.5 L106.2 699 L107.5 701.6 L108.7 703.5 L110 704.3 L111.2 703.1 L112.3 700.4 L113.5 697.3 L114.7 695.2 L115.8 694 L117 692.8 L118.1 691.9 L119.3 691.2 L120.4 691 L121.5 691.5 L122.7 692.9 L123.8 694.7 L125 696.6 L126.1 698.1 L127.2 699.4 L128.3 700.9 L129.4 702.3 L130.6 703.5 L131.7 704.4 L132.8 704.7 L134.1 703.8 L135.4 701.4 L136.8 698.4 L138.1 695.5 L139.4 693.3 L140.7 691.7 L142 690.2 L143.4 688.9 L144.7 687.9 L146 687.6 L147.1 688.1 L148.3 689.5 L149.4 691.3 L150.6 693.3 L151.7 695.2 L152.8 697.2 L154 699.6 L155.1 701.9 L156.3 703.6 L157.4 704.3 L158.6 703.6 L159.8 701.9 L161 699.6 L162.2 697.1 L163.3 694.2 L164.5 690.5 L165.6 686.4 L166.8 682.1 L167.9 678.1 L169.2 673.9 L170.4 669.5 L171.7 665.2 L173 661.1 L174.2 657.1 L175.5 653.5 L176.6 650.5 L177.8 647.5 L178.9 644.8 L180.1 642.3 L181.2 640.2 L182.6 637.7 L184 636.4 L185.1 636.9 L186.3 638.2 L187.4 640 L188.6 642 L189.7 644 L190.8 645.9 L192 648.1 L193.1 650.4 L194.3 652.8 L195.4 655.4 L196.5 658 L197.7 660.8 L198.8 663.8 L200 667 L201.1 670.5 L202.4 675.2 L203.6 680.6 L204.9 685.7 L206.2 690.5 L207.4 695 L208.7 698.1 L210 699.9 L211.2 701.3 L212.5 701.9 L213.8 701.8 L215 701.6 L216.3 701.2 L217.6 700.8 L218.8 700.4 L220.1 700 L221.4 699.6 L222.6 699 L223.9 698.4 L225.1 697.7 L226.4 697.1 L227.6 696.5 L228.9 696 L230.1 695.7 L231.4 695.6 L232.6 695.7 L233.8 696 L235 696.5 L236.2 697 L237.3 697.6 L238.5 698.2 L239.7 698.6 L240.9 699 L242 699.3 L243.2 699.5 L244.3 699.8 L245.5 700 L246.6 700.3 L247.7 700.5 L248.9 700.7 L250 700.8 L251.2 700.9 L252.3 700.9 L253.6 700.9 L254.8 700.8 L256.1 700.6 L257.4 700.4 L258.6 700.1 L259.9 699.9 L261.2 699.6 L262.4 699.3 L263.7 699 L264.9 698.7 L266.1 698.3 L267.3 697.8 L268.4 697.3 L269.6 696.9 L270.8 696.5 L272 696.3 L273.2 696.2 L274.3 696.2 L275.5 696.3 L276.6 696.5 L277.8 696.7 L278.9 696.9 L280 697.2 L281.2 697.4 L282.3 697.7 L283.5 697.9 L284.6 698.1 L285.8 698.3 L287 698.5 L288.2 698.7 L289.4 699 L290.6 699.2 L291.9 699.4 L293.1 699.6 L294.3 699.8 L295.5 699.9 L296.7 700 L297.9 700 L299.1 700 L300.2 699.9 L301.4 699.9 L302.5 699.8 L303.7 699.7 L304.9 699.6 L306 699.4 L307.2 699.3 L308.4 699.2 L309.5 699.1 L310.7 698.9 L311.8 698.8 L313 698.7" fill="none" stroke="#1c1c1c" stroke-width="1.25" stroke-linejoin="round"/>
<line x1="88.5" y1="657" x2="88.5" y2="667" stroke="#ec6731" stroke-width="1.6"/>
<line x1="172.2" y1="645" x2="172.2" y2="655" stroke="#ec6731" stroke-width="1.6"/>
<line x1="178.7" y1="632.6" x2="178.7" y2="641" stroke="#ec6731" stroke-width="1.6"/>
<line x1="188.7" y1="640" x2="188.7" y2="649.7" stroke="#ec6731" stroke-width="1.6"/>
<line x1="192" y1="649.7" x2="192" y2="662" stroke="#ec6731" stroke-width="1.6"/>
<line x1="201.5" y1="655.4" x2="201.5" y2="668.7" stroke="#ec6731" stroke-width="1.6"/>
<circle cx="59.7" cy="701.9" r="2.8" fill="#ec6731" stroke="#d6511d" stroke-width="1"/>
<circle cx="66" cy="696.7" r="2.8" fill="#ec6731" stroke="#d6511d" stroke-width="1"/>
<circle cx="72.4" cy="700" r="2.8" fill="#ec6731" stroke="#d6511d" stroke-width="1"/>
<circle cx="79.1" cy="692.9" r="2.8" fill="#ec6731" stroke="#d6511d" stroke-width="1"/>
<circle cx="85.3" cy="676.6" r="2.8" fill="#ec6731" stroke="#d6511d" stroke-width="1"/>
<circle cx="88.5" cy="662" r="2.8" fill="#ec6731" stroke="#d6511d" stroke-width="1"/>
<circle cx="92" cy="661.1" r="2.8" fill="#ec6731" stroke="#d6511d" stroke-width="1"/>
<circle cx="95.2" cy="659.2" r="2.8" fill="#ec6731" stroke="#d6511d" stroke-width="1"/>
<circle cx="98.2" cy="669.2" r="2.8" fill="#ec6731" stroke="#d6511d" stroke-width="1"/>
<circle cx="101.4" cy="676.6" r="2.8" fill="#ec6731" stroke="#d6511d" stroke-width="1"/>
<circle cx="104.7" cy="685.4" r="2.8" fill="#ec6731" stroke="#d6511d" stroke-width="1"/>
<circle cx="108.1" cy="699" r="2.8" fill="#ec6731" stroke="#d6511d" stroke-width="1"/>
<circle cx="110.9" cy="701.9" r="2.8" fill="#ec6731" stroke="#d6511d" stroke-width="1"/>
<circle cx="114.4" cy="703.2" r="2.8" fill="#ec6731" stroke="#d6511d" stroke-width="1"/>
<circle cx="117.6" cy="697.7" r="2.8" fill="#ec6731" stroke="#d6511d" stroke-width="1"/>
<circle cx="124.2" cy="691.8" r="2.8" fill="#ec6731" stroke="#d6511d" stroke-width="1"/>
<circle cx="130.5" cy="706.2" r="2.8" fill="#ec6731" stroke="#d6511d" stroke-width="1"/>
<circle cx="136.9" cy="708.1" r="2.8" fill="#ec6731" stroke="#d6511d" stroke-width="1"/>
<circle cx="143.2" cy="697.7" r="2.8" fill="#ec6731" stroke="#d6511d" stroke-width="1"/>
<circle cx="149.8" cy="692.8" r="2.8" fill="#ec6731" stroke="#d6511d" stroke-width="1"/>
<circle cx="156.5" cy="707" r="2.8" fill="#ec6731" stroke="#d6511d" stroke-width="1"/>
<circle cx="162.8" cy="691.4" r="2.8" fill="#ec6731" stroke="#d6511d" stroke-width="1"/>
<circle cx="166" cy="679.7" r="2.8" fill="#ec6731" stroke="#d6511d" stroke-width="1"/>
<circle cx="169.2" cy="675.3" r="2.8" fill="#ec6731" stroke="#d6511d" stroke-width="1"/>
<circle cx="172.2" cy="653.5" r="2.8" fill="#ec6731" stroke="#d6511d" stroke-width="1"/>
<circle cx="175.8" cy="653.1" r="2.8" fill="#ec6731" stroke="#d6511d" stroke-width="1"/>
<circle cx="178.7" cy="638.7" r="2.8" fill="#ec6731" stroke="#d6511d" stroke-width="1"/>
<circle cx="181.5" cy="638.7" r="2.8" fill="#ec6731" stroke="#d6511d" stroke-width="1"/>
<circle cx="185.9" cy="635.4" r="2.8" fill="#ec6731" stroke="#d6511d" stroke-width="1"/>
<circle cx="188.7" cy="643.4" r="2.8" fill="#ec6731" stroke="#d6511d" stroke-width="1"/>
<circle cx="192" cy="653.8" r="2.8" fill="#ec6731" stroke="#d6511d" stroke-width="1"/>
<circle cx="195" cy="651.2" r="2.8" fill="#ec6731" stroke="#d6511d" stroke-width="1"/>
<circle cx="198.2" cy="660.1" r="2.8" fill="#ec6731" stroke="#d6511d" stroke-width="1"/>
<circle cx="201.5" cy="664.5" r="2.8" fill="#ec6731" stroke="#d6511d" stroke-width="1"/>
<circle cx="204.9" cy="682.5" r="2.8" fill="#ec6731" stroke="#d6511d" stroke-width="1"/>
<circle cx="207.7" cy="696.7" r="2.8" fill="#ec6731" stroke="#d6511d" stroke-width="1"/>
<circle cx="211.1" cy="703.8" r="2.8" fill="#ec6731" stroke="#d6511d" stroke-width="1"/>
<circle cx="214.4" cy="701.9" r="2.8" fill="#ec6731" stroke="#d6511d" stroke-width="1"/>
<circle cx="217.6" cy="704.7" r="2.8" fill="#ec6731" stroke="#d6511d" stroke-width="1"/>
<circle cx="220.6" cy="701.9" r="2.8" fill="#ec6731" stroke="#d6511d" stroke-width="1"/>
<circle cx="223.9" cy="699" r="2.8" fill="#ec6731" stroke="#d6511d" stroke-width="1"/>
<circle cx="227.3" cy="696.7" r="2.8" fill="#ec6731" stroke="#d6511d" stroke-width="1"/>
<circle cx="230.5" cy="695.6" r="2.8" fill="#ec6731" stroke="#d6511d" stroke-width="1"/>
<circle cx="233.9" cy="694.3" r="2.8" fill="#ec6731" stroke="#d6511d" stroke-width="1"/>
<circle cx="237.1" cy="698.1" r="2.8" fill="#ec6731" stroke="#d6511d" stroke-width="1"/>
<circle cx="240.4" cy="699" r="2.8" fill="#ec6731" stroke="#d6511d" stroke-width="1"/>
<circle cx="243.4" cy="700.9" r="2.8" fill="#ec6731" stroke="#d6511d" stroke-width="1"/>
<circle cx="247" cy="696.7" r="2.8" fill="#ec6731" stroke="#d6511d" stroke-width="1"/>
<circle cx="253.3" cy="703.2" r="2.8" fill="#ec6731" stroke="#d6511d" stroke-width="1"/>
<circle cx="259.5" cy="701.9" r="2.8" fill="#ec6731" stroke="#d6511d" stroke-width="1"/>
<circle cx="266" cy="701.5" r="2.8" fill="#ec6731" stroke="#d6511d" stroke-width="1"/>
<circle cx="272.6" cy="696.7" r="2.8" fill="#ec6731" stroke="#d6511d" stroke-width="1"/>
<circle cx="278.9" cy="697.7" r="2.8" fill="#ec6731" stroke="#d6511d" stroke-width="1"/>
<circle cx="285.2" cy="700.9" r="2.8" fill="#ec6731" stroke="#d6511d" stroke-width="1"/>
<circle cx="291.6" cy="701.5" r="2.8" fill="#ec6731" stroke="#d6511d" stroke-width="1"/>
<circle cx="297.9" cy="700.9" r="2.8" fill="#ec6731" stroke="#d6511d" stroke-width="1"/>
<circle cx="304.5" cy="702.2" r="2.8" fill="#ec6731" stroke="#d6511d" stroke-width="1"/>
</g>
<g clip-path="url(#cr7)">
<path d="M368.5 696.7 L369.7 697 L370.9 697.3 L372.1 697.7 L373.2 698 L374.4 698.3 L375.6 698.6 L376.9 698.9 L378.1 699.2 L379.4 699.5 L380.7 699.8 L381.9 700.1 L383.2 700.5 L384.5 701 L385.7 701.6 L387 702.2 L388.3 702.8 L389.5 703.4 L390.8 703.8 L392 704.1 L393.1 704.4 L394.3 704.6 L395.5 704.7 L396.6 704.4 L397.8 703.7 L398.9 702.6 L400.1 701.3 L401.2 700 L402.4 698.3 L403.6 696.1 L404.8 693.7 L406 691.4 L407.2 688.9 L408.4 686.3 L409.5 684 L410.7 682.9 L411.8 682.6 L412.9 682.4 L414 682.2 L415.1 682 L416.2 681.9 L417.3 681.9 L418.6 682.1 L419.8 682.5 L421.1 683.1 L422.4 683.7 L423.6 684.3 L424.9 684.8 L426.1 685.2 L427.3 685.5 L428.5 685.9 L429.6 686.3 L430.8 686.6 L432 686.9 L433.2 687.1 L434.4 687.3 L435.6 687.5 L436.8 687.6 L438 687.8 L439.1 687.9 L440.3 688 L441.5 688.1 L442.7 688.2 L443.9 688.2 L445.1 688.1 L446.3 688 L447.5 687.8 L448.6 687.5 L449.8 687.2 L451 686.9 L452.2 686.6 L453.4 686.3 L454.6 686 L455.8 685.7 L457 685.4 L458.1 685.1 L459.3 684.8 L460.5 684.4 L461.7 684.1 L462.9 683.8 L464.2 683.4 L465.4 683 L466.7 682.6 L468 682.2 L469.2 682 L470.5 681.9 L471.8 682.1 L473 682.6 L474.2 683.4 L475.5 684.2 L476.8 685 L478 685.7 L479.1 686.3 L480.2 686.9 L481.4 687.5 L482.5 688.1 L483.6 688.5 L484.7 688.6 L486.1 687.7 L487.6 685.7 L488.9 682.3 L490.1 676.9 L491.4 670.5 L492.8 660 L494.2 651.6 L495.5 649.1 L496.7 647.4 L498 646.8 L499.1 647.4 L500.3 649 L501.4 651.1 L502.6 653.4 L503.7 655.4 L504.8 657.1 L506 658.9 L507.1 660.6 L508.3 662.3 L509.4 663.9 L510.7 665.6 L511.9 667.3 L513.2 669 L514.5 670.6 L515.7 672 L517 673.4 L518.3 674.7 L519.5 676 L520.8 677.2 L522.1 678.3 L523.3 679.2 L524.6 680 L525.9 680.6 L527.1 681.2 L528.4 681.7 L529.7 682.1 L530.9 682.5 L532.2 682.9 L533.5 683.3 L534.7 683.6 L536 683.9 L537.3 684.2 L538.5 684.5 L539.8 684.8 L541 685.1 L542.3 685.4 L543.5 685.7 L544.8 686 L546 686.3 L547.3 686.7 L548.6 687.1 L549.8 687.6 L551.1 688.1 L552.4 688.6 L553.6 689.1 L554.9 689.5 L556.1 689.9 L557.3 690.2 L558.5 690.5 L559.6 690.8 L560.8 691.1 L562 691.4 L563.2 691.6 L564.4 691.8 L565.6 692 L566.8 692.1 L568 692.2 L569.2 692.4 L570.4 692.5 L571.7 692.6 L572.9 692.7 L574.1 692.8 L575.3 692.8 L576.5 692.9 L577.7 692.9 L578.9 692.9 L580 692.9 L581.2 692.9 L582.4 692.9 L583.5 692.9 L584.7 692.9 L585.9 692.9 L587.1 692.9 L588.2 692.9 L589.4 692.9 L590.6 692.9 L591.7 692.9 L592.9 692.9 L594.1 692.9 L595.3 692.9 L596.5 692.9 L597.6 692.9 L598.8 693 L600 693 L601.2 693 L602.4 693 L603.6 693.1 L604.8 693.1 L606 693.1 L607.1 693.2 L608.3 693.2 L609.5 693.2 L610.7 693.3 L611.9 693.3 L613.1 693.3 L614.3 693.4 L615.5 693.5 L616.7 693.5 L617.9 693.6 L619.1 693.7 L620.3 693.8 L621.5 693.9 L622.7 694 L623.9 694 L625.1 694.1 L626.3 694.2 L627.5 694.3" fill="none" stroke="#1c1c1c" stroke-width="1.25" stroke-linejoin="round"/>
<line x1="394" y1="704.7" x2="394" y2="713" stroke="#1b69b2" stroke-width="1.6"/>
<line x1="403.7" y1="688.6" x2="403.7" y2="698" stroke="#1b69b2" stroke-width="1.6"/>
<line x1="439.2" y1="679" x2="439.2" y2="688.6" stroke="#1b69b2" stroke-width="1.6"/>
<line x1="445.4" y1="683.8" x2="445.4" y2="703.8" stroke="#1b69b2" stroke-width="1.6"/>
<line x1="452.1" y1="678" x2="452.1" y2="692.4" stroke="#1b69b2" stroke-width="1.6"/>
<line x1="464.8" y1="677" x2="464.8" y2="694.3" stroke="#1b69b2" stroke-width="1.6"/>
<line x1="477.5" y1="682" x2="477.5" y2="692.4" stroke="#1b69b2" stroke-width="1.6"/>
<line x1="480.9" y1="681" x2="480.9" y2="691.4" stroke="#1b69b2" stroke-width="1.6"/>
<line x1="484.2" y1="685.7" x2="484.2" y2="699" stroke="#1b69b2" stroke-width="1.6"/>
<line x1="503.7" y1="647.8" x2="503.7" y2="662" stroke="#1b69b2" stroke-width="1.6"/>
<line x1="506.5" y1="657.3" x2="506.5" y2="670.5" stroke="#1b69b2" stroke-width="1.6"/>
<line x1="516.4" y1="639" x2="516.4" y2="678" stroke="#1b69b2" stroke-width="1.6"/>
<line x1="519.4" y1="675.3" x2="519.4" y2="685.7" stroke="#1b69b2" stroke-width="1.6"/>
<line x1="522.7" y1="673.4" x2="522.7" y2="692.4" stroke="#1b69b2" stroke-width="1.6"/>
<line x1="529.3" y1="671.5" x2="529.3" y2="682" stroke="#1b69b2" stroke-width="1.6"/>
<line x1="539.2" y1="684.8" x2="539.2" y2="695.2" stroke="#1b69b2" stroke-width="1.6"/>
<line x1="542.2" y1="677.2" x2="542.2" y2="687.6" stroke="#1b69b2" stroke-width="1.6"/>
<line x1="554.9" y1="684.8" x2="554.9" y2="692.4" stroke="#1b69b2" stroke-width="1.6"/>
<line x1="606.7" y1="682" x2="606.7" y2="690.5" stroke="#1b69b2" stroke-width="1.6"/>
<circle cx="374.3" cy="699.4" r="2.65" fill="#449de0" stroke="#1b69b2" stroke-width="1"/>
<circle cx="380.9" cy="699.4" r="2.65" fill="#449de0" stroke="#1b69b2" stroke-width="1"/>
<circle cx="387.5" cy="701.9" r="2.65" fill="#449de0" stroke="#1b69b2" stroke-width="1"/>
<circle cx="394" cy="708.5" r="2.65" fill="#449de0" stroke="#1b69b2" stroke-width="1"/>
<circle cx="400.6" cy="702.2" r="2.65" fill="#449de0" stroke="#1b69b2" stroke-width="1"/>
<circle cx="403.7" cy="693.7" r="2.65" fill="#449de0" stroke="#1b69b2" stroke-width="1"/>
<circle cx="407.3" cy="694.3" r="2.65" fill="#449de0" stroke="#1b69b2" stroke-width="1"/>
<circle cx="410.1" cy="685.4" r="2.65" fill="#449de0" stroke="#1b69b2" stroke-width="1"/>
<circle cx="413.2" cy="678.7" r="2.65" fill="#449de0" stroke="#1b69b2" stroke-width="1"/>
<circle cx="416.4" cy="681" r="2.65" fill="#449de0" stroke="#1b69b2" stroke-width="1"/>
<circle cx="419.6" cy="681" r="2.65" fill="#449de0" stroke="#1b69b2" stroke-width="1"/>
<circle cx="422.7" cy="687.6" r="2.65" fill="#449de0" stroke="#1b69b2" stroke-width="1"/>
<circle cx="425.9" cy="688.6" r="2.65" fill="#449de0" stroke="#1b69b2" stroke-width="1"/>
<circle cx="429.3" cy="690.1" r="2.65" fill="#449de0" stroke="#1b69b2" stroke-width="1"/>
<circle cx="432.5" cy="682.3" r="2.65" fill="#449de0" stroke="#1b69b2" stroke-width="1"/>
<circle cx="439.2" cy="683.8" r="2.65" fill="#449de0" stroke="#1b69b2" stroke-width="1"/>
<circle cx="445.4" cy="693.7" r="2.65" fill="#449de0" stroke="#1b69b2" stroke-width="1"/>
<circle cx="452.1" cy="685.7" r="2.65" fill="#449de0" stroke="#1b69b2" stroke-width="1"/>
<circle cx="458.5" cy="684.2" r="2.65" fill="#449de0" stroke="#1b69b2" stroke-width="1"/>
<circle cx="464.8" cy="685.7" r="2.65" fill="#449de0" stroke="#1b69b2" stroke-width="1"/>
<circle cx="471.4" cy="680" r="2.65" fill="#449de0" stroke="#1b69b2" stroke-width="1"/>
<circle cx="477.5" cy="687.3" r="2.65" fill="#449de0" stroke="#1b69b2" stroke-width="1"/>
<circle cx="480.9" cy="686.1" r="2.65" fill="#449de0" stroke="#1b69b2" stroke-width="1"/>
<circle cx="484.2" cy="691.8" r="2.65" fill="#449de0" stroke="#1b69b2" stroke-width="1"/>
<circle cx="487.2" cy="681" r="2.65" fill="#449de0" stroke="#1b69b2" stroke-width="1"/>
<circle cx="490.4" cy="675.7" r="2.65" fill="#449de0" stroke="#1b69b2" stroke-width="1"/>
<circle cx="493.6" cy="657.6" r="2.65" fill="#449de0" stroke="#1b69b2" stroke-width="1"/>
<circle cx="498.3" cy="638.7" r="2.65" fill="#449de0" stroke="#1b69b2" stroke-width="1"/>
<circle cx="500.3" cy="656.9" r="2.65" fill="#449de0" stroke="#1b69b2" stroke-width="1"/>
<circle cx="503.7" cy="654.4" r="2.65" fill="#449de0" stroke="#1b69b2" stroke-width="1"/>
<circle cx="506.5" cy="663" r="2.65" fill="#449de0" stroke="#1b69b2" stroke-width="1"/>
<circle cx="509.8" cy="660.1" r="2.65" fill="#449de0" stroke="#1b69b2" stroke-width="1"/>
<circle cx="513.2" cy="672.8" r="2.65" fill="#449de0" stroke="#1b69b2" stroke-width="1"/>
<circle cx="516.4" cy="661.1" r="2.65" fill="#449de0" stroke="#1b69b2" stroke-width="1"/>
<circle cx="519.4" cy="681" r="2.65" fill="#449de0" stroke="#1b69b2" stroke-width="1"/>
<circle cx="522.7" cy="682.9" r="2.65" fill="#449de0" stroke="#1b69b2" stroke-width="1"/>
<circle cx="526.1" cy="680" r="2.65" fill="#449de0" stroke="#1b69b2" stroke-width="1"/>
<circle cx="529.3" cy="677.2" r="2.65" fill="#449de0" stroke="#1b69b2" stroke-width="1"/>
<circle cx="532.7" cy="685.4" r="2.65" fill="#449de0" stroke="#1b69b2" stroke-width="1"/>
<circle cx="536" cy="680" r="2.65" fill="#449de0" stroke="#1b69b2" stroke-width="1"/>
<circle cx="539.2" cy="689.5" r="2.65" fill="#449de0" stroke="#1b69b2" stroke-width="1"/>
<circle cx="542.2" cy="681.9" r="2.65" fill="#449de0" stroke="#1b69b2" stroke-width="1"/>
<circle cx="545.4" cy="683.8" r="2.65" fill="#449de0" stroke="#1b69b2" stroke-width="1"/>
<circle cx="548.9" cy="687.6" r="2.65" fill="#449de0" stroke="#1b69b2" stroke-width="1"/>
<circle cx="552.1" cy="691.8" r="2.65" fill="#449de0" stroke="#1b69b2" stroke-width="1"/>
<circle cx="554.9" cy="688.6" r="2.65" fill="#449de0" stroke="#1b69b2" stroke-width="1"/>
<circle cx="558.4" cy="690.5" r="2.65" fill="#449de0" stroke="#1b69b2" stroke-width="1"/>
<circle cx="561.6" cy="693.3" r="2.65" fill="#449de0" stroke="#1b69b2" stroke-width="1"/>
<circle cx="568.2" cy="694.7" r="2.65" fill="#449de0" stroke="#1b69b2" stroke-width="1"/>
<circle cx="574.5" cy="697.5" r="2.65" fill="#449de0" stroke="#1b69b2" stroke-width="1"/>
<circle cx="580.9" cy="691" r="2.65" fill="#449de0" stroke="#1b69b2" stroke-width="1"/>
<circle cx="587.6" cy="683.3" r="2.65" fill="#449de0" stroke="#1b69b2" stroke-width="1"/>
<circle cx="593.8" cy="685.2" r="2.65" fill="#449de0" stroke="#1b69b2" stroke-width="1"/>
<circle cx="600.5" cy="689.5" r="2.65" fill="#449de0" stroke="#1b69b2" stroke-width="1"/>
<circle cx="606.7" cy="686.1" r="2.65" fill="#449de0" stroke="#1b69b2" stroke-width="1"/>
<circle cx="613.2" cy="691.4" r="2.65" fill="#449de0" stroke="#1b69b2" stroke-width="1"/>
<circle cx="619.8" cy="692.4" r="2.65" fill="#449de0" stroke="#1b69b2" stroke-width="1"/>
</g>
<line x1="86.3" y1="177.5" x2="86.3" y2="171.7" stroke="#4a4a4a" stroke-width="1"/>
<line x1="118.8" y1="177.5" x2="118.8" y2="171.7" stroke="#4a4a4a" stroke-width="1"/>
<line x1="151.2" y1="177.5" x2="151.2" y2="171.7" stroke="#4a4a4a" stroke-width="1"/>
<line x1="183.7" y1="177.5" x2="183.7" y2="171.7" stroke="#4a4a4a" stroke-width="1"/>
<line x1="216.2" y1="177.5" x2="216.2" y2="171.7" stroke="#4a4a4a" stroke-width="1"/>
<line x1="248.7" y1="177.5" x2="248.7" y2="171.7" stroke="#4a4a4a" stroke-width="1"/>
<line x1="281.2" y1="177.5" x2="281.2" y2="171.7" stroke="#4a4a4a" stroke-width="1"/>
<line x1="54" y1="102.4" x2="60" y2="102.4" stroke="#8e8e8e" stroke-width="1.3"/>
<line x1="307" y1="102.4" x2="313" y2="102.4" stroke="#8e8e8e" stroke-width="1.3"/>
<line x1="54" y1="129.4" x2="60" y2="129.4" stroke="#8e8e8e" stroke-width="1.3"/>
<line x1="307" y1="129.4" x2="313" y2="129.4" stroke="#8e8e8e" stroke-width="1.3"/>
<line x1="54" y1="155.6" x2="60" y2="155.6" stroke="#8e8e8e" stroke-width="1.3"/>
<line x1="307" y1="155.6" x2="313" y2="155.6" stroke="#8e8e8e" stroke-width="1.3"/>
<line x1="54" y1="177.5" x2="313" y2="177.5" stroke="#404040" stroke-width="1"/>
<line x1="86.3" y1="267.5" x2="86.3" y2="261.7" stroke="#4a4a4a" stroke-width="1"/>
<line x1="118.8" y1="267.5" x2="118.8" y2="261.7" stroke="#4a4a4a" stroke-width="1"/>
<line x1="151.2" y1="267.5" x2="151.2" y2="261.7" stroke="#4a4a4a" stroke-width="1"/>
<line x1="183.7" y1="267.5" x2="183.7" y2="261.7" stroke="#4a4a4a" stroke-width="1"/>
<line x1="216.2" y1="267.5" x2="216.2" y2="261.7" stroke="#4a4a4a" stroke-width="1"/>
<line x1="248.7" y1="267.5" x2="248.7" y2="261.7" stroke="#4a4a4a" stroke-width="1"/>
<line x1="281.2" y1="267.5" x2="281.2" y2="261.7" stroke="#4a4a4a" stroke-width="1"/>
<line x1="54" y1="196.9" x2="60" y2="196.9" stroke="#8e8e8e" stroke-width="1.3"/>
<line x1="307" y1="196.9" x2="313" y2="196.9" stroke="#8e8e8e" stroke-width="1.3"/>
<line x1="54" y1="224.3" x2="60" y2="224.3" stroke="#8e8e8e" stroke-width="1.3"/>
<line x1="307" y1="224.3" x2="313" y2="224.3" stroke="#8e8e8e" stroke-width="1.3"/>
<line x1="54" y1="251" x2="60" y2="251" stroke="#8e8e8e" stroke-width="1.3"/>
<line x1="307" y1="251" x2="313" y2="251" stroke="#8e8e8e" stroke-width="1.3"/>
<line x1="54" y1="267.5" x2="313" y2="267.5" stroke="#404040" stroke-width="1"/>
<line x1="86.3" y1="356.5" x2="86.3" y2="350.7" stroke="#4a4a4a" stroke-width="1"/>
<line x1="118.8" y1="356.5" x2="118.8" y2="350.7" stroke="#4a4a4a" stroke-width="1"/>
<line x1="151.2" y1="356.5" x2="151.2" y2="350.7" stroke="#4a4a4a" stroke-width="1"/>
<line x1="183.7" y1="356.5" x2="183.7" y2="350.7" stroke="#4a4a4a" stroke-width="1"/>
<line x1="216.2" y1="356.5" x2="216.2" y2="350.7" stroke="#4a4a4a" stroke-width="1"/>
<line x1="248.7" y1="356.5" x2="248.7" y2="350.7" stroke="#4a4a4a" stroke-width="1"/>
<line x1="281.2" y1="356.5" x2="281.2" y2="350.7" stroke="#4a4a4a" stroke-width="1"/>
<line x1="54" y1="290.3" x2="60" y2="290.3" stroke="#8e8e8e" stroke-width="1.3"/>
<line x1="307" y1="290.3" x2="313" y2="290.3" stroke="#8e8e8e" stroke-width="1.3"/>
<line x1="54" y1="313.4" x2="60" y2="313.4" stroke="#8e8e8e" stroke-width="1.3"/>
<line x1="307" y1="313.4" x2="313" y2="313.4" stroke="#8e8e8e" stroke-width="1.3"/>
<line x1="54" y1="335.6" x2="60" y2="335.6" stroke="#8e8e8e" stroke-width="1.3"/>
<line x1="307" y1="335.6" x2="313" y2="335.6" stroke="#8e8e8e" stroke-width="1.3"/>
<line x1="54" y1="356.5" x2="313" y2="356.5" stroke="#404040" stroke-width="1"/>
<line x1="86.3" y1="446.5" x2="86.3" y2="440.7" stroke="#4a4a4a" stroke-width="1"/>
<line x1="118.8" y1="446.5" x2="118.8" y2="440.7" stroke="#4a4a4a" stroke-width="1"/>
<line x1="151.2" y1="446.5" x2="151.2" y2="440.7" stroke="#4a4a4a" stroke-width="1"/>
<line x1="183.7" y1="446.5" x2="183.7" y2="440.7" stroke="#4a4a4a" stroke-width="1"/>
<line x1="216.2" y1="446.5" x2="216.2" y2="440.7" stroke="#4a4a4a" stroke-width="1"/>
<line x1="248.7" y1="446.5" x2="248.7" y2="440.7" stroke="#4a4a4a" stroke-width="1"/>
<line x1="281.2" y1="446.5" x2="281.2" y2="440.7" stroke="#4a4a4a" stroke-width="1"/>
<line x1="54" y1="358.5" x2="60" y2="358.5" stroke="#8e8e8e" stroke-width="1.3"/>
<line x1="307" y1="358.5" x2="313" y2="358.5" stroke="#8e8e8e" stroke-width="1.3"/>
<line x1="54" y1="382.7" x2="60" y2="382.7" stroke="#8e8e8e" stroke-width="1.3"/>
<line x1="307" y1="382.7" x2="313" y2="382.7" stroke="#8e8e8e" stroke-width="1.3"/>
<line x1="54" y1="407.3" x2="60" y2="407.3" stroke="#8e8e8e" stroke-width="1.3"/>
<line x1="307" y1="407.3" x2="313" y2="407.3" stroke="#8e8e8e" stroke-width="1.3"/>
<line x1="54" y1="431" x2="60" y2="431" stroke="#8e8e8e" stroke-width="1.3"/>
<line x1="307" y1="431" x2="313" y2="431" stroke="#8e8e8e" stroke-width="1.3"/>
<line x1="54" y1="446.5" x2="313" y2="446.5" stroke="#404040" stroke-width="1"/>
<line x1="86.3" y1="536.5" x2="86.3" y2="530.7" stroke="#4a4a4a" stroke-width="1"/>
<line x1="118.8" y1="536.5" x2="118.8" y2="530.7" stroke="#4a4a4a" stroke-width="1"/>
<line x1="151.2" y1="536.5" x2="151.2" y2="530.7" stroke="#4a4a4a" stroke-width="1"/>
<line x1="183.7" y1="536.5" x2="183.7" y2="530.7" stroke="#4a4a4a" stroke-width="1"/>
<line x1="216.2" y1="536.5" x2="216.2" y2="530.7" stroke="#4a4a4a" stroke-width="1"/>
<line x1="248.7" y1="536.5" x2="248.7" y2="530.7" stroke="#4a4a4a" stroke-width="1"/>
<line x1="281.2" y1="536.5" x2="281.2" y2="530.7" stroke="#4a4a4a" stroke-width="1"/>
<line x1="54" y1="452.5" x2="60" y2="452.5" stroke="#8e8e8e" stroke-width="1.3"/>
<line x1="307" y1="452.5" x2="313" y2="452.5" stroke="#8e8e8e" stroke-width="1.3"/>
<line x1="54" y1="475.8" x2="60" y2="475.8" stroke="#8e8e8e" stroke-width="1.3"/>
<line x1="307" y1="475.8" x2="313" y2="475.8" stroke="#8e8e8e" stroke-width="1.3"/>
<line x1="54" y1="499.2" x2="60" y2="499.2" stroke="#8e8e8e" stroke-width="1.3"/>
<line x1="307" y1="499.2" x2="313" y2="499.2" stroke="#8e8e8e" stroke-width="1.3"/>
<line x1="54" y1="521.8" x2="60" y2="521.8" stroke="#8e8e8e" stroke-width="1.3"/>
<line x1="307" y1="521.8" x2="313" y2="521.8" stroke="#8e8e8e" stroke-width="1.3"/>
<line x1="54" y1="536.5" x2="313" y2="536.5" stroke="#404040" stroke-width="1"/>
<line x1="86.3" y1="625.5" x2="86.3" y2="619.7" stroke="#4a4a4a" stroke-width="1"/>
<line x1="118.8" y1="625.5" x2="118.8" y2="619.7" stroke="#4a4a4a" stroke-width="1"/>
<line x1="151.2" y1="625.5" x2="151.2" y2="619.7" stroke="#4a4a4a" stroke-width="1"/>
<line x1="183.7" y1="625.5" x2="183.7" y2="619.7" stroke="#4a4a4a" stroke-width="1"/>
<line x1="216.2" y1="625.5" x2="216.2" y2="619.7" stroke="#4a4a4a" stroke-width="1"/>
<line x1="248.7" y1="625.5" x2="248.7" y2="619.7" stroke="#4a4a4a" stroke-width="1"/>
<line x1="281.2" y1="625.5" x2="281.2" y2="619.7" stroke="#4a4a4a" stroke-width="1"/>
<line x1="54" y1="559.2" x2="60" y2="559.2" stroke="#8e8e8e" stroke-width="1.3"/>
<line x1="307" y1="559.2" x2="313" y2="559.2" stroke="#8e8e8e" stroke-width="1.3"/>
<line x1="54" y1="586.3" x2="60" y2="586.3" stroke="#8e8e8e" stroke-width="1.3"/>
<line x1="307" y1="586.3" x2="313" y2="586.3" stroke="#8e8e8e" stroke-width="1.3"/>
<line x1="54" y1="612.7" x2="60" y2="612.7" stroke="#8e8e8e" stroke-width="1.3"/>
<line x1="307" y1="612.7" x2="313" y2="612.7" stroke="#8e8e8e" stroke-width="1.3"/>
<line x1="54" y1="625.5" x2="313" y2="625.5" stroke="#404040" stroke-width="1"/>
<line x1="86.3" y1="715.3" x2="86.3" y2="709.5" stroke="#4a4a4a" stroke-width="1"/>
<line x1="118.8" y1="715.3" x2="118.8" y2="709.5" stroke="#4a4a4a" stroke-width="1"/>
<line x1="151.2" y1="715.3" x2="151.2" y2="709.5" stroke="#4a4a4a" stroke-width="1"/>
<line x1="183.7" y1="715.3" x2="183.7" y2="709.5" stroke="#4a4a4a" stroke-width="1"/>
<line x1="216.2" y1="715.3" x2="216.2" y2="709.5" stroke="#4a4a4a" stroke-width="1"/>
<line x1="248.7" y1="715.3" x2="248.7" y2="709.5" stroke="#4a4a4a" stroke-width="1"/>
<line x1="281.2" y1="715.3" x2="281.2" y2="709.5" stroke="#4a4a4a" stroke-width="1"/>
<line x1="54" y1="640.2" x2="60" y2="640.2" stroke="#8e8e8e" stroke-width="1.3"/>
<line x1="307" y1="640.2" x2="313" y2="640.2" stroke="#8e8e8e" stroke-width="1.3"/>
<line x1="54" y1="669.2" x2="60" y2="669.2" stroke="#8e8e8e" stroke-width="1.3"/>
<line x1="307" y1="669.2" x2="313" y2="669.2" stroke="#8e8e8e" stroke-width="1.3"/>
<line x1="54" y1="698" x2="60" y2="698" stroke="#8e8e8e" stroke-width="1.3"/>
<line x1="307" y1="698" x2="313" y2="698" stroke="#8e8e8e" stroke-width="1.3"/>
<line x1="53" y1="89" x2="314" y2="89" stroke="#949494" stroke-width="2"/>
<line x1="53" y1="715.3" x2="314" y2="715.3" stroke="#505050" stroke-width="1.3"/>
<line x1="54" y1="88" x2="54" y2="716" stroke="#8c8c8c" stroke-width="2"/>
<line x1="313" y1="88" x2="313" y2="716" stroke="#8c8c8c" stroke-width="2"/>
<line x1="401" y1="177.5" x2="401" y2="171.7" stroke="#4a4a4a" stroke-width="1"/>
<line x1="433.5" y1="177.5" x2="433.5" y2="171.7" stroke="#4a4a4a" stroke-width="1"/>
<line x1="465.9" y1="177.5" x2="465.9" y2="171.7" stroke="#4a4a4a" stroke-width="1"/>
<line x1="498.4" y1="177.5" x2="498.4" y2="171.7" stroke="#4a4a4a" stroke-width="1"/>
<line x1="530.9" y1="177.5" x2="530.9" y2="171.7" stroke="#4a4a4a" stroke-width="1"/>
<line x1="563.4" y1="177.5" x2="563.4" y2="171.7" stroke="#4a4a4a" stroke-width="1"/>
<line x1="595.9" y1="177.5" x2="595.9" y2="171.7" stroke="#4a4a4a" stroke-width="1"/>
<line x1="369" y1="92" x2="375" y2="92" stroke="#8e8e8e" stroke-width="1.3"/>
<line x1="622" y1="92" x2="628" y2="92" stroke="#8e8e8e" stroke-width="1.3"/>
<line x1="369" y1="115.7" x2="375" y2="115.7" stroke="#8e8e8e" stroke-width="1.3"/>
<line x1="622" y1="115.7" x2="628" y2="115.7" stroke="#8e8e8e" stroke-width="1.3"/>
<line x1="369" y1="139.5" x2="375" y2="139.5" stroke="#8e8e8e" stroke-width="1.3"/>
<line x1="622" y1="139.5" x2="628" y2="139.5" stroke="#8e8e8e" stroke-width="1.3"/>
<line x1="369" y1="163.2" x2="375" y2="163.2" stroke="#8e8e8e" stroke-width="1.3"/>
<line x1="622" y1="163.2" x2="628" y2="163.2" stroke="#8e8e8e" stroke-width="1.3"/>
<line x1="369" y1="177.5" x2="628" y2="177.5" stroke="#404040" stroke-width="1"/>
<line x1="401" y1="267.5" x2="401" y2="261.7" stroke="#4a4a4a" stroke-width="1"/>
<line x1="433.5" y1="267.5" x2="433.5" y2="261.7" stroke="#4a4a4a" stroke-width="1"/>
<line x1="465.9" y1="267.5" x2="465.9" y2="261.7" stroke="#4a4a4a" stroke-width="1"/>
<line x1="498.4" y1="267.5" x2="498.4" y2="261.7" stroke="#4a4a4a" stroke-width="1"/>
<line x1="530.9" y1="267.5" x2="530.9" y2="261.7" stroke="#4a4a4a" stroke-width="1"/>
<line x1="563.4" y1="267.5" x2="563.4" y2="261.7" stroke="#4a4a4a" stroke-width="1"/>
<line x1="595.9" y1="267.5" x2="595.9" y2="261.7" stroke="#4a4a4a" stroke-width="1"/>
<line x1="369" y1="213.3" x2="375" y2="213.3" stroke="#8e8e8e" stroke-width="1.3"/>
<line x1="622" y1="213.3" x2="628" y2="213.3" stroke="#8e8e8e" stroke-width="1.3"/>
<line x1="369" y1="247.6" x2="375" y2="247.6" stroke="#8e8e8e" stroke-width="1.3"/>
<line x1="622" y1="247.6" x2="628" y2="247.6" stroke="#8e8e8e" stroke-width="1.3"/>
<line x1="369" y1="267.5" x2="628" y2="267.5" stroke="#404040" stroke-width="1"/>
<line x1="401" y1="356.5" x2="401" y2="350.7" stroke="#4a4a4a" stroke-width="1"/>
<line x1="433.5" y1="356.5" x2="433.5" y2="350.7" stroke="#4a4a4a" stroke-width="1"/>
<line x1="465.9" y1="356.5" x2="465.9" y2="350.7" stroke="#4a4a4a" stroke-width="1"/>
<line x1="498.4" y1="356.5" x2="498.4" y2="350.7" stroke="#4a4a4a" stroke-width="1"/>
<line x1="530.9" y1="356.5" x2="530.9" y2="350.7" stroke="#4a4a4a" stroke-width="1"/>
<line x1="563.4" y1="356.5" x2="563.4" y2="350.7" stroke="#4a4a4a" stroke-width="1"/>
<line x1="595.9" y1="356.5" x2="595.9" y2="350.7" stroke="#4a4a4a" stroke-width="1"/>
<line x1="369" y1="291.2" x2="375" y2="291.2" stroke="#8e8e8e" stroke-width="1.3"/>
<line x1="622" y1="291.2" x2="628" y2="291.2" stroke="#8e8e8e" stroke-width="1.3"/>
<line x1="369" y1="319.5" x2="375" y2="319.5" stroke="#8e8e8e" stroke-width="1.3"/>
<line x1="622" y1="319.5" x2="628" y2="319.5" stroke="#8e8e8e" stroke-width="1.3"/>
<line x1="369" y1="347.7" x2="375" y2="347.7" stroke="#8e8e8e" stroke-width="1.3"/>
<line x1="622" y1="347.7" x2="628" y2="347.7" stroke="#8e8e8e" stroke-width="1.3"/>
<line x1="369" y1="356.5" x2="628" y2="356.5" stroke="#404040" stroke-width="1"/>
<line x1="401" y1="446.5" x2="401" y2="440.7" stroke="#4a4a4a" stroke-width="1"/>
<line x1="433.5" y1="446.5" x2="433.5" y2="440.7" stroke="#4a4a4a" stroke-width="1"/>
<line x1="465.9" y1="446.5" x2="465.9" y2="440.7" stroke="#4a4a4a" stroke-width="1"/>
<line x1="498.4" y1="446.5" x2="498.4" y2="440.7" stroke="#4a4a4a" stroke-width="1"/>
<line x1="530.9" y1="446.5" x2="530.9" y2="440.7" stroke="#4a4a4a" stroke-width="1"/>
<line x1="563.4" y1="446.5" x2="563.4" y2="440.7" stroke="#4a4a4a" stroke-width="1"/>
<line x1="595.9" y1="446.5" x2="595.9" y2="440.7" stroke="#4a4a4a" stroke-width="1"/>
<line x1="369" y1="376.5" x2="375" y2="376.5" stroke="#8e8e8e" stroke-width="1.3"/>
<line x1="622" y1="376.5" x2="628" y2="376.5" stroke="#8e8e8e" stroke-width="1.3"/>
<line x1="369" y1="408.3" x2="375" y2="408.3" stroke="#8e8e8e" stroke-width="1.3"/>
<line x1="622" y1="408.3" x2="628" y2="408.3" stroke="#8e8e8e" stroke-width="1.3"/>
<line x1="369" y1="440.8" x2="375" y2="440.8" stroke="#8e8e8e" stroke-width="1.3"/>
<line x1="622" y1="440.8" x2="628" y2="440.8" stroke="#8e8e8e" stroke-width="1.3"/>
<line x1="369" y1="446.5" x2="628" y2="446.5" stroke="#404040" stroke-width="1"/>
<line x1="401" y1="536.5" x2="401" y2="530.7" stroke="#4a4a4a" stroke-width="1"/>
<line x1="433.5" y1="536.5" x2="433.5" y2="530.7" stroke="#4a4a4a" stroke-width="1"/>
<line x1="465.9" y1="536.5" x2="465.9" y2="530.7" stroke="#4a4a4a" stroke-width="1"/>
<line x1="498.4" y1="536.5" x2="498.4" y2="530.7" stroke="#4a4a4a" stroke-width="1"/>
<line x1="530.9" y1="536.5" x2="530.9" y2="530.7" stroke="#4a4a4a" stroke-width="1"/>
<line x1="563.4" y1="536.5" x2="563.4" y2="530.7" stroke="#4a4a4a" stroke-width="1"/>
<line x1="595.9" y1="536.5" x2="595.9" y2="530.7" stroke="#4a4a4a" stroke-width="1"/>
<line x1="369" y1="448.8" x2="375" y2="448.8" stroke="#8e8e8e" stroke-width="1.3"/>
<line x1="622" y1="448.8" x2="628" y2="448.8" stroke="#8e8e8e" stroke-width="1.3"/>
<line x1="369" y1="476.1" x2="375" y2="476.1" stroke="#8e8e8e" stroke-width="1.3"/>
<line x1="622" y1="476.1" x2="628" y2="476.1" stroke="#8e8e8e" stroke-width="1.3"/>
<line x1="369" y1="503.2" x2="375" y2="503.2" stroke="#8e8e8e" stroke-width="1.3"/>
<line x1="622" y1="503.2" x2="628" y2="503.2" stroke="#8e8e8e" stroke-width="1.3"/>
<line x1="369" y1="530.2" x2="375" y2="530.2" stroke="#8e8e8e" stroke-width="1.3"/>
<line x1="622" y1="530.2" x2="628" y2="530.2" stroke="#8e8e8e" stroke-width="1.3"/>
<line x1="369" y1="536.5" x2="628" y2="536.5" stroke="#404040" stroke-width="1"/>
<line x1="401" y1="625.5" x2="401" y2="619.7" stroke="#4a4a4a" stroke-width="1"/>
<line x1="433.5" y1="625.5" x2="433.5" y2="619.7" stroke="#4a4a4a" stroke-width="1"/>
<line x1="465.9" y1="625.5" x2="465.9" y2="619.7" stroke="#4a4a4a" stroke-width="1"/>
<line x1="498.4" y1="625.5" x2="498.4" y2="619.7" stroke="#4a4a4a" stroke-width="1"/>
<line x1="530.9" y1="625.5" x2="530.9" y2="619.7" stroke="#4a4a4a" stroke-width="1"/>
<line x1="563.4" y1="625.5" x2="563.4" y2="619.7" stroke="#4a4a4a" stroke-width="1"/>
<line x1="595.9" y1="625.5" x2="595.9" y2="619.7" stroke="#4a4a4a" stroke-width="1"/>
<line x1="369" y1="551.5" x2="375" y2="551.5" stroke="#8e8e8e" stroke-width="1.3"/>
<line x1="622" y1="551.5" x2="628" y2="551.5" stroke="#8e8e8e" stroke-width="1.3"/>
<line x1="369" y1="574.1" x2="375" y2="574.1" stroke="#8e8e8e" stroke-width="1.3"/>
<line x1="622" y1="574.1" x2="628" y2="574.1" stroke="#8e8e8e" stroke-width="1.3"/>
<line x1="369" y1="596.3" x2="375" y2="596.3" stroke="#8e8e8e" stroke-width="1.3"/>
<line x1="622" y1="596.3" x2="628" y2="596.3" stroke="#8e8e8e" stroke-width="1.3"/>
<line x1="369" y1="618.2" x2="375" y2="618.2" stroke="#8e8e8e" stroke-width="1.3"/>
<line x1="622" y1="618.2" x2="628" y2="618.2" stroke="#8e8e8e" stroke-width="1.3"/>
<line x1="369" y1="625.5" x2="628" y2="625.5" stroke="#404040" stroke-width="1"/>
<line x1="401" y1="715.3" x2="401" y2="709.5" stroke="#4a4a4a" stroke-width="1"/>
<line x1="433.5" y1="715.3" x2="433.5" y2="709.5" stroke="#4a4a4a" stroke-width="1"/>
<line x1="465.9" y1="715.3" x2="465.9" y2="709.5" stroke="#4a4a4a" stroke-width="1"/>
<line x1="498.4" y1="715.3" x2="498.4" y2="709.5" stroke="#4a4a4a" stroke-width="1"/>
<line x1="530.9" y1="715.3" x2="530.9" y2="709.5" stroke="#4a4a4a" stroke-width="1"/>
<line x1="563.4" y1="715.3" x2="563.4" y2="709.5" stroke="#4a4a4a" stroke-width="1"/>
<line x1="595.9" y1="715.3" x2="595.9" y2="709.5" stroke="#4a4a4a" stroke-width="1"/>
<line x1="369" y1="633.3" x2="375" y2="633.3" stroke="#8e8e8e" stroke-width="1.3"/>
<line x1="622" y1="633.3" x2="628" y2="633.3" stroke="#8e8e8e" stroke-width="1.3"/>
<line x1="369" y1="648.8" x2="375" y2="648.8" stroke="#8e8e8e" stroke-width="1.3"/>
<line x1="622" y1="648.8" x2="628" y2="648.8" stroke="#8e8e8e" stroke-width="1.3"/>
<line x1="369" y1="664.3" x2="375" y2="664.3" stroke="#8e8e8e" stroke-width="1.3"/>
<line x1="622" y1="664.3" x2="628" y2="664.3" stroke="#8e8e8e" stroke-width="1.3"/>
<line x1="369" y1="680" x2="375" y2="680" stroke="#8e8e8e" stroke-width="1.3"/>
<line x1="622" y1="680" x2="628" y2="680" stroke="#8e8e8e" stroke-width="1.3"/>
<line x1="369" y1="695" x2="375" y2="695" stroke="#8e8e8e" stroke-width="1.3"/>
<line x1="622" y1="695" x2="628" y2="695" stroke="#8e8e8e" stroke-width="1.3"/>
<line x1="369" y1="711.5" x2="375" y2="711.5" stroke="#8e8e8e" stroke-width="1.3"/>
<line x1="622" y1="711.5" x2="628" y2="711.5" stroke="#8e8e8e" stroke-width="1.3"/>
<line x1="368" y1="89" x2="629" y2="89" stroke="#949494" stroke-width="2"/>
<line x1="368" y1="715.3" x2="629" y2="715.3" stroke="#505050" stroke-width="1.3"/>
<line x1="369" y1="88" x2="369" y2="716" stroke="#8c8c8c" stroke-width="2"/>
<line x1="628" y1="88" x2="628" y2="716" stroke="#8c8c8c" stroke-width="2"/>
<text x="44.4" y="106.7" font-size="15" text-anchor="end" fill="#333333" >1.4</text>
<text x="44.4" y="133.7" font-size="15" text-anchor="end" fill="#333333" >1.2</text>
<text x="44.4" y="159.9" font-size="15" text-anchor="end" fill="#333333" >1.0</text>
<text x="635.6" y="120" font-size="15" text-anchor="start" fill="#333333" >1.4</text>
<text x="635.6" y="167.5" font-size="15" text-anchor="start" fill="#333333" >1.0</text>
<text x="44.4" y="201.2" font-size="15" text-anchor="end" fill="#333333" >1.4</text>
<text x="44.4" y="228.6" font-size="15" text-anchor="end" fill="#333333" >1.2</text>
<text x="44.4" y="255.3" font-size="15" text-anchor="end" fill="#333333" >1.0</text>
<text x="635.6" y="217.6" font-size="15" text-anchor="start" fill="#333333" >1.2</text>
<text x="635.6" y="251.9" font-size="15" text-anchor="start" fill="#333333" >1.0</text>
<text x="44.4" y="294.6" font-size="15" text-anchor="end" fill="#333333" >1.4</text>
<text x="44.4" y="317.7" font-size="15" text-anchor="end" fill="#333333" >1.2</text>
<text x="44.4" y="339.9" font-size="15" text-anchor="end" fill="#333333" >1.0</text>
<text x="635.6" y="295.5" font-size="15" text-anchor="start" fill="#333333" >2.0</text>
<text x="635.6" y="352" font-size="15" text-anchor="start" fill="#333333" >1.0</text>
<text x="44.4" y="387" font-size="15" text-anchor="end" fill="#333333" >1.4</text>
<text x="44.4" y="411.6" font-size="15" text-anchor="end" fill="#333333" >1.2</text>
<text x="44.4" y="435.3" font-size="15" text-anchor="end" fill="#333333" >1.0</text>
<text x="635.6" y="380.8" font-size="15" text-anchor="start" fill="#333333" >3.0</text>
<text x="635.6" y="412.6" font-size="15" text-anchor="start" fill="#333333" >2.0</text>
<text x="635.6" y="445.1" font-size="15" text-anchor="start" fill="#333333" >1.0</text>
<text x="44.4" y="480.1" font-size="15" text-anchor="end" fill="#333333" >1.4</text>
<text x="44.4" y="503.5" font-size="15" text-anchor="end" fill="#333333" >1.2</text>
<text x="44.4" y="526.1" font-size="15" text-anchor="end" fill="#333333" >1.0</text>
<text x="635.6" y="480.4" font-size="15" text-anchor="start" fill="#333333" >3.0</text>
<text x="635.6" y="507.5" font-size="15" text-anchor="start" fill="#333333" >2.0</text>
<text x="635.6" y="534.5" font-size="15" text-anchor="start" fill="#333333" >1.0</text>
<text x="44.4" y="563.5" font-size="15" text-anchor="end" fill="#333333" >1.4</text>
<text x="44.4" y="590.6" font-size="15" text-anchor="end" fill="#333333" >1.2</text>
<text x="44.4" y="617" font-size="15" text-anchor="end" fill="#333333" >1.0</text>
<text x="635.6" y="578.4" font-size="15" text-anchor="start" fill="#333333" >2.0</text>
<text x="635.6" y="622.5" font-size="15" text-anchor="start" fill="#333333" >1.0</text>
<text x="44.4" y="644.5" font-size="15" text-anchor="end" fill="#333333" >1.4</text>
<text x="44.4" y="673.5" font-size="15" text-anchor="end" fill="#333333" >1.2</text>
<text x="44.4" y="702.3" font-size="15" text-anchor="end" fill="#333333" >1.0</text>
<text x="635.6" y="668.6" font-size="15" text-anchor="start" fill="#333333" >1.4</text>
<text x="635.6" y="699.3" font-size="15" text-anchor="start" fill="#333333" >1.0</text>
<text x="53.8" y="737.6" font-size="15" text-anchor="middle" fill="#333333" >1.2</text>
<text x="368.5" y="737.6" font-size="15" text-anchor="middle" fill="#333333" >1.2</text>
<text x="118.8" y="737.6" font-size="15" text-anchor="middle" fill="#333333" >1.6</text>
<text x="433.5" y="737.6" font-size="15" text-anchor="middle" fill="#333333" >1.6</text>
<text x="183.7" y="737.6" font-size="15" text-anchor="middle" fill="#333333" >2.0</text>
<text x="498.4" y="737.6" font-size="15" text-anchor="middle" fill="#333333" >2.0</text>
<text x="248.7" y="737.6" font-size="15" text-anchor="middle" fill="#333333" >2.4</text>
<text x="563.4" y="737.6" font-size="15" text-anchor="middle" fill="#333333" >2.4</text>
<text x="341.5" y="138.2" font-size="14" text-anchor="middle" fill="#333333" >&#8722;375</text>
<text x="341.5" y="227.5" font-size="14" text-anchor="middle" fill="#333333" >&#8722;155</text>
<text x="341.5" y="317" font-size="14" text-anchor="middle" fill="#333333" >&#8722;35</text>
<text x="341.5" y="406.5" font-size="14" text-anchor="middle" fill="#333333" >&#8722;6</text>
<text x="341.5" y="496.5" font-size="14" text-anchor="middle" fill="#333333" >24</text>
<text x="341.5" y="586" font-size="14" text-anchor="middle" fill="#333333" >170</text>
<text x="341.5" y="675.4" font-size="14" text-anchor="middle" fill="#333333" >747</text>
<path d="M130 35.4 L129.98 36.03 L129.91 36.65 L129.8 37.27 L129.65 37.89 L129.46 38.49 L129.22 39.09 L128.95 39.68 L128.64 40.25 L128.3 40.82 L127.92 41.36 L127.52 41.9 L127.09 42.41 L126.63 42.91 L126.16 43.39 L125.66 43.86 L125.15 44.3 L124.63 44.74 L124.11 45.15 L123.57 45.55 L123.04 45.93 L122.5 46.3 L121.97 46.66 L121.45 47.01 L120.94 47.35 L120.43 47.68 L119.94 48 L119.47 48.33 L119.01 48.65 L118.58 48.97 L118.16 49.29 L117.76 49.62 L117.39 49.95 L117.04 50.29 L116.7 50.65 L116.39 51.01 L116.11 51.39 L115.82 51.77 L115.53 52.15 L115.24 52.52 L114.94 52.88 L114.63 53.24 L114.31 53.6 L113.99 53.95 L113.67 54.29 L113.33 54.63 L112.99 54.97 L112.65 55.29 L112.3 55.61 L111.94 55.93 L111.58 56.24 L111.22 56.54 L110.85 56.83 L110.47 57.12 L110.09 57.41 L109.71 57.69 L109.35 58 L108.99 58.34 L108.65 58.69 L108.32 59.06 L107.99 59.46 L107.67 59.88 L107.35 60.31 L107.03 60.77 L106.7 61.24 L106.38 61.73 L106.05 62.24 L105.71 62.75 L105.36 63.27 L105 63.8 L104.63 64.34 L104.25 64.87 L103.85 65.41 L103.44 65.93 L103 66.45 L102.56 66.96 L102.09 67.46 L101.61 67.93 L101.11 68.39 L100.6 68.82 L100.06 69.22 L99.52 69.6 L98.95 69.94 L98.38 70.25 L97.79 70.52 L97.19 70.76 L96.59 70.95 L95.97 71.1 L95.35 71.21 L94.73 71.28 L94.1 71.3 L93.47 71.28 L92.85 71.21 L92.23 71.1 L91.61 70.95 L91.01 70.76 L90.41 70.52 L89.82 70.25 L89.25 69.94 L88.68 69.6 L88.14 69.22 L87.6 68.82 L87.09 68.39 L86.59 67.93 L86.11 67.46 L85.64 66.96 L85.2 66.45 L84.76 65.93 L84.35 65.41 L83.95 64.87 L83.57 64.34 L83.2 63.8 L82.84 63.27 L82.49 62.75 L82.15 62.24 L81.82 61.73 L81.5 61.24 L81.17 60.77 L80.85 60.31 L80.53 59.88 L80.21 59.46 L79.88 59.06 L79.55 58.69 L79.21 58.34 L78.85 58 L78.49 57.69 L78.11 57.41 L77.73 57.12 L77.35 56.83 L76.98 56.54 L76.62 56.24 L76.26 55.93 L75.9 55.61 L75.55 55.29 L75.21 54.97 L74.87 54.63 L74.53 54.29 L74.21 53.95 L73.89 53.6 L73.57 53.24 L73.26 52.88 L72.96 52.52 L72.67 52.15 L72.38 51.77 L72.09 51.39 L71.81 51.01 L71.5 50.65 L71.16 50.29 L70.81 49.95 L70.44 49.62 L70.04 49.29 L69.62 48.97 L69.19 48.65 L68.73 48.33 L68.26 48 L67.77 47.68 L67.26 47.35 L66.75 47.01 L66.23 46.66 L65.7 46.3 L65.16 45.93 L64.63 45.55 L64.09 45.15 L63.57 44.74 L63.05 44.3 L62.54 43.86 L62.04 43.39 L61.57 42.91 L61.11 42.41 L60.68 41.9 L60.28 41.36 L59.9 40.82 L59.56 40.25 L59.25 39.68 L58.98 39.09 L58.74 38.49 L58.55 37.89 L58.4 37.27 L58.29 36.65 L58.22 36.03 L58.2 35.4 L58.22 34.77 L58.29 34.15 L58.4 33.53 L58.55 32.91 L58.74 32.31 L58.98 31.71 L59.25 31.12 L59.56 30.55 L59.9 29.98 L60.28 29.44 L60.68 28.9 L61.11 28.39 L61.57 27.89 L62.04 27.41 L62.54 26.94 L63.05 26.5 L63.57 26.06 L64.09 25.65 L64.63 25.25 L65.16 24.87 L65.7 24.5 L66.23 24.14 L66.75 23.79 L67.26 23.45 L67.77 23.12 L68.26 22.8 L68.73 22.47 L69.19 22.15 L69.62 21.83 L70.04 21.51 L70.44 21.18 L70.81 20.85 L71.16 20.51 L71.5 20.15 L71.81 19.79 L72.09 19.41 L72.38 19.03 L72.67 18.65 L72.96 18.28 L73.26 17.92 L73.57 17.56 L73.89 17.2 L74.21 16.85 L74.53 16.51 L74.87 16.17 L75.21 15.83 L75.55 15.51 L75.9 15.19 L76.26 14.87 L76.62 14.56 L76.98 14.26 L77.35 13.97 L77.73 13.68 L78.11 13.39 L78.49 13.11 L78.85 12.8 L79.21 12.46 L79.55 12.11 L79.88 11.74 L80.21 11.34 L80.53 10.92 L80.85 10.49 L81.17 10.03 L81.5 9.56 L81.82 9.07 L82.15 8.56 L82.49 8.05 L82.84 7.53 L83.2 7 L83.57 6.46 L83.95 5.93 L84.35 5.39 L84.76 4.87 L85.2 4.35 L85.64 3.84 L86.11 3.34 L86.59 2.87 L87.09 2.41 L87.6 1.98 L88.14 1.58 L88.68 1.2 L89.25 0.86 L89.82 0.55 L90.41 0.28 L91.01 0.04 L91.61 -0.15 L92.23 -0.3 L92.85 -0.41 L93.47 -0.48 L94.1 -0.5 L94.73 -0.48 L95.35 -0.41 L95.97 -0.3 L96.59 -0.15 L97.19 0.04 L97.79 0.28 L98.38 0.55 L98.95 0.86 L99.52 1.2 L100.06 1.58 L100.6 1.98 L101.11 2.41 L101.61 2.87 L102.09 3.34 L102.56 3.84 L103 4.35 L103.44 4.87 L103.85 5.39 L104.25 5.93 L104.63 6.46 L105 7 L105.36 7.53 L105.71 8.05 L106.05 8.56 L106.38 9.07 L106.7 9.56 L107.03 10.03 L107.35 10.49 L107.67 10.92 L107.99 11.34 L108.32 11.74 L108.65 12.11 L108.99 12.46 L109.35 12.8 L109.71 13.11 L110.09 13.39 L110.47 13.68 L110.85 13.97 L111.22 14.26 L111.58 14.56 L111.94 14.87 L112.3 15.19 L112.65 15.51 L112.99 15.83 L113.33 16.17 L113.67 16.51 L113.99 16.85 L114.31 17.2 L114.63 17.56 L114.94 17.92 L115.24 18.28 L115.53 18.65 L115.82 19.03 L116.11 19.41 L116.39 19.79 L116.7 20.15 L117.04 20.51 L117.39 20.85 L117.76 21.18 L118.16 21.51 L118.58 21.83 L119.01 22.15 L119.47 22.47 L119.94 22.8 L120.43 23.12 L120.94 23.45 L121.45 23.79 L121.97 24.14 L122.5 24.5 L123.04 24.87 L123.57 25.25 L124.11 25.65 L124.63 26.06 L125.15 26.5 L125.66 26.94 L126.16 27.41 L126.63 27.89 L127.09 28.39 L127.52 28.9 L127.92 29.44 L128.3 29.98 L128.64 30.55 L128.95 31.12 L129.22 31.71 L129.46 32.31 L129.65 32.91 L129.8 33.53 L129.91 34.15 L129.98 34.77 Z" fill="#f6d3bc" stroke="#2b2b2b" stroke-width="1.15" stroke-dasharray="4.8 2.8"/>
<circle cx="94.1" cy="35.4" r="27.7" fill="#eeb493" stroke="#2b2b2b" stroke-width="1.1"/>
<path d="M113.4 35.4 L113.4 41.96 L113.4 43.29 L113.39 44.19 L113.39 44.89 L113.38 45.47 L113.37 45.97 L113.36 46.41 L113.35 46.81 L113.34 47.17 L113.32 47.5 L113.3 47.81 L113.29 48.1 L113.27 48.37 L113.25 48.62 L113.22 48.86 L113.2 49.09 L113.17 49.3 L113.14 49.51 L113.11 49.71 L113.08 49.9 L113.05 50.08 L113.01 50.25 L112.98 50.42 L112.94 50.58 L112.9 50.74 L112.86 50.89 L112.82 51.04 L112.77 51.18 L112.72 51.31 L112.67 51.44 L112.62 51.57 L112.57 51.69 L112.52 51.81 L112.46 51.93 L112.4 52.04 L112.34 52.15 L112.28 52.26 L112.21 52.36 L112.15 52.46 L112.08 52.55 L112 52.65 L111.93 52.74 L111.86 52.83 L111.78 52.91 L111.7 53 L111.61 53.08 L111.53 53.16 L111.44 53.23 L111.35 53.3 L111.25 53.38 L111.16 53.45 L111.06 53.51 L110.96 53.58 L110.85 53.64 L110.74 53.7 L110.63 53.76 L110.51 53.82 L110.39 53.87 L110.27 53.92 L110.14 53.97 L110.01 54.02 L109.88 54.07 L109.74 54.12 L109.59 54.16 L109.44 54.2 L109.28 54.24 L109.12 54.28 L108.95 54.31 L108.78 54.35 L108.6 54.38 L108.41 54.41 L108.21 54.44 L108 54.47 L107.79 54.5 L107.56 54.52 L107.32 54.55 L107.07 54.57 L106.8 54.59 L106.51 54.6 L106.2 54.62 L105.87 54.64 L105.51 54.65 L105.11 54.66 L104.67 54.67 L104.17 54.68 L103.59 54.69 L102.89 54.69 L101.99 54.7 L100.66 54.7 L94.1 54.7 L87.54 54.7 L86.21 54.7 L85.31 54.69 L84.61 54.69 L84.03 54.68 L83.53 54.67 L83.09 54.66 L82.69 54.65 L82.33 54.64 L82 54.62 L81.69 54.6 L81.4 54.59 L81.13 54.57 L80.88 54.55 L80.64 54.52 L80.41 54.5 L80.2 54.47 L79.99 54.44 L79.79 54.41 L79.6 54.38 L79.42 54.35 L79.25 54.31 L79.08 54.28 L78.92 54.24 L78.76 54.2 L78.61 54.16 L78.46 54.12 L78.32 54.07 L78.19 54.02 L78.06 53.97 L77.93 53.92 L77.81 53.87 L77.69 53.82 L77.57 53.76 L77.46 53.7 L77.35 53.64 L77.24 53.58 L77.14 53.51 L77.04 53.45 L76.95 53.38 L76.85 53.3 L76.76 53.23 L76.67 53.16 L76.59 53.08 L76.5 53 L76.42 52.91 L76.34 52.83 L76.27 52.74 L76.2 52.65 L76.12 52.55 L76.05 52.46 L75.99 52.36 L75.92 52.26 L75.86 52.15 L75.8 52.04 L75.74 51.93 L75.68 51.81 L75.63 51.69 L75.58 51.57 L75.53 51.44 L75.48 51.31 L75.43 51.18 L75.38 51.04 L75.34 50.89 L75.3 50.74 L75.26 50.58 L75.22 50.42 L75.19 50.25 L75.15 50.08 L75.12 49.9 L75.09 49.71 L75.06 49.51 L75.03 49.3 L75 49.09 L74.98 48.86 L74.95 48.62 L74.93 48.37 L74.91 48.1 L74.9 47.81 L74.88 47.5 L74.86 47.17 L74.85 46.81 L74.84 46.41 L74.83 45.97 L74.82 45.47 L74.81 44.89 L74.81 44.19 L74.8 43.29 L74.8 41.96 L74.8 35.4 L74.8 28.84 L74.8 27.51 L74.81 26.61 L74.81 25.91 L74.82 25.33 L74.83 24.83 L74.84 24.39 L74.85 23.99 L74.86 23.63 L74.88 23.3 L74.9 22.99 L74.91 22.7 L74.93 22.43 L74.95 22.18 L74.98 21.94 L75 21.71 L75.03 21.5 L75.06 21.29 L75.09 21.09 L75.12 20.9 L75.15 20.72 L75.19 20.55 L75.22 20.38 L75.26 20.22 L75.3 20.06 L75.34 19.91 L75.38 19.76 L75.43 19.62 L75.48 19.49 L75.53 19.36 L75.58 19.23 L75.63 19.11 L75.68 18.99 L75.74 18.87 L75.8 18.76 L75.86 18.65 L75.92 18.54 L75.99 18.44 L76.05 18.34 L76.12 18.25 L76.2 18.15 L76.27 18.06 L76.34 17.97 L76.42 17.89 L76.5 17.8 L76.59 17.72 L76.67 17.64 L76.76 17.57 L76.85 17.5 L76.95 17.42 L77.04 17.35 L77.14 17.29 L77.24 17.22 L77.35 17.16 L77.46 17.1 L77.57 17.04 L77.69 16.98 L77.81 16.93 L77.93 16.88 L78.06 16.83 L78.19 16.78 L78.32 16.73 L78.46 16.68 L78.61 16.64 L78.76 16.6 L78.92 16.56 L79.08 16.52 L79.25 16.49 L79.42 16.45 L79.6 16.42 L79.79 16.39 L79.99 16.36 L80.2 16.33 L80.41 16.3 L80.64 16.28 L80.88 16.25 L81.13 16.23 L81.4 16.21 L81.69 16.2 L82 16.18 L82.33 16.16 L82.69 16.15 L83.09 16.14 L83.53 16.13 L84.03 16.12 L84.61 16.11 L85.31 16.11 L86.21 16.1 L87.54 16.1 L94.1 16.1 L100.66 16.1 L101.99 16.1 L102.89 16.11 L103.59 16.11 L104.17 16.12 L104.67 16.13 L105.11 16.14 L105.51 16.15 L105.87 16.16 L106.2 16.18 L106.51 16.2 L106.8 16.21 L107.07 16.23 L107.32 16.25 L107.56 16.28 L107.79 16.3 L108 16.33 L108.21 16.36 L108.41 16.39 L108.6 16.42 L108.78 16.45 L108.95 16.49 L109.12 16.52 L109.28 16.56 L109.44 16.6 L109.59 16.64 L109.74 16.68 L109.88 16.73 L110.01 16.78 L110.14 16.83 L110.27 16.88 L110.39 16.93 L110.51 16.98 L110.63 17.04 L110.74 17.1 L110.85 17.16 L110.96 17.22 L111.06 17.29 L111.16 17.35 L111.25 17.42 L111.35 17.5 L111.44 17.57 L111.53 17.64 L111.61 17.72 L111.7 17.8 L111.78 17.89 L111.86 17.97 L111.93 18.06 L112 18.15 L112.08 18.25 L112.15 18.34 L112.21 18.44 L112.28 18.54 L112.34 18.65 L112.4 18.76 L112.46 18.87 L112.52 18.99 L112.57 19.11 L112.62 19.23 L112.67 19.36 L112.72 19.49 L112.77 19.62 L112.82 19.76 L112.86 19.91 L112.9 20.06 L112.94 20.22 L112.98 20.38 L113.01 20.55 L113.05 20.72 L113.08 20.9 L113.11 21.09 L113.14 21.29 L113.17 21.5 L113.2 21.71 L113.22 21.94 L113.25 22.18 L113.27 22.43 L113.29 22.7 L113.3 22.99 L113.32 23.3 L113.34 23.63 L113.35 23.99 L113.36 24.39 L113.37 24.83 L113.38 25.33 L113.39 25.91 L113.39 26.61 L113.4 27.51 L113.4 28.84 Z" fill="#e8966c" stroke="#2b2b2b" stroke-width="1.15" stroke-dasharray="4.8 2.8"/>
<circle cx="183.3" cy="35.4" r="35.6" fill="#f6d3bc" stroke="#2b2b2b" stroke-width="1.15" stroke-dasharray="4.8 2.8"/>
<circle cx="183.3" cy="35.4" r="27.7" fill="#eeb493" stroke="#2b2b2b" stroke-width="1.1"/>
<circle cx="183.3" cy="35.4" r="19.5" fill="#e8966c" stroke="#2b2b2b" stroke-width="1.15" stroke-dasharray="4.8 2.8"/>
<ellipse cx="543" cy="35.4" rx="26.4" ry="35.6" fill="#bfcfee" stroke="#2b2b2b" stroke-width="1.15" stroke-dasharray="4.8 2.8"/>
<circle cx="543" cy="35.4" r="27.7" fill="#a2b9e4" stroke="#2b2b2b" stroke-width="1.1"/>
<ellipse cx="543" cy="35.4" rx="27.4" ry="19.6" fill="#7ea2d9" stroke="#2b2b2b" stroke-width="1.15" stroke-dasharray="4.8 2.8"/>
<line x1="94.2" y1="73" x2="94.2" y2="83.6" stroke="#3f5576" stroke-width="1.4"/>
<path d="M94.2 86.6 L90.9 78 L94.2 80.4 L97.5 78 Z" fill="#3f5576"/>
<line x1="183.4" y1="73" x2="183.4" y2="83.6" stroke="#3f5576" stroke-width="1.4"/>
<path d="M183.4 86.6 L180.1 78 L183.4 80.4 L186.7 78 Z" fill="#3f5576"/>
<line x1="543.1" y1="73" x2="543.1" y2="83.6" stroke="#3f5576" stroke-width="1.4"/>
<path d="M543.1 86.6 L539.8 78 L543.1 80.4 L546.4 78 Z" fill="#3f5576"/>
<line x1="617.5" y1="61" x2="617.5" y2="16" stroke="#3f5576" stroke-width="2.3"/>
<path d="M617.5 9.6 L621.6 20.6 L617.5 18.4 L613.4 20.6 Z" fill="#3f5576" stroke="#3f5576" stroke-width="0.8" stroke-linejoin="round"/>
<line x1="608" y1="52.1" x2="653" y2="52.1" stroke="#3f5576" stroke-width="2.3"/>
<path d="M658.8 52.1 L647.8 56.3 L650 52.1 L647.8 47.9 Z" fill="#3f5576" stroke="#3f5576" stroke-width="0.8" stroke-linejoin="round"/>
<text x="601.8" y="22.9" font-size="15.5" font-style="italic" fill="#2e2e2e">y</text>
<text x="648.9" y="69.2" font-size="15.5" font-style="italic" fill="#2e2e2e">x</text>
<text x="313.9" y="77.2" font-size="16.5" fill="#333333" font-style="italic">a</text>
<text x="323.2" y="82.5" font-size="11.6" fill="#333333">BF</text>
<text x="342" y="77.2" font-size="16.5" fill="#333333">(</text>
<text x="347.6" y="77.2" font-size="16.5" fill="#333333" font-style="italic">a</text>
<text x="357.5" y="82.5" font-size="11.8" fill="#333333">0</text>
<text x="365.9" y="77.2" font-size="16.5" fill="#333333">)</text>
<text x="162.7" y="769" font-size="17" fill="#333333" font-style="italic">&#969;</text>
<text x="176" y="770.2" font-size="21" fill="#333333">/</text>
<text x="182.4" y="769" font-size="17" fill="#333333" font-style="italic">&#969;</text>
<text x="196.3" y="759.9" font-size="10.8" fill="#333333">B</text>
<text x="196" y="773.8" font-size="11" fill="#333333">&#8869;</text>
<text x="478.3" y="769" font-size="17" fill="#333333" font-style="italic">&#969;</text>
<text x="491.6" y="770.2" font-size="21" fill="#333333">/</text>
<text x="498" y="769" font-size="17" fill="#333333" font-style="italic">&#969;</text>
<text x="511.9" y="759.9" font-size="10.8" fill="#333333">B</text>
<text x="511.6" y="773.8" font-size="11" fill="#333333">&#8869;</text>
<text transform="translate(15.4 401.3) rotate(-90)" font-size="17.6" text-anchor="middle" textLength="202" lengthAdjust="spacingAndGlyphs" fill="#333333">Normalized boson width</text>
<text transform="translate(669.6 405.2) rotate(90)" font-size="17.6" text-anchor="middle" textLength="221" lengthAdjust="spacingAndGlyphs" fill="#333333">Normalized fermion width</text>
</svg>
</body></html>
